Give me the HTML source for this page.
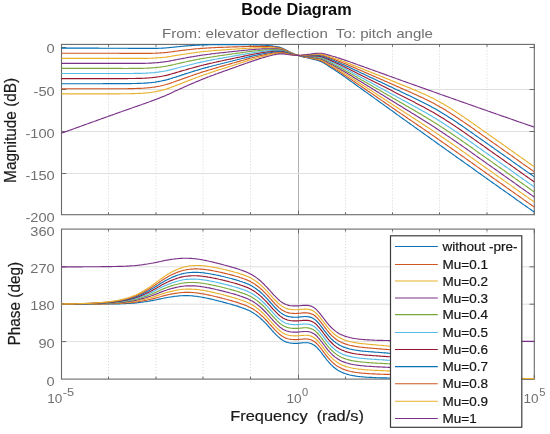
<!DOCTYPE html><html><head><meta charset="utf-8"><title>Bode Diagram</title>
<style>html,body{margin:0;padding:0;background:#fff}svg{display:block}text{font-family:"Liberation Sans",Arial,sans-serif}</style></head><body>
<svg width="550" height="434" viewBox="0 0 550 434">
<rect width="550" height="434" fill="#fff"/>
<defs><clipPath id="c1"><rect x="61.0" y="43.9" width="473.8" height="171.3"/></clipPath><clipPath id="c2"><rect x="61.0" y="228.6" width="473.8" height="151.2"/></clipPath><filter id="bl" filterUnits="userSpaceOnUse" x="0" y="0" width="550" height="434"><feGaussianBlur stdDeviation="0.4"/></filter></defs>
<line x1="108.5" y1="44.4" x2="108.5" y2="214.7" stroke="#d6d6d6" stroke-width="1" stroke-dasharray="1 2"/>
<line x1="156.0" y1="44.4" x2="156.0" y2="214.7" stroke="#d6d6d6" stroke-width="1" stroke-dasharray="1 2"/>
<line x1="203.0" y1="44.4" x2="203.0" y2="214.7" stroke="#d6d6d6" stroke-width="1" stroke-dasharray="1 2"/>
<line x1="250.5" y1="44.4" x2="250.5" y2="214.7" stroke="#d6d6d6" stroke-width="1" stroke-dasharray="1 2"/>
<line x1="298.5" y1="44.4" x2="298.5" y2="214.7" stroke="#b0b0b0" stroke-width="1"/>
<line x1="345.5" y1="44.4" x2="345.5" y2="214.7" stroke="#d6d6d6" stroke-width="1" stroke-dasharray="1 2"/>
<line x1="392.5" y1="44.4" x2="392.5" y2="214.7" stroke="#d6d6d6" stroke-width="1" stroke-dasharray="1 2"/>
<line x1="439.5" y1="44.4" x2="439.5" y2="214.7" stroke="#d6d6d6" stroke-width="1" stroke-dasharray="1 2"/>
<line x1="487.0" y1="44.4" x2="487.0" y2="214.7" stroke="#d6d6d6" stroke-width="1" stroke-dasharray="1 2"/>
<line x1="61.5" y1="89.5" x2="534.3" y2="89.5" stroke="#dfdfdf" stroke-width="1"/>
<line x1="61.5" y1="131.5" x2="534.3" y2="131.5" stroke="#dfdfdf" stroke-width="1"/>
<line x1="61.5" y1="173.5" x2="534.3" y2="173.5" stroke="#dfdfdf" stroke-width="1"/>
<rect x="61.5" y="44.4" width="472.8" height="170.3" fill="none" stroke="#6a6a6a" stroke-width="1.1"/>
<path d="M61.5 214.7v-4.2M61.5 44.4v4.2" stroke="#6a6a6a" stroke-width="1"/>
<path d="M108.5 214.7v-2.4M108.5 44.4v2.4" stroke="#6a6a6a" stroke-width="1"/>
<path d="M156.0 214.7v-2.4M156.0 44.4v2.4" stroke="#6a6a6a" stroke-width="1"/>
<path d="M203.0 214.7v-2.4M203.0 44.4v2.4" stroke="#6a6a6a" stroke-width="1"/>
<path d="M250.5 214.7v-2.4M250.5 44.4v2.4" stroke="#6a6a6a" stroke-width="1"/>
<path d="M298.5 214.7v-4.2M298.5 44.4v4.2" stroke="#6a6a6a" stroke-width="1"/>
<path d="M345.5 214.7v-2.4M345.5 44.4v2.4" stroke="#6a6a6a" stroke-width="1"/>
<path d="M392.5 214.7v-2.4M392.5 44.4v2.4" stroke="#6a6a6a" stroke-width="1"/>
<path d="M439.5 214.7v-2.4M439.5 44.4v2.4" stroke="#6a6a6a" stroke-width="1"/>
<path d="M487.0 214.7v-2.4M487.0 44.4v2.4" stroke="#6a6a6a" stroke-width="1"/>
<path d="M534.3 214.7v-4.2M534.3 44.4v4.2" stroke="#6a6a6a" stroke-width="1"/>
<path d="M61.5 47.5h4.8M534.3 47.5h-4.8" stroke="#6a6a6a" stroke-width="1"/>
<path d="M61.5 89.5h4.8M534.3 89.5h-4.8" stroke="#6a6a6a" stroke-width="1"/>
<path d="M61.5 131.5h4.8M534.3 131.5h-4.8" stroke="#6a6a6a" stroke-width="1"/>
<path d="M61.5 173.5h4.8M534.3 173.5h-4.8" stroke="#6a6a6a" stroke-width="1"/>
<g clip-path="url(#c1)"><g filter="url(#bl)" fill="none" stroke-width="1.15" stroke-linejoin="round">
<path d="M61.5 48.1 L62.5 48.1 L63.5 48.1 L64.5 48.1 L65.5 48.1 L66.5 48.1 L67.5 48.1 L68.5 48.1 L69.5 48.1 L70.5 48.1 L71.5 48.1 L72.5 48.1 L73.5 48.1 L74.5 48.1 L75.5 48.1 L76.5 48.1 L77.5 48.1 L78.5 48.1 L79.5 48.1 L80.5 48.1 L81.4 48.1 L82.4 48.1 L83.4 48.1 L84.4 48.1 L85.4 48.1 L86.4 48.1 L87.4 48.1 L88.4 48.1 L89.4 48.1 L90.4 48.1 L91.4 48.1 L92.4 48.1 L93.4 48.1 L94.4 48.1 L95.4 48.1 L96.4 48.1 L97.4 48.1 L98.4 48.1 L99.4 48.2 L100.4 48.2 L101.4 48.2 L102.4 48.2 L103.4 48.2 L104.4 48.2 L105.4 48.2 L106.4 48.2 L107.4 48.2 L108.4 48.2 L109.4 48.2 L110.4 48.2 L111.4 48.2 L112.4 48.2 L113.4 48.2 L114.4 48.2 L115.4 48.2 L116.4 48.2 L117.4 48.2 L118.4 48.2 L119.4 48.2 L120.4 48.2 L121.3 48.2 L122.3 48.2 L123.3 48.2 L124.3 48.2 L125.3 48.2 L126.3 48.2 L127.3 48.2 L128.3 48.3 L129.3 48.3 L130.3 48.3 L131.3 48.3 L132.3 48.3 L133.3 48.3 L134.3 48.3 L135.3 48.3 L136.3 48.3 L137.3 48.3 L138.3 48.3 L139.3 48.3 L140.3 48.3 L141.3 48.4 L142.3 48.4 L143.3 48.4 L144.3 48.4 L145.3 48.4 L146.3 48.4 L147.3 48.4 L148.3 48.4 L149.3 48.4 L150.3 48.4 L151.3 48.4 L152.3 48.4 L153.3 48.4 L154.3 48.4 L155.3 48.3 L156.3 48.3 L157.3 48.3 L158.3 48.3 L159.3 48.2 L160.2 48.2 L161.2 48.2 L162.2 48.1 L163.2 48.1 L164.2 48.0 L165.2 48.0 L166.2 47.9 L167.2 47.8 L168.2 47.7 L169.2 47.6 L170.2 47.5 L171.2 47.4 L172.2 47.3 L173.2 47.2 L174.2 47.1 L175.2 47.0 L176.2 46.9 L177.2 46.8 L178.2 46.7 L179.2 46.6 L180.2 46.5 L181.2 46.4 L182.2 46.3 L183.2 46.2 L184.2 46.1 L185.2 46.0 L186.2 45.9 L187.2 45.9 L188.2 45.8 L189.2 45.7 L190.2 45.6 L191.2 45.6 L192.2 45.5 L193.2 45.4 L194.2 45.4 L195.2 45.3 L196.2 45.2 L197.2 45.2 L198.2 45.1 L199.2 45.1 L200.1 45.0 L201.1 45.0 L202.1 44.9 L203.1 44.9 L204.1 44.9 L205.1 44.8 L206.1 44.8 L207.1 44.8 L208.1 44.8 L209.1 44.7 L210.1 44.7 L211.1 44.7 L212.1 44.7 L213.1 44.7 L214.1 44.7 L215.1 44.6 L216.1 44.6 L217.1 44.6 L218.1 44.6 L219.1 44.6 L220.1 44.6 L221.1 44.6 L222.1 44.6 L223.1 44.6 L224.1 44.6 L225.1 44.6 L226.1 44.6 L227.1 44.6 L228.1 44.6 L229.1 44.6 L230.1 44.6 L231.1 44.6 L232.1 44.6 L233.1 44.6 L234.1 44.6 L235.1 44.6 L236.1 44.6 L237.1 44.6 L238.1 44.6 L239.0 44.6 L240.0 44.6 L241.0 44.6 L242.0 44.7 L243.0 44.7 L244.0 44.7 L245.0 44.7 L246.0 44.7 L247.0 44.7 L248.0 44.7 L249.0 44.7 L250.0 44.7 L251.0 44.7 L252.0 44.7 L253.0 44.8 L254.0 44.8 L255.0 44.8 L256.0 44.8 L257.0 44.9 L258.0 44.9 L259.0 45.0 L260.0 45.0 L261.0 45.1 L262.0 45.1 L263.0 45.2 L264.0 45.2 L265.0 45.3 L266.0 45.4 L267.0 45.4 L268.0 45.5 L269.0 45.6 L270.0 45.7 L271.0 45.8 L272.0 45.9 L273.0 46.1 L274.0 46.2 L275.0 46.3 L276.0 46.5 L277.0 46.7 L278.0 46.9 L278.9 47.1 L279.9 47.4 L280.9 47.7 L281.9 48.0 L282.9 48.5 L283.9 48.9 L284.9 49.4 L285.9 49.9 L286.9 50.4 L287.9 50.9 L288.9 51.4 L289.9 51.9 L290.9 52.4 L291.9 52.9 L292.9 53.4 L293.9 53.8 L294.9 54.2 L295.9 54.7 L296.9 55.0 L297.9 55.4 L298.9 55.7 L299.9 56.0 L300.9 56.3 L301.9 56.6 L302.9 56.8 L303.9 57.1 L304.9 57.3 L305.9 57.5 L306.9 57.8 L307.9 58.0 L308.9 58.2 L309.9 58.5 L310.9 58.7 L311.9 58.9 L312.9 59.2 L313.9 59.4 L314.9 59.6 L315.9 59.8 L316.9 60.1 L317.8 60.4 L318.8 60.7 L319.8 61.1 L320.8 61.5 L321.8 61.9 L322.8 62.4 L323.8 63.0 L324.8 63.6 L325.8 64.2 L326.8 64.9 L327.8 65.6 L328.8 66.2 L329.8 66.9 L330.8 67.5 L331.8 68.2 L332.8 68.8 L333.8 69.5 L334.8 70.1 L335.8 70.8 L336.8 71.4 L337.8 72.1 L338.8 72.8 L339.8 73.5 L340.8 74.1 L341.8 74.8 L342.8 75.5 L343.8 76.2 L344.8 76.9 L345.8 77.6 L346.8 78.3 L347.8 79.0 L348.8 79.7 L349.8 80.5 L350.8 81.2 L351.8 81.9 L352.8 82.6 L353.8 83.3 L354.8 84.0 L355.8 84.8 L356.8 85.5 L357.7 86.2 L358.7 86.9 L359.7 87.6 L360.7 88.3 L361.7 89.0 L362.7 89.8 L363.7 90.5 L364.7 91.2 L365.7 91.9 L366.7 92.6 L367.7 93.3 L368.7 94.1 L369.7 94.8 L370.7 95.5 L371.7 96.2 L372.7 96.9 L373.7 97.6 L374.7 98.4 L375.7 99.1 L376.7 99.8 L377.7 100.5 L378.7 101.2 L379.7 102.0 L380.7 102.7 L381.7 103.4 L382.7 104.1 L383.7 104.8 L384.7 105.6 L385.7 106.3 L386.7 107.0 L387.7 107.7 L388.7 108.4 L389.7 109.2 L390.7 109.9 L391.7 110.6 L392.7 111.3 L393.7 112.0 L394.7 112.8 L395.7 113.5 L396.6 114.2 L397.6 114.9 L398.6 115.6 L399.6 116.3 L400.6 117.1 L401.6 117.8 L402.6 118.5 L403.6 119.2 L404.6 119.9 L405.6 120.6 L406.6 121.3 L407.6 122.1 L408.6 122.8 L409.6 123.5 L410.6 124.2 L411.6 124.9 L412.6 125.6 L413.6 126.3 L414.6 127.1 L415.6 127.8 L416.6 128.5 L417.6 129.2 L418.6 129.9 L419.6 130.6 L420.6 131.3 L421.6 132.1 L422.6 132.8 L423.6 133.5 L424.6 134.2 L425.6 134.9 L426.6 135.6 L427.6 136.3 L428.6 137.0 L429.6 137.8 L430.6 138.5 L431.6 139.2 L432.6 139.9 L433.6 140.6 L434.6 141.3 L435.6 142.0 L436.5 142.7 L437.5 143.5 L438.5 144.2 L439.5 144.9 L440.5 145.6 L441.5 146.3 L442.5 147.0 L443.5 147.7 L444.5 148.4 L445.5 149.2 L446.5 149.9 L447.5 150.6 L448.5 151.3 L449.5 152.0 L450.5 152.7 L451.5 153.4 L452.5 154.1 L453.5 154.8 L454.5 155.6 L455.5 156.3 L456.5 157.0 L457.5 157.7 L458.5 158.4 L459.5 159.1 L460.5 159.8 L461.5 160.5 L462.5 161.2 L463.5 161.9 L464.5 162.7 L465.5 163.4 L466.5 164.1 L467.5 164.8 L468.5 165.5 L469.5 166.2 L470.5 166.9 L471.5 167.6 L472.5 168.3 L473.5 169.0 L474.5 169.8 L475.4 170.5 L476.4 171.2 L477.4 171.9 L478.4 172.6 L479.4 173.3 L480.4 174.0 L481.4 174.7 L482.4 175.4 L483.4 176.1 L484.4 176.8 L485.4 177.6 L486.4 178.3 L487.4 179.0 L488.4 179.7 L489.4 180.4 L490.4 181.1 L491.4 181.8 L492.4 182.5 L493.4 183.2 L494.4 183.9 L495.4 184.6 L496.4 185.3 L497.4 186.0 L498.4 186.8 L499.4 187.5 L500.4 188.2 L501.4 188.9 L502.4 189.6 L503.4 190.3 L504.4 191.0 L505.4 191.7 L506.4 192.4 L507.4 193.1 L508.4 193.8 L509.4 194.5 L510.4 195.2 L511.4 195.9 L512.4 196.6 L513.4 197.3 L514.4 198.0 L515.3 198.8 L516.3 199.5 L517.3 200.2 L518.3 200.9 L519.3 201.6 L520.3 202.3 L521.3 203.0 L522.3 203.7 L523.3 204.4 L524.3 205.1 L525.3 205.8 L526.3 206.5 L527.3 207.2 L528.3 207.9 L529.3 208.6 L530.3 209.3 L531.3 210.0 L532.3 210.7 L533.3 211.4 L534.3 212.1" stroke="#096fb3"/>
<path d="M61.5 53.2 L62.5 53.2 L63.5 53.2 L64.5 53.2 L65.5 53.2 L66.5 53.2 L67.5 53.2 L68.5 53.2 L69.5 53.2 L70.5 53.2 L71.5 53.2 L72.5 53.2 L73.5 53.2 L74.5 53.2 L75.5 53.2 L76.5 53.2 L77.5 53.2 L78.5 53.2 L79.5 53.2 L80.5 53.2 L81.4 53.2 L82.4 53.2 L83.4 53.2 L84.4 53.2 L85.4 53.2 L86.4 53.2 L87.4 53.2 L88.4 53.2 L89.4 53.2 L90.4 53.2 L91.4 53.2 L92.4 53.2 L93.4 53.2 L94.4 53.2 L95.4 53.2 L96.4 53.2 L97.4 53.2 L98.4 53.2 L99.4 53.2 L100.4 53.2 L101.4 53.2 L102.4 53.2 L103.4 53.2 L104.4 53.2 L105.4 53.2 L106.4 53.2 L107.4 53.2 L108.4 53.2 L109.4 53.2 L110.4 53.2 L111.4 53.2 L112.4 53.2 L113.4 53.2 L114.4 53.2 L115.4 53.2 L116.4 53.2 L117.4 53.2 L118.4 53.2 L119.4 53.3 L120.4 53.3 L121.3 53.3 L122.3 53.3 L123.3 53.3 L124.3 53.3 L125.3 53.3 L126.3 53.3 L127.3 53.3 L128.3 53.3 L129.3 53.3 L130.3 53.3 L131.3 53.3 L132.3 53.3 L133.3 53.3 L134.3 53.3 L135.3 53.3 L136.3 53.3 L137.3 53.3 L138.3 53.3 L139.3 53.3 L140.3 53.3 L141.3 53.3 L142.3 53.3 L143.3 53.3 L144.3 53.3 L145.3 53.3 L146.3 53.3 L147.3 53.3 L148.3 53.3 L149.3 53.3 L150.3 53.3 L151.3 53.3 L152.3 53.3 L153.3 53.2 L154.3 53.2 L155.3 53.2 L156.3 53.1 L157.3 53.1 L158.3 53.0 L159.3 53.0 L160.2 52.9 L161.2 52.9 L162.2 52.8 L163.2 52.7 L164.2 52.6 L165.2 52.6 L166.2 52.5 L167.2 52.4 L168.2 52.3 L169.2 52.1 L170.2 52.0 L171.2 51.9 L172.2 51.7 L173.2 51.6 L174.2 51.4 L175.2 51.3 L176.2 51.2 L177.2 51.0 L178.2 50.9 L179.2 50.8 L180.2 50.6 L181.2 50.5 L182.2 50.4 L183.2 50.3 L184.2 50.1 L185.2 50.0 L186.2 49.9 L187.2 49.8 L188.2 49.7 L189.2 49.6 L190.2 49.5 L191.2 49.4 L192.2 49.2 L193.2 49.1 L194.2 49.0 L195.2 48.9 L196.2 48.8 L197.2 48.7 L198.2 48.7 L199.2 48.6 L200.1 48.5 L201.1 48.4 L202.1 48.3 L203.1 48.3 L204.1 48.2 L205.1 48.1 L206.1 48.1 L207.1 48.0 L208.1 48.0 L209.1 47.9 L210.1 47.8 L211.1 47.8 L212.1 47.7 L213.1 47.7 L214.1 47.6 L215.1 47.6 L216.1 47.5 L217.1 47.5 L218.1 47.4 L219.1 47.4 L220.1 47.4 L221.1 47.3 L222.1 47.3 L223.1 47.3 L224.1 47.2 L225.1 47.2 L226.1 47.2 L227.1 47.1 L228.1 47.1 L229.1 47.1 L230.1 47.0 L231.1 47.0 L232.1 47.0 L233.1 46.9 L234.1 46.9 L235.1 46.9 L236.1 46.8 L237.1 46.8 L238.1 46.8 L239.0 46.7 L240.0 46.7 L241.0 46.7 L242.0 46.6 L243.0 46.6 L244.0 46.6 L245.0 46.5 L246.0 46.5 L247.0 46.5 L248.0 46.5 L249.0 46.4 L250.0 46.4 L251.0 46.4 L252.0 46.4 L253.0 46.4 L254.0 46.3 L255.0 46.3 L256.0 46.3 L257.0 46.3 L258.0 46.3 L259.0 46.3 L260.0 46.4 L261.0 46.4 L262.0 46.4 L263.0 46.4 L264.0 46.4 L265.0 46.5 L266.0 46.5 L267.0 46.5 L268.0 46.6 L269.0 46.6 L270.0 46.7 L271.0 46.8 L272.0 46.9 L273.0 46.9 L274.0 47.0 L275.0 47.2 L276.0 47.3 L277.0 47.4 L278.0 47.6 L278.9 47.8 L279.9 48.0 L280.9 48.3 L281.9 48.6 L282.9 49.0 L283.9 49.4 L284.9 49.9 L285.9 50.3 L286.9 50.8 L287.9 51.3 L288.9 51.8 L289.9 52.2 L290.9 52.7 L291.9 53.1 L292.9 53.5 L293.9 53.9 L294.9 54.3 L295.9 54.7 L296.9 55.1 L297.9 55.4 L298.9 55.7 L299.9 56.0 L300.9 56.2 L301.9 56.4 L302.9 56.7 L303.9 56.9 L304.9 57.1 L305.9 57.3 L306.9 57.4 L307.9 57.6 L308.9 57.8 L309.9 58.0 L310.9 58.2 L311.9 58.4 L312.9 58.6 L313.9 58.8 L314.9 59.0 L315.9 59.2 L316.9 59.4 L317.8 59.7 L318.8 60.0 L319.8 60.3 L320.8 60.6 L321.8 61.1 L322.8 61.5 L323.8 62.1 L324.8 62.6 L325.8 63.2 L326.8 63.9 L327.8 64.5 L328.8 65.1 L329.8 65.7 L330.8 66.3 L331.8 67.0 L332.8 67.6 L333.8 68.2 L334.8 68.8 L335.8 69.4 L336.8 70.1 L337.8 70.7 L338.8 71.3 L339.8 72.0 L340.8 72.6 L341.8 73.3 L342.8 73.9 L343.8 74.6 L344.8 75.3 L345.8 75.9 L346.8 76.6 L347.8 77.3 L348.8 77.9 L349.8 78.6 L350.8 79.3 L351.8 80.0 L352.8 80.7 L353.8 81.3 L354.8 82.0 L355.8 82.7 L356.8 83.4 L357.7 84.1 L358.7 84.7 L359.7 85.4 L360.7 86.1 L361.7 86.8 L362.7 87.5 L363.7 88.1 L364.7 88.8 L365.7 89.5 L366.7 90.2 L367.7 90.9 L368.7 91.5 L369.7 92.2 L370.7 92.9 L371.7 93.6 L372.7 94.3 L373.7 95.0 L374.7 95.6 L375.7 96.3 L376.7 97.0 L377.7 97.7 L378.7 98.4 L379.7 99.1 L380.7 99.7 L381.7 100.4 L382.7 101.1 L383.7 101.8 L384.7 102.5 L385.7 103.2 L386.7 103.9 L387.7 104.5 L388.7 105.2 L389.7 105.9 L390.7 106.6 L391.7 107.3 L392.7 108.0 L393.7 108.6 L394.7 109.3 L395.7 110.0 L396.6 110.7 L397.6 111.4 L398.6 112.1 L399.6 112.7 L400.6 113.4 L401.6 114.1 L402.6 114.8 L403.6 115.5 L404.6 116.1 L405.6 116.8 L406.6 117.5 L407.6 118.2 L408.6 118.9 L409.6 119.5 L410.6 120.2 L411.6 120.9 L412.6 121.6 L413.6 122.3 L414.6 122.9 L415.6 123.6 L416.6 124.3 L417.6 125.0 L418.6 125.7 L419.6 126.3 L420.6 127.0 L421.6 127.7 L422.6 128.4 L423.6 129.1 L424.6 129.8 L425.6 130.4 L426.6 131.1 L427.6 131.8 L428.6 132.5 L429.6 133.2 L430.6 133.9 L431.6 134.6 L432.6 135.3 L433.6 135.9 L434.6 136.6 L435.6 137.3 L436.5 138.0 L437.5 138.7 L438.5 139.4 L439.5 140.1 L440.5 140.8 L441.5 141.5 L442.5 142.2 L443.5 142.9 L444.5 143.6 L445.5 144.3 L446.5 145.0 L447.5 145.7 L448.5 146.4 L449.5 147.1 L450.5 147.8 L451.5 148.5 L452.5 149.2 L453.5 149.9 L454.5 150.6 L455.5 151.3 L456.5 152.0 L457.5 152.7 L458.5 153.4 L459.5 154.1 L460.5 154.8 L461.5 155.5 L462.5 156.2 L463.5 156.9 L464.5 157.6 L465.5 158.4 L466.5 159.1 L467.5 159.8 L468.5 160.5 L469.5 161.2 L470.5 161.9 L471.5 162.6 L472.5 163.3 L473.5 164.0 L474.5 164.7 L475.4 165.4 L476.4 166.1 L477.4 166.9 L478.4 167.6 L479.4 168.3 L480.4 169.0 L481.4 169.7 L482.4 170.4 L483.4 171.1 L484.4 171.8 L485.4 172.5 L486.4 173.2 L487.4 173.9 L488.4 174.6 L489.4 175.3 L490.4 176.1 L491.4 176.8 L492.4 177.5 L493.4 178.2 L494.4 178.9 L495.4 179.6 L496.4 180.3 L497.4 181.0 L498.4 181.7 L499.4 182.4 L500.4 183.1 L501.4 183.8 L502.4 184.5 L503.4 185.2 L504.4 186.0 L505.4 186.7 L506.4 187.4 L507.4 188.1 L508.4 188.8 L509.4 189.5 L510.4 190.2 L511.4 190.9 L512.4 191.6 L513.4 192.3 L514.4 193.0 L515.3 193.7 L516.3 194.4 L517.3 195.1 L518.3 195.8 L519.3 196.5 L520.3 197.2 L521.3 197.9 L522.3 198.6 L523.3 199.4 L524.3 200.1 L525.3 200.8 L526.3 201.5 L527.3 202.2 L528.3 202.9 L529.3 203.6 L530.3 204.3 L531.3 205.0 L532.3 205.7 L533.3 206.4 L534.3 207.1" stroke="#cf5622"/>
<path d="M61.5 58.3 L62.5 58.3 L63.5 58.3 L64.5 58.3 L65.5 58.3 L66.5 58.3 L67.5 58.3 L68.5 58.3 L69.5 58.3 L70.5 58.3 L71.5 58.3 L72.5 58.3 L73.5 58.3 L74.5 58.3 L75.5 58.3 L76.5 58.3 L77.5 58.3 L78.5 58.3 L79.5 58.3 L80.5 58.3 L81.4 58.3 L82.4 58.3 L83.4 58.3 L84.4 58.3 L85.4 58.3 L86.4 58.3 L87.4 58.3 L88.4 58.3 L89.4 58.3 L90.4 58.3 L91.4 58.3 L92.4 58.3 L93.4 58.3 L94.4 58.3 L95.4 58.3 L96.4 58.3 L97.4 58.3 L98.4 58.3 L99.4 58.3 L100.4 58.3 L101.4 58.3 L102.4 58.3 L103.4 58.3 L104.4 58.3 L105.4 58.3 L106.4 58.3 L107.4 58.3 L108.4 58.3 L109.4 58.3 L110.4 58.3 L111.4 58.3 L112.4 58.3 L113.4 58.3 L114.4 58.3 L115.4 58.3 L116.4 58.3 L117.4 58.3 L118.4 58.3 L119.4 58.3 L120.4 58.3 L121.3 58.3 L122.3 58.3 L123.3 58.3 L124.3 58.3 L125.3 58.3 L126.3 58.3 L127.3 58.3 L128.3 58.4 L129.3 58.4 L130.3 58.4 L131.3 58.4 L132.3 58.4 L133.3 58.4 L134.3 58.4 L135.3 58.4 L136.3 58.4 L137.3 58.4 L138.3 58.3 L139.3 58.3 L140.3 58.3 L141.3 58.3 L142.3 58.3 L143.3 58.3 L144.3 58.3 L145.3 58.3 L146.3 58.3 L147.3 58.3 L148.3 58.3 L149.3 58.2 L150.3 58.2 L151.3 58.2 L152.3 58.1 L153.3 58.1 L154.3 58.0 L155.3 58.0 L156.3 57.9 L157.3 57.9 L158.3 57.8 L159.3 57.7 L160.2 57.6 L161.2 57.6 L162.2 57.5 L163.2 57.4 L164.2 57.3 L165.2 57.2 L166.2 57.1 L167.2 56.9 L168.2 56.8 L169.2 56.6 L170.2 56.5 L171.2 56.3 L172.2 56.1 L173.2 55.9 L174.2 55.8 L175.2 55.6 L176.2 55.4 L177.2 55.3 L178.2 55.1 L179.2 55.0 L180.2 54.8 L181.2 54.6 L182.2 54.5 L183.2 54.3 L184.2 54.2 L185.2 54.0 L186.2 53.9 L187.2 53.7 L188.2 53.6 L189.2 53.4 L190.2 53.3 L191.2 53.1 L192.2 53.0 L193.2 52.9 L194.2 52.7 L195.2 52.6 L196.2 52.4 L197.2 52.3 L198.2 52.2 L199.2 52.1 L200.1 52.0 L201.1 51.8 L202.1 51.7 L203.1 51.6 L204.1 51.5 L205.1 51.4 L206.1 51.3 L207.1 51.2 L208.1 51.1 L209.1 51.0 L210.1 51.0 L211.1 50.9 L212.1 50.8 L213.1 50.7 L214.1 50.6 L215.1 50.5 L216.1 50.4 L217.1 50.4 L218.1 50.3 L219.1 50.2 L220.1 50.1 L221.1 50.1 L222.1 50.0 L223.1 49.9 L224.1 49.8 L225.1 49.8 L226.1 49.7 L227.1 49.6 L228.1 49.6 L229.1 49.5 L230.1 49.4 L231.1 49.4 L232.1 49.3 L233.1 49.2 L234.1 49.2 L235.1 49.1 L236.1 49.0 L237.1 49.0 L238.1 48.9 L239.0 48.8 L240.0 48.8 L241.0 48.7 L242.0 48.6 L243.0 48.6 L244.0 48.5 L245.0 48.4 L246.0 48.4 L247.0 48.3 L248.0 48.2 L249.0 48.2 L250.0 48.1 L251.0 48.1 L252.0 48.0 L253.0 47.9 L254.0 47.9 L255.0 47.9 L256.0 47.8 L257.0 47.8 L258.0 47.8 L259.0 47.7 L260.0 47.7 L261.0 47.7 L262.0 47.7 L263.0 47.6 L264.0 47.6 L265.0 47.6 L266.0 47.6 L267.0 47.6 L268.0 47.7 L269.0 47.7 L270.0 47.7 L271.0 47.7 L272.0 47.8 L273.0 47.8 L274.0 47.9 L275.0 48.0 L276.0 48.1 L277.0 48.2 L278.0 48.3 L278.9 48.5 L279.9 48.7 L280.9 48.9 L281.9 49.2 L282.9 49.5 L283.9 49.9 L284.9 50.3 L285.9 50.8 L286.9 51.2 L287.9 51.6 L288.9 52.1 L289.9 52.5 L290.9 52.9 L291.9 53.3 L292.9 53.7 L293.9 54.1 L294.9 54.5 L295.9 54.8 L296.9 55.1 L297.9 55.4 L298.9 55.7 L299.9 55.9 L300.9 56.1 L301.9 56.3 L302.9 56.5 L303.9 56.6 L304.9 56.8 L305.9 57.0 L306.9 57.1 L307.9 57.3 L308.9 57.5 L309.9 57.6 L310.9 57.8 L311.9 57.9 L312.9 58.1 L313.9 58.2 L314.9 58.4 L315.9 58.6 L316.9 58.8 L317.8 59.0 L318.8 59.2 L319.8 59.5 L320.8 59.8 L321.8 60.2 L322.8 60.7 L323.8 61.2 L324.8 61.7 L325.8 62.3 L326.8 62.8 L327.8 63.4 L328.8 64.0 L329.8 64.6 L330.8 65.2 L331.8 65.8 L332.8 66.3 L333.8 66.9 L334.8 67.5 L335.8 68.1 L336.8 68.7 L337.8 69.3 L338.8 69.9 L339.8 70.5 L340.8 71.1 L341.8 71.7 L342.8 72.3 L343.8 73.0 L344.8 73.6 L345.8 74.2 L346.8 74.9 L347.8 75.5 L348.8 76.1 L349.8 76.8 L350.8 77.4 L351.8 78.1 L352.8 78.7 L353.8 79.3 L354.8 80.0 L355.8 80.6 L356.8 81.3 L357.7 81.9 L358.7 82.6 L359.7 83.2 L360.7 83.9 L361.7 84.5 L362.7 85.2 L363.7 85.8 L364.7 86.4 L365.7 87.1 L366.7 87.7 L367.7 88.4 L368.7 89.0 L369.7 89.7 L370.7 90.3 L371.7 91.0 L372.7 91.6 L373.7 92.3 L374.7 92.9 L375.7 93.6 L376.7 94.2 L377.7 94.9 L378.7 95.5 L379.7 96.2 L380.7 96.8 L381.7 97.5 L382.7 98.1 L383.7 98.8 L384.7 99.4 L385.7 100.1 L386.7 100.7 L387.7 101.4 L388.7 102.0 L389.7 102.7 L390.7 103.3 L391.7 103.9 L392.7 104.6 L393.7 105.2 L394.7 105.9 L395.7 106.5 L396.6 107.2 L397.6 107.8 L398.6 108.5 L399.6 109.1 L400.6 109.8 L401.6 110.4 L402.6 111.1 L403.6 111.7 L404.6 112.4 L405.6 113.0 L406.6 113.6 L407.6 114.3 L408.6 114.9 L409.6 115.6 L410.6 116.2 L411.6 116.9 L412.6 117.5 L413.6 118.2 L414.6 118.8 L415.6 119.5 L416.6 120.1 L417.6 120.8 L418.6 121.4 L419.6 122.1 L420.6 122.7 L421.6 123.4 L422.6 124.0 L423.6 124.7 L424.6 125.3 L425.6 126.0 L426.6 126.6 L427.6 127.3 L428.6 128.0 L429.6 128.6 L430.6 129.3 L431.6 129.9 L432.6 130.6 L433.6 131.3 L434.6 131.9 L435.6 132.6 L436.5 133.3 L437.5 134.0 L438.5 134.6 L439.5 135.3 L440.5 136.0 L441.5 136.7 L442.5 137.3 L443.5 138.0 L444.5 138.7 L445.5 139.4 L446.5 140.1 L447.5 140.8 L448.5 141.5 L449.5 142.1 L450.5 142.8 L451.5 143.5 L452.5 144.2 L453.5 144.9 L454.5 145.6 L455.5 146.3 L456.5 147.0 L457.5 147.7 L458.5 148.4 L459.5 149.1 L460.5 149.8 L461.5 150.5 L462.5 151.2 L463.5 151.9 L464.5 152.6 L465.5 153.3 L466.5 154.0 L467.5 154.8 L468.5 155.5 L469.5 156.2 L470.5 156.9 L471.5 157.6 L472.5 158.3 L473.5 159.0 L474.5 159.7 L475.4 160.4 L476.4 161.1 L477.4 161.8 L478.4 162.5 L479.4 163.2 L480.4 163.9 L481.4 164.7 L482.4 165.4 L483.4 166.1 L484.4 166.8 L485.4 167.5 L486.4 168.2 L487.4 168.9 L488.4 169.6 L489.4 170.3 L490.4 171.0 L491.4 171.7 L492.4 172.4 L493.4 173.1 L494.4 173.8 L495.4 174.6 L496.4 175.3 L497.4 176.0 L498.4 176.7 L499.4 177.4 L500.4 178.1 L501.4 178.8 L502.4 179.5 L503.4 180.2 L504.4 180.9 L505.4 181.6 L506.4 182.3 L507.4 183.0 L508.4 183.7 L509.4 184.4 L510.4 185.1 L511.4 185.9 L512.4 186.6 L513.4 187.3 L514.4 188.0 L515.3 188.7 L516.3 189.4 L517.3 190.1 L518.3 190.8 L519.3 191.5 L520.3 192.2 L521.3 192.9 L522.3 193.6 L523.3 194.3 L524.3 195.0 L525.3 195.7 L526.3 196.4 L527.3 197.1 L528.3 197.8 L529.3 198.5 L530.3 199.2 L531.3 199.9 L532.3 200.6 L533.3 201.3 L534.3 202.0" stroke="#e7b12f"/>
<path d="M61.5 63.4 L62.5 63.4 L63.5 63.4 L64.5 63.4 L65.5 63.4 L66.5 63.4 L67.5 63.4 L68.5 63.4 L69.5 63.4 L70.5 63.4 L71.5 63.4 L72.5 63.4 L73.5 63.4 L74.5 63.4 L75.5 63.4 L76.5 63.4 L77.5 63.4 L78.5 63.4 L79.5 63.4 L80.5 63.4 L81.4 63.4 L82.4 63.4 L83.4 63.4 L84.4 63.4 L85.4 63.4 L86.4 63.4 L87.4 63.4 L88.4 63.4 L89.4 63.4 L90.4 63.4 L91.4 63.4 L92.4 63.4 L93.4 63.4 L94.4 63.4 L95.4 63.4 L96.4 63.4 L97.4 63.4 L98.4 63.4 L99.4 63.4 L100.4 63.4 L101.4 63.4 L102.4 63.4 L103.4 63.4 L104.4 63.4 L105.4 63.4 L106.4 63.4 L107.4 63.4 L108.4 63.4 L109.4 63.4 L110.4 63.4 L111.4 63.4 L112.4 63.4 L113.4 63.4 L114.4 63.4 L115.4 63.4 L116.4 63.4 L117.4 63.4 L118.4 63.4 L119.4 63.4 L120.4 63.4 L121.3 63.4 L122.3 63.4 L123.3 63.4 L124.3 63.4 L125.3 63.4 L126.3 63.4 L127.3 63.4 L128.3 63.4 L129.3 63.4 L130.3 63.4 L131.3 63.4 L132.3 63.4 L133.3 63.4 L134.3 63.4 L135.3 63.4 L136.3 63.4 L137.3 63.4 L138.3 63.4 L139.3 63.4 L140.3 63.3 L141.3 63.3 L142.3 63.3 L143.3 63.3 L144.3 63.3 L145.3 63.3 L146.3 63.2 L147.3 63.2 L148.3 63.2 L149.3 63.1 L150.3 63.1 L151.3 63.1 L152.3 63.0 L153.3 62.9 L154.3 62.9 L155.3 62.8 L156.3 62.7 L157.3 62.6 L158.3 62.6 L159.3 62.5 L160.2 62.4 L161.2 62.3 L162.2 62.1 L163.2 62.0 L164.2 61.9 L165.2 61.8 L166.2 61.6 L167.2 61.5 L168.2 61.3 L169.2 61.1 L170.2 60.9 L171.2 60.7 L172.2 60.5 L173.2 60.3 L174.2 60.1 L175.2 59.9 L176.2 59.7 L177.2 59.5 L178.2 59.3 L179.2 59.1 L180.2 59.0 L181.2 58.8 L182.2 58.6 L183.2 58.4 L184.2 58.2 L185.2 58.0 L186.2 57.8 L187.2 57.6 L188.2 57.4 L189.2 57.3 L190.2 57.1 L191.2 56.9 L192.2 56.7 L193.2 56.6 L194.2 56.4 L195.2 56.2 L196.2 56.1 L197.2 55.9 L198.2 55.7 L199.2 55.6 L200.1 55.4 L201.1 55.3 L202.1 55.1 L203.1 55.0 L204.1 54.9 L205.1 54.7 L206.1 54.6 L207.1 54.5 L208.1 54.3 L209.1 54.2 L210.1 54.1 L211.1 53.9 L212.1 53.8 L213.1 53.7 L214.1 53.6 L215.1 53.5 L216.1 53.3 L217.1 53.2 L218.1 53.1 L219.1 53.0 L220.1 52.9 L221.1 52.8 L222.1 52.7 L223.1 52.6 L224.1 52.5 L225.1 52.4 L226.1 52.3 L227.1 52.2 L228.1 52.0 L229.1 51.9 L230.1 51.8 L231.1 51.7 L232.1 51.6 L233.1 51.5 L234.1 51.4 L235.1 51.3 L236.1 51.2 L237.1 51.1 L238.1 51.0 L239.0 50.9 L240.0 50.8 L241.0 50.7 L242.0 50.6 L243.0 50.5 L244.0 50.4 L245.0 50.3 L246.0 50.2 L247.0 50.1 L248.0 50.0 L249.0 49.9 L250.0 49.8 L251.0 49.7 L252.0 49.6 L253.0 49.5 L254.0 49.5 L255.0 49.4 L256.0 49.3 L257.0 49.2 L258.0 49.2 L259.0 49.1 L260.0 49.0 L261.0 49.0 L262.0 48.9 L263.0 48.9 L264.0 48.8 L265.0 48.8 L266.0 48.8 L267.0 48.7 L268.0 48.7 L269.0 48.7 L270.0 48.7 L271.0 48.7 L272.0 48.7 L273.0 48.7 L274.0 48.7 L275.0 48.8 L276.0 48.8 L277.0 48.9 L278.0 49.0 L278.9 49.1 L279.9 49.3 L280.9 49.5 L281.9 49.7 L282.9 50.0 L283.9 50.4 L284.9 50.8 L285.9 51.2 L286.9 51.6 L287.9 52.0 L288.9 52.4 L289.9 52.8 L290.9 53.2 L291.9 53.5 L292.9 53.9 L293.9 54.2 L294.9 54.6 L295.9 54.9 L296.9 55.1 L297.9 55.4 L298.9 55.6 L299.9 55.8 L300.9 56.0 L301.9 56.2 L302.9 56.3 L303.9 56.4 L304.9 56.6 L305.9 56.7 L306.9 56.8 L307.9 56.9 L308.9 57.1 L309.9 57.2 L310.9 57.3 L311.9 57.4 L312.9 57.6 L313.9 57.7 L314.9 57.8 L315.9 57.9 L316.9 58.1 L317.8 58.3 L318.8 58.5 L319.8 58.7 L320.8 59.0 L321.8 59.4 L322.8 59.8 L323.8 60.2 L324.8 60.7 L325.8 61.3 L326.8 61.8 L327.8 62.4 L328.8 62.9 L329.8 63.5 L330.8 64.0 L331.8 64.5 L332.8 65.1 L333.8 65.6 L334.8 66.2 L335.8 66.7 L336.8 67.3 L337.8 67.9 L338.8 68.4 L339.8 69.0 L340.8 69.6 L341.8 70.2 L342.8 70.7 L343.8 71.3 L344.8 71.9 L345.8 72.5 L346.8 73.1 L347.8 73.7 L348.8 74.3 L349.8 74.9 L350.8 75.5 L351.8 76.1 L352.8 76.8 L353.8 77.4 L354.8 78.0 L355.8 78.6 L356.8 79.2 L357.7 79.8 L358.7 80.4 L359.7 81.0 L360.7 81.6 L361.7 82.2 L362.7 82.8 L363.7 83.5 L364.7 84.1 L365.7 84.7 L366.7 85.3 L367.7 85.9 L368.7 86.5 L369.7 87.1 L370.7 87.7 L371.7 88.3 L372.7 89.0 L373.7 89.6 L374.7 90.2 L375.7 90.8 L376.7 91.4 L377.7 92.0 L378.7 92.6 L379.7 93.3 L380.7 93.9 L381.7 94.5 L382.7 95.1 L383.7 95.7 L384.7 96.3 L385.7 96.9 L386.7 97.6 L387.7 98.2 L388.7 98.8 L389.7 99.4 L390.7 100.0 L391.7 100.6 L392.7 101.2 L393.7 101.8 L394.7 102.5 L395.7 103.1 L396.6 103.7 L397.6 104.3 L398.6 104.9 L399.6 105.5 L400.6 106.1 L401.6 106.7 L402.6 107.3 L403.6 108.0 L404.6 108.6 L405.6 109.2 L406.6 109.8 L407.6 110.4 L408.6 111.0 L409.6 111.6 L410.6 112.2 L411.6 112.9 L412.6 113.5 L413.6 114.1 L414.6 114.7 L415.6 115.3 L416.6 115.9 L417.6 116.6 L418.6 117.2 L419.6 117.8 L420.6 118.4 L421.6 119.0 L422.6 119.7 L423.6 120.3 L424.6 120.9 L425.6 121.5 L426.6 122.2 L427.6 122.8 L428.6 123.4 L429.6 124.1 L430.6 124.7 L431.6 125.3 L432.6 126.0 L433.6 126.6 L434.6 127.3 L435.6 127.9 L436.5 128.5 L437.5 129.2 L438.5 129.9 L439.5 130.5 L440.5 131.2 L441.5 131.8 L442.5 132.5 L443.5 133.2 L444.5 133.8 L445.5 134.5 L446.5 135.2 L447.5 135.9 L448.5 136.5 L449.5 137.2 L450.5 137.9 L451.5 138.6 L452.5 139.3 L453.5 140.0 L454.5 140.7 L455.5 141.3 L456.5 142.0 L457.5 142.7 L458.5 143.4 L459.5 144.1 L460.5 144.8 L461.5 145.5 L462.5 146.2 L463.5 146.9 L464.5 147.6 L465.5 148.3 L466.5 149.0 L467.5 149.7 L468.5 150.4 L469.5 151.1 L470.5 151.8 L471.5 152.6 L472.5 153.3 L473.5 154.0 L474.5 154.7 L475.4 155.4 L476.4 156.1 L477.4 156.8 L478.4 157.5 L479.4 158.2 L480.4 158.9 L481.4 159.6 L482.4 160.3 L483.4 161.0 L484.4 161.7 L485.4 162.4 L486.4 163.2 L487.4 163.9 L488.4 164.6 L489.4 165.3 L490.4 166.0 L491.4 166.7 L492.4 167.4 L493.4 168.1 L494.4 168.8 L495.4 169.5 L496.4 170.2 L497.4 170.9 L498.4 171.6 L499.4 172.3 L500.4 173.0 L501.4 173.8 L502.4 174.5 L503.4 175.2 L504.4 175.9 L505.4 176.6 L506.4 177.3 L507.4 178.0 L508.4 178.7 L509.4 179.4 L510.4 180.1 L511.4 180.8 L512.4 181.5 L513.4 182.2 L514.4 182.9 L515.3 183.6 L516.3 184.3 L517.3 185.0 L518.3 185.7 L519.3 186.5 L520.3 187.2 L521.3 187.9 L522.3 188.6 L523.3 189.3 L524.3 190.0 L525.3 190.7 L526.3 191.4 L527.3 192.1 L528.3 192.8 L529.3 193.5 L530.3 194.2 L531.3 194.9 L532.3 195.6 L533.3 196.3 L534.3 197.0" stroke="#7a3288"/>
<path d="M61.5 68.4 L62.5 68.4 L63.5 68.4 L64.5 68.4 L65.5 68.4 L66.5 68.4 L67.5 68.4 L68.5 68.4 L69.5 68.4 L70.5 68.4 L71.5 68.4 L72.5 68.4 L73.5 68.4 L74.5 68.4 L75.5 68.4 L76.5 68.4 L77.5 68.4 L78.5 68.4 L79.5 68.4 L80.5 68.4 L81.4 68.4 L82.4 68.4 L83.4 68.4 L84.4 68.4 L85.4 68.4 L86.4 68.4 L87.4 68.4 L88.4 68.4 L89.4 68.4 L90.4 68.4 L91.4 68.4 L92.4 68.4 L93.4 68.4 L94.4 68.4 L95.4 68.4 L96.4 68.4 L97.4 68.4 L98.4 68.4 L99.4 68.4 L100.4 68.4 L101.4 68.4 L102.4 68.4 L103.4 68.4 L104.4 68.4 L105.4 68.4 L106.4 68.4 L107.4 68.4 L108.4 68.4 L109.4 68.4 L110.4 68.4 L111.4 68.4 L112.4 68.4 L113.4 68.4 L114.4 68.4 L115.4 68.4 L116.4 68.4 L117.4 68.4 L118.4 68.4 L119.4 68.4 L120.4 68.4 L121.3 68.4 L122.3 68.4 L123.3 68.5 L124.3 68.5 L125.3 68.5 L126.3 68.5 L127.3 68.5 L128.3 68.5 L129.3 68.4 L130.3 68.4 L131.3 68.4 L132.3 68.4 L133.3 68.4 L134.3 68.4 L135.3 68.4 L136.3 68.4 L137.3 68.4 L138.3 68.4 L139.3 68.4 L140.3 68.3 L141.3 68.3 L142.3 68.3 L143.3 68.3 L144.3 68.2 L145.3 68.2 L146.3 68.2 L147.3 68.1 L148.3 68.1 L149.3 68.1 L150.3 68.0 L151.3 67.9 L152.3 67.9 L153.3 67.8 L154.3 67.7 L155.3 67.6 L156.3 67.5 L157.3 67.4 L158.3 67.3 L159.3 67.2 L160.2 67.1 L161.2 67.0 L162.2 66.8 L163.2 66.7 L164.2 66.5 L165.2 66.4 L166.2 66.2 L167.2 66.0 L168.2 65.8 L169.2 65.6 L170.2 65.4 L171.2 65.2 L172.2 64.9 L173.2 64.7 L174.2 64.5 L175.2 64.2 L176.2 64.0 L177.2 63.8 L178.2 63.6 L179.2 63.3 L180.2 63.1 L181.2 62.9 L182.2 62.7 L183.2 62.4 L184.2 62.2 L185.2 62.0 L186.2 61.8 L187.2 61.5 L188.2 61.3 L189.2 61.1 L190.2 60.9 L191.2 60.7 L192.2 60.5 L193.2 60.3 L194.2 60.1 L195.2 59.9 L196.2 59.7 L197.2 59.5 L198.2 59.3 L199.2 59.1 L200.1 58.9 L201.1 58.7 L202.1 58.5 L203.1 58.4 L204.1 58.2 L205.1 58.0 L206.1 57.9 L207.1 57.7 L208.1 57.5 L209.1 57.4 L210.1 57.2 L211.1 57.0 L212.1 56.9 L213.1 56.7 L214.1 56.6 L215.1 56.4 L216.1 56.2 L217.1 56.1 L218.1 55.9 L219.1 55.8 L220.1 55.7 L221.1 55.5 L222.1 55.4 L223.1 55.2 L224.1 55.1 L225.1 55.0 L226.1 54.8 L227.1 54.7 L228.1 54.5 L229.1 54.4 L230.1 54.3 L231.1 54.1 L232.1 54.0 L233.1 53.8 L234.1 53.7 L235.1 53.6 L236.1 53.4 L237.1 53.3 L238.1 53.1 L239.0 53.0 L240.0 52.9 L241.0 52.7 L242.0 52.6 L243.0 52.5 L244.0 52.3 L245.0 52.2 L246.0 52.0 L247.0 51.9 L248.0 51.8 L249.0 51.6 L250.0 51.5 L251.0 51.4 L252.0 51.3 L253.0 51.1 L254.0 51.0 L255.0 50.9 L256.0 50.8 L257.0 50.7 L258.0 50.6 L259.0 50.5 L260.0 50.4 L261.0 50.3 L262.0 50.2 L263.0 50.1 L264.0 50.0 L265.0 50.0 L266.0 49.9 L267.0 49.8 L268.0 49.8 L269.0 49.7 L270.0 49.7 L271.0 49.6 L272.0 49.6 L273.0 49.6 L274.0 49.6 L275.0 49.6 L276.0 49.6 L277.0 49.7 L278.0 49.7 L278.9 49.8 L279.9 49.9 L280.9 50.1 L281.9 50.3 L282.9 50.6 L283.9 50.9 L284.9 51.2 L285.9 51.6 L286.9 52.0 L287.9 52.4 L288.9 52.7 L289.9 53.1 L290.9 53.4 L291.9 53.7 L292.9 54.1 L293.9 54.4 L294.9 54.7 L295.9 54.9 L296.9 55.2 L297.9 55.4 L298.9 55.6 L299.9 55.7 L300.9 55.9 L301.9 56.0 L302.9 56.1 L303.9 56.2 L304.9 56.3 L305.9 56.4 L306.9 56.5 L307.9 56.6 L308.9 56.7 L309.9 56.8 L310.9 56.9 L311.9 56.9 L312.9 57.0 L313.9 57.1 L314.9 57.2 L315.9 57.3 L316.9 57.4 L317.8 57.6 L318.8 57.7 L319.8 57.9 L320.8 58.2 L321.8 58.5 L322.8 58.9 L323.8 59.3 L324.8 59.8 L325.8 60.3 L326.8 60.8 L327.8 61.3 L328.8 61.8 L329.8 62.3 L330.8 62.8 L331.8 63.3 L332.8 63.8 L333.8 64.4 L334.8 64.9 L335.8 65.4 L336.8 65.9 L337.8 66.4 L338.8 67.0 L339.8 67.5 L340.8 68.1 L341.8 68.6 L342.8 69.1 L343.8 69.7 L344.8 70.3 L345.8 70.8 L346.8 71.4 L347.8 71.9 L348.8 72.5 L349.8 73.1 L350.8 73.7 L351.8 74.2 L352.8 74.8 L353.8 75.4 L354.8 76.0 L355.8 76.5 L356.8 77.1 L357.7 77.7 L358.7 78.3 L359.7 78.8 L360.7 79.4 L361.7 80.0 L362.7 80.5 L363.7 81.1 L364.7 81.7 L365.7 82.3 L366.7 82.8 L367.7 83.4 L368.7 84.0 L369.7 84.6 L370.7 85.1 L371.7 85.7 L372.7 86.3 L373.7 86.9 L374.7 87.5 L375.7 88.0 L376.7 88.6 L377.7 89.2 L378.7 89.8 L379.7 90.3 L380.7 90.9 L381.7 91.5 L382.7 92.1 L383.7 92.7 L384.7 93.2 L385.7 93.8 L386.7 94.4 L387.7 95.0 L388.7 95.6 L389.7 96.1 L390.7 96.7 L391.7 97.3 L392.7 97.9 L393.7 98.4 L394.7 99.0 L395.7 99.6 L396.6 100.2 L397.6 100.8 L398.6 101.3 L399.6 101.9 L400.6 102.5 L401.6 103.1 L402.6 103.6 L403.6 104.2 L404.6 104.8 L405.6 105.4 L406.6 105.9 L407.6 106.5 L408.6 107.1 L409.6 107.7 L410.6 108.3 L411.6 108.8 L412.6 109.4 L413.6 110.0 L414.6 110.6 L415.6 111.2 L416.6 111.8 L417.6 112.3 L418.6 112.9 L419.6 113.5 L420.6 114.1 L421.6 114.7 L422.6 115.3 L423.6 115.9 L424.6 116.5 L425.6 117.1 L426.6 117.7 L427.6 118.3 L428.6 118.9 L429.6 119.5 L430.6 120.1 L431.6 120.7 L432.6 121.3 L433.6 121.9 L434.6 122.6 L435.6 123.2 L436.5 123.8 L437.5 124.4 L438.5 125.1 L439.5 125.7 L440.5 126.4 L441.5 127.0 L442.5 127.7 L443.5 128.3 L444.5 129.0 L445.5 129.6 L446.5 130.3 L447.5 131.0 L448.5 131.6 L449.5 132.3 L450.5 133.0 L451.5 133.6 L452.5 134.3 L453.5 135.0 L454.5 135.7 L455.5 136.4 L456.5 137.1 L457.5 137.8 L458.5 138.4 L459.5 139.1 L460.5 139.8 L461.5 140.5 L462.5 141.2 L463.5 141.9 L464.5 142.6 L465.5 143.3 L466.5 144.0 L467.5 144.7 L468.5 145.4 L469.5 146.1 L470.5 146.8 L471.5 147.5 L472.5 148.2 L473.5 148.9 L474.5 149.6 L475.4 150.3 L476.4 151.1 L477.4 151.8 L478.4 152.5 L479.4 153.2 L480.4 153.9 L481.4 154.6 L482.4 155.3 L483.4 156.0 L484.4 156.7 L485.4 157.4 L486.4 158.1 L487.4 158.8 L488.4 159.5 L489.4 160.2 L490.4 160.9 L491.4 161.6 L492.4 162.4 L493.4 163.1 L494.4 163.8 L495.4 164.5 L496.4 165.2 L497.4 165.9 L498.4 166.6 L499.4 167.3 L500.4 168.0 L501.4 168.7 L502.4 169.4 L503.4 170.1 L504.4 170.8 L505.4 171.5 L506.4 172.2 L507.4 173.0 L508.4 173.7 L509.4 174.4 L510.4 175.1 L511.4 175.8 L512.4 176.5 L513.4 177.2 L514.4 177.9 L515.3 178.6 L516.3 179.3 L517.3 180.0 L518.3 180.7 L519.3 181.4 L520.3 182.1 L521.3 182.8 L522.3 183.5 L523.3 184.2 L524.3 184.9 L525.3 185.6 L526.3 186.3 L527.3 187.0 L528.3 187.8 L529.3 188.5 L530.3 189.2 L531.3 189.9 L532.3 190.6 L533.3 191.3 L534.3 192.0" stroke="#79a939"/>
<path d="M61.5 73.5 L62.5 73.5 L63.5 73.5 L64.5 73.5 L65.5 73.5 L66.5 73.5 L67.5 73.5 L68.5 73.5 L69.5 73.5 L70.5 73.5 L71.5 73.5 L72.5 73.5 L73.5 73.5 L74.5 73.5 L75.5 73.5 L76.5 73.5 L77.5 73.5 L78.5 73.5 L79.5 73.5 L80.5 73.5 L81.4 73.5 L82.4 73.5 L83.4 73.5 L84.4 73.5 L85.4 73.5 L86.4 73.5 L87.4 73.5 L88.4 73.5 L89.4 73.5 L90.4 73.5 L91.4 73.5 L92.4 73.5 L93.4 73.5 L94.4 73.5 L95.4 73.5 L96.4 73.5 L97.4 73.5 L98.4 73.5 L99.4 73.5 L100.4 73.5 L101.4 73.5 L102.4 73.5 L103.4 73.5 L104.4 73.5 L105.4 73.5 L106.4 73.5 L107.4 73.5 L108.4 73.5 L109.4 73.5 L110.4 73.5 L111.4 73.5 L112.4 73.5 L113.4 73.5 L114.4 73.5 L115.4 73.5 L116.4 73.5 L117.4 73.5 L118.4 73.5 L119.4 73.5 L120.4 73.5 L121.3 73.5 L122.3 73.5 L123.3 73.5 L124.3 73.5 L125.3 73.5 L126.3 73.5 L127.3 73.5 L128.3 73.5 L129.3 73.5 L130.3 73.5 L131.3 73.5 L132.3 73.5 L133.3 73.5 L134.3 73.4 L135.3 73.4 L136.3 73.4 L137.3 73.4 L138.3 73.4 L139.3 73.4 L140.3 73.3 L141.3 73.3 L142.3 73.3 L143.3 73.3 L144.3 73.2 L145.3 73.2 L146.3 73.1 L147.3 73.1 L148.3 73.0 L149.3 73.0 L150.3 72.9 L151.3 72.8 L152.3 72.7 L153.3 72.7 L154.3 72.6 L155.3 72.4 L156.3 72.3 L157.3 72.2 L158.3 72.1 L159.3 71.9 L160.2 71.8 L161.2 71.7 L162.2 71.5 L163.2 71.3 L164.2 71.2 L165.2 71.0 L166.2 70.8 L167.2 70.6 L168.2 70.3 L169.2 70.1 L170.2 69.9 L171.2 69.6 L172.2 69.3 L173.2 69.1 L174.2 68.8 L175.2 68.6 L176.2 68.3 L177.2 68.0 L178.2 67.8 L179.2 67.5 L180.2 67.3 L181.2 67.0 L182.2 66.7 L183.2 66.5 L184.2 66.2 L185.2 66.0 L186.2 65.7 L187.2 65.5 L188.2 65.2 L189.2 65.0 L190.2 64.7 L191.2 64.5 L192.2 64.2 L193.2 64.0 L194.2 63.8 L195.2 63.5 L196.2 63.3 L197.2 63.0 L198.2 62.8 L199.2 62.6 L200.1 62.4 L201.1 62.1 L202.1 61.9 L203.1 61.7 L204.1 61.5 L205.1 61.3 L206.1 61.1 L207.1 60.9 L208.1 60.7 L209.1 60.5 L210.1 60.3 L211.1 60.1 L212.1 59.9 L213.1 59.7 L214.1 59.5 L215.1 59.3 L216.1 59.2 L217.1 59.0 L218.1 58.8 L219.1 58.6 L220.1 58.4 L221.1 58.2 L222.1 58.1 L223.1 57.9 L224.1 57.7 L225.1 57.5 L226.1 57.4 L227.1 57.2 L228.1 57.0 L229.1 56.8 L230.1 56.7 L231.1 56.5 L232.1 56.3 L233.1 56.1 L234.1 56.0 L235.1 55.8 L236.1 55.6 L237.1 55.4 L238.1 55.3 L239.0 55.1 L240.0 54.9 L241.0 54.7 L242.0 54.6 L243.0 54.4 L244.0 54.2 L245.0 54.1 L246.0 53.9 L247.0 53.7 L248.0 53.5 L249.0 53.4 L250.0 53.2 L251.0 53.0 L252.0 52.9 L253.0 52.7 L254.0 52.6 L255.0 52.4 L256.0 52.3 L257.0 52.1 L258.0 52.0 L259.0 51.9 L260.0 51.7 L261.0 51.6 L262.0 51.5 L263.0 51.4 L264.0 51.2 L265.0 51.1 L266.0 51.0 L267.0 50.9 L268.0 50.8 L269.0 50.8 L270.0 50.7 L271.0 50.6 L272.0 50.5 L273.0 50.5 L274.0 50.4 L275.0 50.4 L276.0 50.4 L277.0 50.4 L278.0 50.4 L278.9 50.5 L279.9 50.6 L280.9 50.7 L281.9 50.9 L282.9 51.1 L283.9 51.4 L284.9 51.7 L285.9 52.0 L286.9 52.4 L287.9 52.7 L288.9 53.0 L289.9 53.4 L290.9 53.7 L291.9 54.0 L292.9 54.2 L293.9 54.5 L294.9 54.8 L295.9 55.0 L296.9 55.2 L297.9 55.4 L298.9 55.6 L299.9 55.7 L300.9 55.8 L301.9 55.9 L302.9 55.9 L303.9 56.0 L304.9 56.1 L305.9 56.1 L306.9 56.2 L307.9 56.2 L308.9 56.3 L309.9 56.3 L310.9 56.4 L311.9 56.4 L312.9 56.5 L313.9 56.5 L314.9 56.6 L315.9 56.7 L316.9 56.7 L317.8 56.8 L318.8 57.0 L319.8 57.2 L320.8 57.4 L321.8 57.7 L322.8 58.0 L323.8 58.4 L324.8 58.8 L325.8 59.3 L326.8 59.8 L327.8 60.2 L328.8 60.7 L329.8 61.2 L330.8 61.7 L331.8 62.1 L332.8 62.6 L333.8 63.1 L334.8 63.6 L335.8 64.0 L336.8 64.5 L337.8 65.0 L338.8 65.5 L339.8 66.0 L340.8 66.5 L341.8 67.0 L342.8 67.6 L343.8 68.1 L344.8 68.6 L345.8 69.1 L346.8 69.6 L347.8 70.2 L348.8 70.7 L349.8 71.2 L350.8 71.8 L351.8 72.3 L352.8 72.9 L353.8 73.4 L354.8 73.9 L355.8 74.5 L356.8 75.0 L357.7 75.6 L358.7 76.1 L359.7 76.6 L360.7 77.2 L361.7 77.7 L362.7 78.2 L363.7 78.8 L364.7 79.3 L365.7 79.9 L366.7 80.4 L367.7 80.9 L368.7 81.5 L369.7 82.0 L370.7 82.6 L371.7 83.1 L372.7 83.6 L373.7 84.2 L374.7 84.7 L375.7 85.3 L376.7 85.8 L377.7 86.4 L378.7 86.9 L379.7 87.4 L380.7 88.0 L381.7 88.5 L382.7 89.1 L383.7 89.6 L384.7 90.2 L385.7 90.7 L386.7 91.2 L387.7 91.8 L388.7 92.3 L389.7 92.9 L390.7 93.4 L391.7 94.0 L392.7 94.5 L393.7 95.1 L394.7 95.6 L395.7 96.1 L396.6 96.7 L397.6 97.2 L398.6 97.8 L399.6 98.3 L400.6 98.8 L401.6 99.4 L402.6 99.9 L403.6 100.5 L404.6 101.0 L405.6 101.6 L406.6 102.1 L407.6 102.6 L408.6 103.2 L409.6 103.7 L410.6 104.3 L411.6 104.8 L412.6 105.4 L413.6 105.9 L414.6 106.5 L415.6 107.0 L416.6 107.6 L417.6 108.1 L418.6 108.7 L419.6 109.2 L420.6 109.8 L421.6 110.4 L422.6 110.9 L423.6 111.5 L424.6 112.0 L425.6 112.6 L426.6 113.2 L427.6 113.8 L428.6 114.3 L429.6 114.9 L430.6 115.5 L431.6 116.1 L432.6 116.7 L433.6 117.3 L434.6 117.9 L435.6 118.5 L436.5 119.1 L437.5 119.7 L438.5 120.3 L439.5 120.9 L440.5 121.6 L441.5 122.2 L442.5 122.8 L443.5 123.5 L444.5 124.1 L445.5 124.8 L446.5 125.4 L447.5 126.1 L448.5 126.7 L449.5 127.4 L450.5 128.0 L451.5 128.7 L452.5 129.4 L453.5 130.1 L454.5 130.7 L455.5 131.4 L456.5 132.1 L457.5 132.8 L458.5 133.5 L459.5 134.1 L460.5 134.8 L461.5 135.5 L462.5 136.2 L463.5 136.9 L464.5 137.6 L465.5 138.3 L466.5 139.0 L467.5 139.7 L468.5 140.4 L469.5 141.1 L470.5 141.8 L471.5 142.5 L472.5 143.2 L473.5 143.9 L474.5 144.6 L475.4 145.3 L476.4 146.0 L477.4 146.7 L478.4 147.4 L479.4 148.1 L480.4 148.8 L481.4 149.5 L482.4 150.3 L483.4 151.0 L484.4 151.7 L485.4 152.4 L486.4 153.1 L487.4 153.8 L488.4 154.5 L489.4 155.2 L490.4 155.9 L491.4 156.6 L492.4 157.3 L493.4 158.0 L494.4 158.7 L495.4 159.4 L496.4 160.1 L497.4 160.9 L498.4 161.6 L499.4 162.3 L500.4 163.0 L501.4 163.7 L502.4 164.4 L503.4 165.1 L504.4 165.8 L505.4 166.5 L506.4 167.2 L507.4 167.9 L508.4 168.6 L509.4 169.3 L510.4 170.0 L511.4 170.7 L512.4 171.4 L513.4 172.1 L514.4 172.8 L515.3 173.6 L516.3 174.3 L517.3 175.0 L518.3 175.7 L519.3 176.4 L520.3 177.1 L521.3 177.8 L522.3 178.5 L523.3 179.2 L524.3 179.9 L525.3 180.6 L526.3 181.3 L527.3 182.0 L528.3 182.7 L529.3 183.4 L530.3 184.1 L531.3 184.8 L532.3 185.5 L533.3 186.2 L534.3 186.9" stroke="#55bbe6"/>
<path d="M61.5 78.6 L62.5 78.6 L63.5 78.6 L64.5 78.6 L65.5 78.6 L66.5 78.6 L67.5 78.6 L68.5 78.6 L69.5 78.6 L70.5 78.6 L71.5 78.6 L72.5 78.6 L73.5 78.6 L74.5 78.6 L75.5 78.6 L76.5 78.6 L77.5 78.6 L78.5 78.6 L79.5 78.6 L80.5 78.6 L81.4 78.6 L82.4 78.6 L83.4 78.6 L84.4 78.6 L85.4 78.6 L86.4 78.6 L87.4 78.6 L88.4 78.6 L89.4 78.6 L90.4 78.6 L91.4 78.6 L92.4 78.6 L93.4 78.6 L94.4 78.6 L95.4 78.6 L96.4 78.6 L97.4 78.6 L98.4 78.6 L99.4 78.6 L100.4 78.6 L101.4 78.6 L102.4 78.6 L103.4 78.6 L104.4 78.6 L105.4 78.6 L106.4 78.6 L107.4 78.6 L108.4 78.6 L109.4 78.6 L110.4 78.6 L111.4 78.6 L112.4 78.6 L113.4 78.6 L114.4 78.6 L115.4 78.6 L116.4 78.6 L117.4 78.6 L118.4 78.6 L119.4 78.6 L120.4 78.6 L121.3 78.6 L122.3 78.6 L123.3 78.6 L124.3 78.6 L125.3 78.6 L126.3 78.6 L127.3 78.6 L128.3 78.5 L129.3 78.5 L130.3 78.5 L131.3 78.5 L132.3 78.5 L133.3 78.5 L134.3 78.5 L135.3 78.5 L136.3 78.4 L137.3 78.4 L138.3 78.4 L139.3 78.4 L140.3 78.3 L141.3 78.3 L142.3 78.3 L143.3 78.2 L144.3 78.2 L145.3 78.1 L146.3 78.1 L147.3 78.0 L148.3 78.0 L149.3 77.9 L150.3 77.8 L151.3 77.7 L152.3 77.6 L153.3 77.5 L154.3 77.4 L155.3 77.3 L156.3 77.1 L157.3 77.0 L158.3 76.8 L159.3 76.7 L160.2 76.5 L161.2 76.3 L162.2 76.2 L163.2 76.0 L164.2 75.8 L165.2 75.6 L166.2 75.4 L167.2 75.1 L168.2 74.9 L169.2 74.6 L170.2 74.3 L171.2 74.0 L172.2 73.7 L173.2 73.4 L174.2 73.2 L175.2 72.9 L176.2 72.6 L177.2 72.3 L178.2 72.0 L179.2 71.7 L180.2 71.4 L181.2 71.1 L182.2 70.8 L183.2 70.5 L184.2 70.2 L185.2 70.0 L186.2 69.7 L187.2 69.4 L188.2 69.1 L189.2 68.8 L190.2 68.5 L191.2 68.3 L192.2 68.0 L193.2 67.7 L194.2 67.4 L195.2 67.2 L196.2 66.9 L197.2 66.6 L198.2 66.3 L199.2 66.1 L200.1 65.8 L201.1 65.6 L202.1 65.3 L203.1 65.1 L204.1 64.8 L205.1 64.6 L206.1 64.4 L207.1 64.1 L208.1 63.9 L209.1 63.7 L210.1 63.4 L211.1 63.2 L212.1 63.0 L213.1 62.7 L214.1 62.5 L215.1 62.3 L216.1 62.1 L217.1 61.8 L218.1 61.6 L219.1 61.4 L220.1 61.2 L221.1 61.0 L222.1 60.8 L223.1 60.5 L224.1 60.3 L225.1 60.1 L226.1 59.9 L227.1 59.7 L228.1 59.5 L229.1 59.3 L230.1 59.1 L231.1 58.9 L232.1 58.7 L233.1 58.4 L234.1 58.2 L235.1 58.0 L236.1 57.8 L237.1 57.6 L238.1 57.4 L239.0 57.2 L240.0 57.0 L241.0 56.8 L242.0 56.6 L243.0 56.4 L244.0 56.1 L245.0 55.9 L246.0 55.7 L247.0 55.5 L248.0 55.3 L249.0 55.1 L250.0 54.9 L251.0 54.7 L252.0 54.5 L253.0 54.3 L254.0 54.1 L255.0 54.0 L256.0 53.8 L257.0 53.6 L258.0 53.4 L259.0 53.3 L260.0 53.1 L261.0 52.9 L262.0 52.8 L263.0 52.6 L264.0 52.5 L265.0 52.3 L266.0 52.2 L267.0 52.0 L268.0 51.9 L269.0 51.8 L270.0 51.7 L271.0 51.6 L272.0 51.5 L273.0 51.4 L274.0 51.3 L275.0 51.2 L276.0 51.2 L277.0 51.2 L278.0 51.1 L278.9 51.2 L279.9 51.2 L280.9 51.3 L281.9 51.4 L282.9 51.6 L283.9 51.9 L284.9 52.2 L285.9 52.5 L286.9 52.8 L287.9 53.1 L288.9 53.4 L289.9 53.6 L290.9 53.9 L291.9 54.2 L292.9 54.4 L293.9 54.7 L294.9 54.9 L295.9 55.1 L296.9 55.3 L297.9 55.4 L298.9 55.5 L299.9 55.6 L300.9 55.7 L301.9 55.7 L302.9 55.8 L303.9 55.8 L304.9 55.8 L305.9 55.8 L306.9 55.9 L307.9 55.9 L308.9 55.9 L309.9 55.9 L310.9 55.9 L311.9 55.9 L312.9 56.0 L313.9 56.0 L314.9 56.0 L315.9 56.0 L316.9 56.1 L317.8 56.1 L318.8 56.2 L319.8 56.4 L320.8 56.6 L321.8 56.8 L322.8 57.1 L323.8 57.5 L324.8 57.9 L325.8 58.3 L326.8 58.7 L327.8 59.2 L328.8 59.6 L329.8 60.1 L330.8 60.5 L331.8 60.9 L332.8 61.4 L333.8 61.8 L334.8 62.2 L335.8 62.7 L336.8 63.2 L337.8 63.6 L338.8 64.1 L339.8 64.5 L340.8 65.0 L341.8 65.5 L342.8 66.0 L343.8 66.4 L344.8 66.9 L345.8 67.4 L346.8 67.9 L347.8 68.4 L348.8 68.9 L349.8 69.4 L350.8 69.9 L351.8 70.4 L352.8 70.9 L353.8 71.4 L354.8 71.9 L355.8 72.4 L356.8 72.9 L357.7 73.4 L358.7 73.9 L359.7 74.4 L360.7 74.9 L361.7 75.4 L362.7 75.9 L363.7 76.4 L364.7 76.9 L365.7 77.4 L366.7 77.9 L367.7 78.5 L368.7 79.0 L369.7 79.5 L370.7 80.0 L371.7 80.5 L372.7 81.0 L373.7 81.5 L374.7 82.0 L375.7 82.5 L376.7 83.0 L377.7 83.5 L378.7 84.0 L379.7 84.5 L380.7 85.0 L381.7 85.6 L382.7 86.1 L383.7 86.6 L384.7 87.1 L385.7 87.6 L386.7 88.1 L387.7 88.6 L388.7 89.1 L389.7 89.6 L390.7 90.1 L391.7 90.6 L392.7 91.1 L393.7 91.7 L394.7 92.2 L395.7 92.7 L396.6 93.2 L397.6 93.7 L398.6 94.2 L399.6 94.7 L400.6 95.2 L401.6 95.7 L402.6 96.2 L403.6 96.7 L404.6 97.2 L405.6 97.7 L406.6 98.2 L407.6 98.8 L408.6 99.3 L409.6 99.8 L410.6 100.3 L411.6 100.8 L412.6 101.3 L413.6 101.8 L414.6 102.3 L415.6 102.9 L416.6 103.4 L417.6 103.9 L418.6 104.4 L419.6 105.0 L420.6 105.5 L421.6 106.0 L422.6 106.5 L423.6 107.1 L424.6 107.6 L425.6 108.2 L426.6 108.7 L427.6 109.3 L428.6 109.8 L429.6 110.4 L430.6 110.9 L431.6 111.5 L432.6 112.0 L433.6 112.6 L434.6 113.2 L435.6 113.8 L436.5 114.4 L437.5 115.0 L438.5 115.6 L439.5 116.2 L440.5 116.8 L441.5 117.4 L442.5 118.0 L443.5 118.6 L444.5 119.2 L445.5 119.9 L446.5 120.5 L447.5 121.2 L448.5 121.8 L449.5 122.5 L450.5 123.1 L451.5 123.8 L452.5 124.4 L453.5 125.1 L454.5 125.8 L455.5 126.4 L456.5 127.1 L457.5 127.8 L458.5 128.5 L459.5 129.2 L460.5 129.8 L461.5 130.5 L462.5 131.2 L463.5 131.9 L464.5 132.6 L465.5 133.3 L466.5 134.0 L467.5 134.7 L468.5 135.4 L469.5 136.1 L470.5 136.8 L471.5 137.5 L472.5 138.2 L473.5 138.9 L474.5 139.6 L475.4 140.3 L476.4 141.0 L477.4 141.7 L478.4 142.4 L479.4 143.1 L480.4 143.8 L481.4 144.5 L482.4 145.2 L483.4 145.9 L484.4 146.6 L485.4 147.3 L486.4 148.0 L487.4 148.7 L488.4 149.5 L489.4 150.2 L490.4 150.9 L491.4 151.6 L492.4 152.3 L493.4 153.0 L494.4 153.7 L495.4 154.4 L496.4 155.1 L497.4 155.8 L498.4 156.5 L499.4 157.2 L500.4 157.9 L501.4 158.6 L502.4 159.3 L503.4 160.0 L504.4 160.8 L505.4 161.5 L506.4 162.2 L507.4 162.9 L508.4 163.6 L509.4 164.3 L510.4 165.0 L511.4 165.7 L512.4 166.4 L513.4 167.1 L514.4 167.8 L515.3 168.5 L516.3 169.2 L517.3 169.9 L518.3 170.6 L519.3 171.3 L520.3 172.0 L521.3 172.7 L522.3 173.4 L523.3 174.2 L524.3 174.9 L525.3 175.6 L526.3 176.3 L527.3 177.0 L528.3 177.7 L529.3 178.4 L530.3 179.1 L531.3 179.8 L532.3 180.5 L533.3 181.2 L534.3 181.9" stroke="#981931"/>
<path d="M61.5 83.7 L62.5 83.7 L63.5 83.7 L64.5 83.7 L65.5 83.7 L66.5 83.7 L67.5 83.7 L68.5 83.7 L69.5 83.7 L70.5 83.7 L71.5 83.7 L72.5 83.7 L73.5 83.7 L74.5 83.7 L75.5 83.7 L76.5 83.7 L77.5 83.7 L78.5 83.7 L79.5 83.7 L80.5 83.7 L81.4 83.7 L82.4 83.7 L83.4 83.7 L84.4 83.7 L85.4 83.7 L86.4 83.7 L87.4 83.7 L88.4 83.7 L89.4 83.7 L90.4 83.7 L91.4 83.7 L92.4 83.7 L93.4 83.7 L94.4 83.7 L95.4 83.7 L96.4 83.7 L97.4 83.7 L98.4 83.7 L99.4 83.7 L100.4 83.7 L101.4 83.7 L102.4 83.7 L103.4 83.6 L104.4 83.6 L105.4 83.6 L106.4 83.6 L107.4 83.6 L108.4 83.6 L109.4 83.6 L110.4 83.6 L111.4 83.6 L112.4 83.6 L113.4 83.6 L114.4 83.6 L115.4 83.6 L116.4 83.6 L117.4 83.6 L118.4 83.6 L119.4 83.6 L120.4 83.6 L121.3 83.6 L122.3 83.6 L123.3 83.6 L124.3 83.6 L125.3 83.6 L126.3 83.6 L127.3 83.6 L128.3 83.6 L129.3 83.6 L130.3 83.6 L131.3 83.6 L132.3 83.5 L133.3 83.5 L134.3 83.5 L135.3 83.5 L136.3 83.5 L137.3 83.4 L138.3 83.4 L139.3 83.4 L140.3 83.3 L141.3 83.3 L142.3 83.2 L143.3 83.2 L144.3 83.1 L145.3 83.1 L146.3 83.0 L147.3 82.9 L148.3 82.9 L149.3 82.8 L150.3 82.7 L151.3 82.6 L152.3 82.5 L153.3 82.4 L154.3 82.2 L155.3 82.1 L156.3 81.9 L157.3 81.8 L158.3 81.6 L159.3 81.4 L160.2 81.2 L161.2 81.0 L162.2 80.8 L163.2 80.6 L164.2 80.4 L165.2 80.2 L166.2 79.9 L167.2 79.7 L168.2 79.4 L169.2 79.1 L170.2 78.8 L171.2 78.5 L172.2 78.1 L173.2 77.8 L174.2 77.5 L175.2 77.2 L176.2 76.9 L177.2 76.5 L178.2 76.2 L179.2 75.9 L180.2 75.6 L181.2 75.2 L182.2 74.9 L183.2 74.6 L184.2 74.3 L185.2 73.9 L186.2 73.6 L187.2 73.3 L188.2 73.0 L189.2 72.7 L190.2 72.4 L191.2 72.0 L192.2 71.7 L193.2 71.4 L194.2 71.1 L195.2 70.8 L196.2 70.5 L197.2 70.2 L198.2 69.9 L199.2 69.6 L200.1 69.3 L201.1 69.0 L202.1 68.7 L203.1 68.4 L204.1 68.2 L205.1 67.9 L206.1 67.6 L207.1 67.4 L208.1 67.1 L209.1 66.8 L210.1 66.5 L211.1 66.3 L212.1 66.0 L213.1 65.7 L214.1 65.5 L215.1 65.2 L216.1 65.0 L217.1 64.7 L218.1 64.5 L219.1 64.2 L220.1 64.0 L221.1 63.7 L222.1 63.5 L223.1 63.2 L224.1 63.0 L225.1 62.7 L226.1 62.5 L227.1 62.2 L228.1 62.0 L229.1 61.7 L230.1 61.5 L231.1 61.2 L232.1 61.0 L233.1 60.7 L234.1 60.5 L235.1 60.3 L236.1 60.0 L237.1 59.8 L238.1 59.5 L239.0 59.3 L240.0 59.0 L241.0 58.8 L242.0 58.5 L243.0 58.3 L244.0 58.1 L245.0 57.8 L246.0 57.6 L247.0 57.3 L248.0 57.1 L249.0 56.9 L250.0 56.6 L251.0 56.4 L252.0 56.1 L253.0 55.9 L254.0 55.7 L255.0 55.5 L256.0 55.3 L257.0 55.1 L258.0 54.8 L259.0 54.6 L260.0 54.4 L261.0 54.2 L262.0 54.0 L263.0 53.8 L264.0 53.7 L265.0 53.5 L266.0 53.3 L267.0 53.1 L268.0 53.0 L269.0 52.8 L270.0 52.7 L271.0 52.5 L272.0 52.4 L273.0 52.3 L274.0 52.1 L275.0 52.1 L276.0 52.0 L277.0 51.9 L278.0 51.9 L278.9 51.8 L279.9 51.9 L280.9 51.9 L281.9 52.0 L282.9 52.2 L283.9 52.4 L284.9 52.6 L285.9 52.9 L286.9 53.1 L287.9 53.4 L288.9 53.7 L289.9 53.9 L290.9 54.2 L291.9 54.4 L292.9 54.6 L293.9 54.8 L294.9 55.0 L295.9 55.2 L296.9 55.3 L297.9 55.4 L298.9 55.5 L299.9 55.5 L300.9 55.6 L301.9 55.6 L302.9 55.6 L303.9 55.6 L304.9 55.6 L305.9 55.6 L306.9 55.5 L307.9 55.5 L308.9 55.5 L309.9 55.5 L310.9 55.5 L311.9 55.5 L312.9 55.4 L313.9 55.4 L314.9 55.4 L315.9 55.4 L316.9 55.4 L317.8 55.4 L318.8 55.5 L319.8 55.6 L320.8 55.8 L321.8 56.0 L322.8 56.2 L323.8 56.5 L324.8 56.9 L325.8 57.3 L326.8 57.7 L327.8 58.1 L328.8 58.5 L329.8 58.9 L330.8 59.3 L331.8 59.7 L332.8 60.1 L333.8 60.5 L334.8 60.9 L335.8 61.4 L336.8 61.8 L337.8 62.2 L338.8 62.6 L339.8 63.0 L340.8 63.5 L341.8 63.9 L342.8 64.4 L343.8 64.8 L344.8 65.3 L345.8 65.7 L346.8 66.2 L347.8 66.6 L348.8 67.1 L349.8 67.6 L350.8 68.0 L351.8 68.5 L352.8 69.0 L353.8 69.4 L354.8 69.9 L355.8 70.4 L356.8 70.8 L357.7 71.3 L358.7 71.8 L359.7 72.2 L360.7 72.7 L361.7 73.2 L362.7 73.6 L363.7 74.1 L364.7 74.6 L365.7 75.0 L366.7 75.5 L367.7 76.0 L368.7 76.4 L369.7 76.9 L370.7 77.4 L371.7 77.9 L372.7 78.3 L373.7 78.8 L374.7 79.3 L375.7 79.7 L376.7 80.2 L377.7 80.7 L378.7 81.2 L379.7 81.6 L380.7 82.1 L381.7 82.6 L382.7 83.1 L383.7 83.5 L384.7 84.0 L385.7 84.5 L386.7 84.9 L387.7 85.4 L388.7 85.9 L389.7 86.4 L390.7 86.8 L391.7 87.3 L392.7 87.8 L393.7 88.3 L394.7 88.7 L395.7 89.2 L396.6 89.7 L397.6 90.1 L398.6 90.6 L399.6 91.1 L400.6 91.6 L401.6 92.0 L402.6 92.5 L403.6 93.0 L404.6 93.4 L405.6 93.9 L406.6 94.4 L407.6 94.9 L408.6 95.3 L409.6 95.8 L410.6 96.3 L411.6 96.8 L412.6 97.3 L413.6 97.7 L414.6 98.2 L415.6 98.7 L416.6 99.2 L417.6 99.7 L418.6 100.2 L419.6 100.7 L420.6 101.2 L421.6 101.7 L422.6 102.2 L423.6 102.7 L424.6 103.2 L425.6 103.7 L426.6 104.2 L427.6 104.7 L428.6 105.3 L429.6 105.8 L430.6 106.3 L431.6 106.9 L432.6 107.4 L433.6 108.0 L434.6 108.5 L435.6 109.1 L436.5 109.6 L437.5 110.2 L438.5 110.8 L439.5 111.4 L440.5 112.0 L441.5 112.6 L442.5 113.2 L443.5 113.8 L444.5 114.4 L445.5 115.0 L446.5 115.6 L447.5 116.3 L448.5 116.9 L449.5 117.5 L450.5 118.2 L451.5 118.8 L452.5 119.5 L453.5 120.1 L454.5 120.8 L455.5 121.5 L456.5 122.1 L457.5 122.8 L458.5 123.5 L459.5 124.2 L460.5 124.8 L461.5 125.5 L462.5 126.2 L463.5 126.9 L464.5 127.6 L465.5 128.3 L466.5 129.0 L467.5 129.7 L468.5 130.4 L469.5 131.1 L470.5 131.8 L471.5 132.5 L472.5 133.2 L473.5 133.9 L474.5 134.6 L475.4 135.3 L476.4 136.0 L477.4 136.7 L478.4 137.4 L479.4 138.1 L480.4 138.8 L481.4 139.5 L482.4 140.2 L483.4 140.9 L484.4 141.6 L485.4 142.3 L486.4 143.0 L487.4 143.7 L488.4 144.4 L489.4 145.1 L490.4 145.8 L491.4 146.5 L492.4 147.2 L493.4 147.9 L494.4 148.7 L495.4 149.4 L496.4 150.1 L497.4 150.8 L498.4 151.5 L499.4 152.2 L500.4 152.9 L501.4 153.6 L502.4 154.3 L503.4 155.0 L504.4 155.7 L505.4 156.4 L506.4 157.1 L507.4 157.8 L508.4 158.5 L509.4 159.2 L510.4 159.9 L511.4 160.7 L512.4 161.4 L513.4 162.1 L514.4 162.8 L515.3 163.5 L516.3 164.2 L517.3 164.9 L518.3 165.6 L519.3 166.3 L520.3 167.0 L521.3 167.7 L522.3 168.4 L523.3 169.1 L524.3 169.8 L525.3 170.5 L526.3 171.2 L527.3 171.9 L528.3 172.6 L529.3 173.3 L530.3 174.0 L531.3 174.7 L532.3 175.4 L533.3 176.1 L534.3 176.8" stroke="#096fb3"/>
<path d="M61.5 88.7 L62.5 88.7 L63.5 88.7 L64.5 88.7 L65.5 88.7 L66.5 88.7 L67.5 88.7 L68.5 88.7 L69.5 88.7 L70.5 88.7 L71.5 88.7 L72.5 88.7 L73.5 88.7 L74.5 88.7 L75.5 88.7 L76.5 88.7 L77.5 88.7 L78.5 88.7 L79.5 88.7 L80.5 88.7 L81.4 88.7 L82.4 88.7 L83.4 88.7 L84.4 88.7 L85.4 88.7 L86.4 88.7 L87.4 88.7 L88.4 88.7 L89.4 88.7 L90.4 88.7 L91.4 88.7 L92.4 88.7 L93.4 88.7 L94.4 88.7 L95.4 88.7 L96.4 88.7 L97.4 88.7 L98.4 88.7 L99.4 88.7 L100.4 88.7 L101.4 88.7 L102.4 88.7 L103.4 88.7 L104.4 88.7 L105.4 88.7 L106.4 88.7 L107.4 88.7 L108.4 88.7 L109.4 88.7 L110.4 88.7 L111.4 88.7 L112.4 88.7 L113.4 88.7 L114.4 88.7 L115.4 88.7 L116.4 88.7 L117.4 88.7 L118.4 88.7 L119.4 88.7 L120.4 88.7 L121.3 88.7 L122.3 88.7 L123.3 88.7 L124.3 88.7 L125.3 88.7 L126.3 88.7 L127.3 88.7 L128.3 88.6 L129.3 88.6 L130.3 88.6 L131.3 88.6 L132.3 88.6 L133.3 88.6 L134.3 88.5 L135.3 88.5 L136.3 88.5 L137.3 88.4 L138.3 88.4 L139.3 88.4 L140.3 88.3 L141.3 88.3 L142.3 88.2 L143.3 88.2 L144.3 88.1 L145.3 88.0 L146.3 88.0 L147.3 87.9 L148.3 87.8 L149.3 87.7 L150.3 87.6 L151.3 87.5 L152.3 87.3 L153.3 87.2 L154.3 87.1 L155.3 86.9 L156.3 86.7 L157.3 86.5 L158.3 86.4 L159.3 86.2 L160.2 86.0 L161.2 85.7 L162.2 85.5 L163.2 85.3 L164.2 85.0 L165.2 84.8 L166.2 84.5 L167.2 84.2 L168.2 83.9 L169.2 83.6 L170.2 83.2 L171.2 82.9 L172.2 82.5 L173.2 82.2 L174.2 81.8 L175.2 81.5 L176.2 81.1 L177.2 80.8 L178.2 80.4 L179.2 80.1 L180.2 79.7 L181.2 79.4 L182.2 79.0 L183.2 78.6 L184.2 78.3 L185.2 77.9 L186.2 77.6 L187.2 77.2 L188.2 76.9 L189.2 76.5 L190.2 76.2 L191.2 75.8 L192.2 75.5 L193.2 75.1 L194.2 74.8 L195.2 74.4 L196.2 74.1 L197.2 73.8 L198.2 73.4 L199.2 73.1 L200.1 72.8 L201.1 72.4 L202.1 72.1 L203.1 71.8 L204.1 71.5 L205.1 71.2 L206.1 70.9 L207.1 70.6 L208.1 70.3 L209.1 70.0 L210.1 69.7 L211.1 69.4 L212.1 69.1 L213.1 68.8 L214.1 68.5 L215.1 68.2 L216.1 67.9 L217.1 67.6 L218.1 67.3 L219.1 67.0 L220.1 66.7 L221.1 66.4 L222.1 66.1 L223.1 65.9 L224.1 65.6 L225.1 65.3 L226.1 65.0 L227.1 64.7 L228.1 64.5 L229.1 64.2 L230.1 63.9 L231.1 63.6 L232.1 63.3 L233.1 63.0 L234.1 62.8 L235.1 62.5 L236.1 62.2 L237.1 61.9 L238.1 61.6 L239.0 61.4 L240.0 61.1 L241.0 60.8 L242.0 60.5 L243.0 60.3 L244.0 60.0 L245.0 59.7 L246.0 59.4 L247.0 59.1 L248.0 58.9 L249.0 58.6 L250.0 58.3 L251.0 58.0 L252.0 57.8 L253.0 57.5 L254.0 57.3 L255.0 57.0 L256.0 56.8 L257.0 56.5 L258.0 56.3 L259.0 56.0 L260.0 55.8 L261.0 55.5 L262.0 55.3 L263.0 55.1 L264.0 54.9 L265.0 54.6 L266.0 54.4 L267.0 54.2 L268.0 54.0 L269.0 53.8 L270.0 53.7 L271.0 53.5 L272.0 53.3 L273.0 53.1 L274.0 53.0 L275.0 52.9 L276.0 52.7 L277.0 52.6 L278.0 52.6 L278.9 52.5 L279.9 52.5 L280.9 52.5 L281.9 52.6 L282.9 52.7 L283.9 52.9 L284.9 53.1 L285.9 53.3 L286.9 53.5 L287.9 53.8 L288.9 54.0 L289.9 54.2 L290.9 54.4 L291.9 54.6 L292.9 54.8 L293.9 54.9 L294.9 55.1 L295.9 55.2 L296.9 55.3 L297.9 55.4 L298.9 55.4 L299.9 55.5 L300.9 55.5 L301.9 55.4 L302.9 55.4 L303.9 55.4 L304.9 55.3 L305.9 55.3 L306.9 55.2 L307.9 55.2 L308.9 55.1 L309.9 55.1 L310.9 55.0 L311.9 55.0 L312.9 54.9 L313.9 54.8 L314.9 54.8 L315.9 54.7 L316.9 54.7 L317.8 54.7 L318.8 54.7 L319.8 54.8 L320.8 54.9 L321.8 55.1 L322.8 55.3 L323.8 55.6 L324.8 56.0 L325.8 56.3 L326.8 56.7 L327.8 57.0 L328.8 57.4 L329.8 57.8 L330.8 58.2 L331.8 58.5 L332.8 58.9 L333.8 59.3 L334.8 59.6 L335.8 60.0 L336.8 60.4 L337.8 60.8 L338.8 61.2 L339.8 61.6 L340.8 62.0 L341.8 62.4 L342.8 62.8 L343.8 63.2 L344.8 63.6 L345.8 64.0 L346.8 64.4 L347.8 64.9 L348.8 65.3 L349.8 65.7 L350.8 66.1 L351.8 66.6 L352.8 67.0 L353.8 67.4 L354.8 67.9 L355.8 68.3 L356.8 68.7 L357.7 69.2 L358.7 69.6 L359.7 70.0 L360.7 70.5 L361.7 70.9 L362.7 71.3 L363.7 71.8 L364.7 72.2 L365.7 72.6 L366.7 73.1 L367.7 73.5 L368.7 73.9 L369.7 74.4 L370.7 74.8 L371.7 75.2 L372.7 75.7 L373.7 76.1 L374.7 76.5 L375.7 77.0 L376.7 77.4 L377.7 77.9 L378.7 78.3 L379.7 78.7 L380.7 79.2 L381.7 79.6 L382.7 80.0 L383.7 80.5 L384.7 80.9 L385.7 81.4 L386.7 81.8 L387.7 82.2 L388.7 82.7 L389.7 83.1 L390.7 83.5 L391.7 84.0 L392.7 84.4 L393.7 84.9 L394.7 85.3 L395.7 85.7 L396.6 86.2 L397.6 86.6 L398.6 87.0 L399.6 87.5 L400.6 87.9 L401.6 88.4 L402.6 88.8 L403.6 89.2 L404.6 89.7 L405.6 90.1 L406.6 90.5 L407.6 91.0 L408.6 91.4 L409.6 91.9 L410.6 92.3 L411.6 92.8 L412.6 93.2 L413.6 93.7 L414.6 94.1 L415.6 94.6 L416.6 95.0 L417.6 95.5 L418.6 95.9 L419.6 96.4 L420.6 96.9 L421.6 97.3 L422.6 97.8 L423.6 98.3 L424.6 98.8 L425.6 99.3 L426.6 99.7 L427.6 100.2 L428.6 100.7 L429.6 101.2 L430.6 101.7 L431.6 102.3 L432.6 102.8 L433.6 103.3 L434.6 103.8 L435.6 104.4 L436.5 104.9 L437.5 105.5 L438.5 106.0 L439.5 106.6 L440.5 107.2 L441.5 107.7 L442.5 108.3 L443.5 108.9 L444.5 109.5 L445.5 110.1 L446.5 110.7 L447.5 111.4 L448.5 112.0 L449.5 112.6 L450.5 113.3 L451.5 113.9 L452.5 114.5 L453.5 115.2 L454.5 115.8 L455.5 116.5 L456.5 117.2 L457.5 117.8 L458.5 118.5 L459.5 119.2 L460.5 119.9 L461.5 120.5 L462.5 121.2 L463.5 121.9 L464.5 122.6 L465.5 123.3 L466.5 124.0 L467.5 124.7 L468.5 125.3 L469.5 126.0 L470.5 126.7 L471.5 127.4 L472.5 128.1 L473.5 128.8 L474.5 129.5 L475.4 130.2 L476.4 130.9 L477.4 131.6 L478.4 132.3 L479.4 133.0 L480.4 133.7 L481.4 134.4 L482.4 135.2 L483.4 135.9 L484.4 136.6 L485.4 137.3 L486.4 138.0 L487.4 138.7 L488.4 139.4 L489.4 140.1 L490.4 140.8 L491.4 141.5 L492.4 142.2 L493.4 142.9 L494.4 143.6 L495.4 144.3 L496.4 145.0 L497.4 145.7 L498.4 146.4 L499.4 147.1 L500.4 147.9 L501.4 148.6 L502.4 149.3 L503.4 150.0 L504.4 150.7 L505.4 151.4 L506.4 152.1 L507.4 152.8 L508.4 153.5 L509.4 154.2 L510.4 154.9 L511.4 155.6 L512.4 156.3 L513.4 157.0 L514.4 157.7 L515.3 158.4 L516.3 159.1 L517.3 159.8 L518.3 160.5 L519.3 161.3 L520.3 162.0 L521.3 162.7 L522.3 163.4 L523.3 164.1 L524.3 164.8 L525.3 165.5 L526.3 166.2 L527.3 166.9 L528.3 167.6 L529.3 168.3 L530.3 169.0 L531.3 169.7 L532.3 170.4 L533.3 171.1 L534.3 171.8" stroke="#cf5622"/>
<path d="M61.5 93.8 L62.5 93.8 L63.5 93.8 L64.5 93.8 L65.5 93.8 L66.5 93.8 L67.5 93.8 L68.5 93.8 L69.5 93.8 L70.5 93.8 L71.5 93.8 L72.5 93.8 L73.5 93.8 L74.5 93.8 L75.5 93.8 L76.5 93.8 L77.5 93.8 L78.5 93.8 L79.5 93.8 L80.5 93.8 L81.4 93.8 L82.4 93.8 L83.4 93.8 L84.4 93.8 L85.4 93.8 L86.4 93.8 L87.4 93.8 L88.4 93.8 L89.4 93.8 L90.4 93.8 L91.4 93.8 L92.4 93.8 L93.4 93.8 L94.4 93.8 L95.4 93.8 L96.4 93.8 L97.4 93.8 L98.4 93.8 L99.4 93.8 L100.4 93.8 L101.4 93.8 L102.4 93.8 L103.4 93.8 L104.4 93.8 L105.4 93.8 L106.4 93.8 L107.4 93.8 L108.4 93.8 L109.4 93.8 L110.4 93.8 L111.4 93.8 L112.4 93.8 L113.4 93.8 L114.4 93.8 L115.4 93.8 L116.4 93.8 L117.4 93.8 L118.4 93.8 L119.4 93.8 L120.4 93.8 L121.3 93.7 L122.3 93.7 L123.3 93.7 L124.3 93.7 L125.3 93.7 L126.3 93.7 L127.3 93.7 L128.3 93.7 L129.3 93.7 L130.3 93.7 L131.3 93.6 L132.3 93.6 L133.3 93.6 L134.3 93.6 L135.3 93.5 L136.3 93.5 L137.3 93.5 L138.3 93.4 L139.3 93.4 L140.3 93.3 L141.3 93.3 L142.3 93.2 L143.3 93.1 L144.3 93.1 L145.3 93.0 L146.3 92.9 L147.3 92.8 L148.3 92.7 L149.3 92.6 L150.3 92.5 L151.3 92.3 L152.3 92.2 L153.3 92.0 L154.3 91.9 L155.3 91.7 L156.3 91.5 L157.3 91.3 L158.3 91.1 L159.3 90.9 L160.2 90.7 L161.2 90.4 L162.2 90.2 L163.2 89.9 L164.2 89.6 L165.2 89.4 L166.2 89.1 L167.2 88.7 L168.2 88.4 L169.2 88.1 L170.2 87.7 L171.2 87.3 L172.2 86.9 L173.2 86.6 L174.2 86.2 L175.2 85.8 L176.2 85.4 L177.2 85.0 L178.2 84.6 L179.2 84.3 L180.2 83.9 L181.2 83.5 L182.2 83.1 L183.2 82.7 L184.2 82.3 L185.2 81.9 L186.2 81.5 L187.2 81.1 L188.2 80.8 L189.2 80.4 L190.2 80.0 L191.2 79.6 L192.2 79.2 L193.2 78.8 L194.2 78.5 L195.2 78.1 L196.2 77.7 L197.2 77.3 L198.2 77.0 L199.2 76.6 L200.1 76.2 L201.1 75.9 L202.1 75.5 L203.1 75.2 L204.1 74.8 L205.1 74.5 L206.1 74.1 L207.1 73.8 L208.1 73.5 L209.1 73.1 L210.1 72.8 L211.1 72.4 L212.1 72.1 L213.1 71.8 L214.1 71.4 L215.1 71.1 L216.1 70.8 L217.1 70.4 L218.1 70.1 L219.1 69.8 L220.1 69.5 L221.1 69.2 L222.1 68.8 L223.1 68.5 L224.1 68.2 L225.1 67.9 L226.1 67.6 L227.1 67.3 L228.1 66.9 L229.1 66.6 L230.1 66.3 L231.1 66.0 L232.1 65.7 L233.1 65.4 L234.1 65.0 L235.1 64.7 L236.1 64.4 L237.1 64.1 L238.1 63.8 L239.0 63.5 L240.0 63.1 L241.0 62.8 L242.0 62.5 L243.0 62.2 L244.0 61.9 L245.0 61.6 L246.0 61.3 L247.0 60.9 L248.0 60.6 L249.0 60.3 L250.0 60.0 L251.0 59.7 L252.0 59.4 L253.0 59.1 L254.0 58.8 L255.0 58.5 L256.0 58.2 L257.0 58.0 L258.0 57.7 L259.0 57.4 L260.0 57.1 L261.0 56.9 L262.0 56.6 L263.0 56.3 L264.0 56.1 L265.0 55.8 L266.0 55.6 L267.0 55.3 L268.0 55.1 L269.0 54.9 L270.0 54.6 L271.0 54.4 L272.0 54.2 L273.0 54.0 L274.0 53.9 L275.0 53.7 L276.0 53.5 L277.0 53.4 L278.0 53.3 L278.9 53.2 L279.9 53.1 L280.9 53.1 L281.9 53.2 L282.9 53.2 L283.9 53.4 L284.9 53.5 L285.9 53.7 L286.9 53.9 L287.9 54.1 L288.9 54.3 L289.9 54.5 L290.9 54.6 L291.9 54.8 L292.9 54.9 L293.9 55.1 L294.9 55.2 L295.9 55.3 L296.9 55.4 L297.9 55.4 L298.9 55.4 L299.9 55.4 L300.9 55.4 L301.9 55.3 L302.9 55.2 L303.9 55.2 L304.9 55.1 L305.9 55.0 L306.9 54.9 L307.9 54.8 L308.9 54.7 L309.9 54.6 L310.9 54.5 L311.9 54.5 L312.9 54.4 L313.9 54.3 L314.9 54.2 L315.9 54.1 L316.9 54.0 L317.8 54.0 L318.8 54.0 L319.8 54.0 L320.8 54.1 L321.8 54.3 L322.8 54.5 L323.8 54.7 L324.8 55.0 L325.8 55.3 L326.8 55.6 L327.8 56.0 L328.8 56.3 L329.8 56.7 L330.8 57.0 L331.8 57.3 L332.8 57.6 L333.8 58.0 L334.8 58.3 L335.8 58.7 L336.8 59.0 L337.8 59.4 L338.8 59.7 L339.8 60.1 L340.8 60.4 L341.8 60.8 L342.8 61.2 L343.8 61.5 L344.8 61.9 L345.8 62.3 L346.8 62.7 L347.8 63.1 L348.8 63.5 L349.8 63.9 L350.8 64.3 L351.8 64.7 L352.8 65.1 L353.8 65.5 L354.8 65.9 L355.8 66.3 L356.8 66.6 L357.7 67.0 L358.7 67.4 L359.7 67.8 L360.7 68.2 L361.7 68.6 L362.7 69.0 L363.7 69.4 L364.7 69.8 L365.7 70.2 L366.7 70.6 L367.7 71.0 L368.7 71.4 L369.7 71.8 L370.7 72.2 L371.7 72.6 L372.7 73.0 L373.7 73.4 L374.7 73.8 L375.7 74.2 L376.7 74.6 L377.7 75.0 L378.7 75.4 L379.7 75.8 L380.7 76.2 L381.7 76.6 L382.7 77.0 L383.7 77.4 L384.7 77.8 L385.7 78.2 L386.7 78.6 L387.7 79.0 L388.7 79.4 L389.7 79.8 L390.7 80.2 L391.7 80.7 L392.7 81.1 L393.7 81.5 L394.7 81.9 L395.7 82.3 L396.6 82.7 L397.6 83.1 L398.6 83.5 L399.6 83.9 L400.6 84.3 L401.6 84.7 L402.6 85.1 L403.6 85.5 L404.6 85.9 L405.6 86.3 L406.6 86.7 L407.6 87.1 L408.6 87.5 L409.6 87.9 L410.6 88.3 L411.6 88.8 L412.6 89.2 L413.6 89.6 L414.6 90.0 L415.6 90.4 L416.6 90.8 L417.6 91.3 L418.6 91.7 L419.6 92.1 L420.6 92.6 L421.6 93.0 L422.6 93.5 L423.6 93.9 L424.6 94.3 L425.6 94.8 L426.6 95.3 L427.6 95.7 L428.6 96.2 L429.6 96.7 L430.6 97.2 L431.6 97.6 L432.6 98.1 L433.6 98.6 L434.6 99.2 L435.6 99.7 L436.5 100.2 L437.5 100.7 L438.5 101.3 L439.5 101.8 L440.5 102.4 L441.5 102.9 L442.5 103.5 L443.5 104.1 L444.5 104.7 L445.5 105.3 L446.5 105.9 L447.5 106.5 L448.5 107.1 L449.5 107.7 L450.5 108.3 L451.5 109.0 L452.5 109.6 L453.5 110.2 L454.5 110.9 L455.5 111.5 L456.5 112.2 L457.5 112.9 L458.5 113.5 L459.5 114.2 L460.5 114.9 L461.5 115.5 L462.5 116.2 L463.5 116.9 L464.5 117.6 L465.5 118.3 L466.5 119.0 L467.5 119.6 L468.5 120.3 L469.5 121.0 L470.5 121.7 L471.5 122.4 L472.5 123.1 L473.5 123.8 L474.5 124.5 L475.4 125.2 L476.4 125.9 L477.4 126.6 L478.4 127.3 L479.4 128.0 L480.4 128.7 L481.4 129.4 L482.4 130.1 L483.4 130.8 L484.4 131.5 L485.4 132.2 L486.4 132.9 L487.4 133.6 L488.4 134.3 L489.4 135.1 L490.4 135.8 L491.4 136.5 L492.4 137.2 L493.4 137.9 L494.4 138.6 L495.4 139.3 L496.4 140.0 L497.4 140.7 L498.4 141.4 L499.4 142.1 L500.4 142.8 L501.4 143.5 L502.4 144.2 L503.4 144.9 L504.4 145.6 L505.4 146.3 L506.4 147.0 L507.4 147.8 L508.4 148.5 L509.4 149.2 L510.4 149.9 L511.4 150.6 L512.4 151.3 L513.4 152.0 L514.4 152.7 L515.3 153.4 L516.3 154.1 L517.3 154.8 L518.3 155.5 L519.3 156.2 L520.3 156.9 L521.3 157.6 L522.3 158.3 L523.3 159.0 L524.3 159.7 L525.3 160.4 L526.3 161.1 L527.3 161.8 L528.3 162.6 L529.3 163.3 L530.3 164.0 L531.3 164.7 L532.3 165.4 L533.3 166.1 L534.3 166.8" stroke="#e7b12f"/>
<path d="M61.5 133.1 L62.5 132.8 L63.5 132.4 L64.5 132.1 L65.5 131.7 L66.5 131.4 L67.5 131.0 L68.5 130.6 L69.5 130.3 L70.5 129.9 L71.5 129.6 L72.5 129.2 L73.5 128.8 L74.5 128.5 L75.5 128.1 L76.5 127.8 L77.5 127.4 L78.5 127.1 L79.5 126.7 L80.5 126.3 L81.4 126.0 L82.4 125.6 L83.4 125.3 L84.4 124.9 L85.4 124.5 L86.4 124.2 L87.4 123.8 L88.4 123.5 L89.4 123.1 L90.4 122.7 L91.4 122.4 L92.4 122.0 L93.4 121.7 L94.4 121.3 L95.4 121.0 L96.4 120.6 L97.4 120.2 L98.4 119.9 L99.4 119.5 L100.4 119.2 L101.4 118.8 L102.4 118.4 L103.4 118.1 L104.4 117.7 L105.4 117.4 L106.4 117.0 L107.4 116.7 L108.4 116.3 L109.4 115.9 L110.4 115.6 L111.4 115.2 L112.4 114.9 L113.4 114.5 L114.4 114.2 L115.4 113.8 L116.4 113.4 L117.4 113.1 L118.4 112.7 L119.4 112.4 L120.4 112.0 L121.3 111.7 L122.3 111.3 L123.3 111.0 L124.3 110.6 L125.3 110.3 L126.3 109.9 L127.3 109.6 L128.3 109.2 L129.3 108.9 L130.3 108.5 L131.3 108.2 L132.3 107.8 L133.3 107.5 L134.3 107.1 L135.3 106.8 L136.3 106.4 L137.3 106.1 L138.3 105.7 L139.3 105.4 L140.3 105.0 L141.3 104.7 L142.3 104.3 L143.3 104.0 L144.3 103.6 L145.3 103.3 L146.3 102.9 L147.3 102.5 L148.3 102.2 L149.3 101.8 L150.3 101.5 L151.3 101.1 L152.3 100.7 L153.3 100.4 L154.3 100.0 L155.3 99.6 L156.3 99.2 L157.3 98.9 L158.3 98.5 L159.3 98.1 L160.2 97.7 L161.2 97.3 L162.2 96.9 L163.2 96.5 L164.2 96.1 L165.2 95.7 L166.2 95.2 L167.2 94.8 L168.2 94.4 L169.2 93.9 L170.2 93.4 L171.2 93.0 L172.2 92.5 L173.2 92.0 L174.2 91.6 L175.2 91.1 L176.2 90.6 L177.2 90.2 L178.2 89.7 L179.2 89.3 L180.2 88.8 L181.2 88.4 L182.2 87.9 L183.2 87.5 L184.2 87.0 L185.2 86.6 L186.2 86.1 L187.2 85.7 L188.2 85.2 L189.2 84.8 L190.2 84.4 L191.2 83.9 L192.2 83.5 L193.2 83.1 L194.2 82.7 L195.2 82.2 L196.2 81.8 L197.2 81.4 L198.2 81.0 L199.2 80.6 L200.1 80.2 L201.1 79.8 L202.1 79.4 L203.1 79.0 L204.1 78.6 L205.1 78.2 L206.1 77.8 L207.1 77.4 L208.1 77.0 L209.1 76.7 L210.1 76.3 L211.1 75.9 L212.1 75.5 L213.1 75.2 L214.1 74.8 L215.1 74.4 L216.1 74.0 L217.1 73.7 L218.1 73.3 L219.1 72.9 L220.1 72.6 L221.1 72.2 L222.1 71.9 L223.1 71.5 L224.1 71.1 L225.1 70.8 L226.1 70.4 L227.1 70.1 L228.1 69.7 L229.1 69.4 L230.1 69.0 L231.1 68.6 L232.1 68.3 L233.1 67.9 L234.1 67.6 L235.1 67.2 L236.1 66.9 L237.1 66.5 L238.1 66.2 L239.0 65.8 L240.0 65.4 L241.0 65.1 L242.0 64.7 L243.0 64.4 L244.0 64.0 L245.0 63.7 L246.0 63.3 L247.0 63.0 L248.0 62.6 L249.0 62.3 L250.0 61.9 L251.0 61.6 L252.0 61.2 L253.0 60.9 L254.0 60.6 L255.0 60.2 L256.0 59.9 L257.0 59.6 L258.0 59.3 L259.0 58.9 L260.0 58.6 L261.0 58.3 L262.0 58.0 L263.0 57.7 L264.0 57.4 L265.0 57.1 L266.0 56.8 L267.0 56.6 L268.0 56.3 L269.0 56.0 L270.0 55.8 L271.0 55.5 L272.0 55.3 L273.0 55.0 L274.0 54.8 L275.0 54.6 L276.0 54.4 L277.0 54.2 L278.0 54.1 L278.9 53.9 L279.9 53.8 L280.9 53.8 L281.9 53.8 L282.9 53.8 L283.9 53.9 L284.9 54.1 L285.9 54.2 L286.9 54.4 L287.9 54.5 L288.9 54.7 L289.9 54.8 L290.9 54.9 L291.9 55.0 L292.9 55.1 L293.9 55.2 L294.9 55.3 L295.9 55.4 L296.9 55.4 L297.9 55.4 L298.9 55.4 L299.9 55.3 L300.9 55.2 L301.9 55.1 L302.9 55.0 L303.9 54.9 L304.9 54.8 L305.9 54.7 L306.9 54.5 L307.9 54.4 L308.9 54.3 L309.9 54.2 L310.9 54.0 L311.9 53.9 L312.9 53.8 L313.9 53.6 L314.9 53.5 L315.9 53.4 L316.9 53.3 L317.8 53.2 L318.8 53.2 L319.8 53.2 L320.8 53.2 L321.8 53.3 L322.8 53.5 L323.8 53.7 L324.8 53.9 L325.8 54.2 L326.8 54.5 L327.8 54.8 L328.8 55.1 L329.8 55.4 L330.8 55.7 L331.8 56.0 L332.8 56.3 L333.8 56.5 L334.8 56.8 L335.8 57.1 L336.8 57.5 L337.8 57.8 L338.8 58.1 L339.8 58.4 L340.8 58.7 L341.8 59.1 L342.8 59.4 L343.8 59.7 L344.8 60.1 L345.8 60.4 L346.8 60.8 L347.8 61.1 L348.8 61.5 L349.8 61.8 L350.8 62.2 L351.8 62.5 L352.8 62.9 L353.8 63.2 L354.8 63.6 L355.8 64.0 L356.8 64.3 L357.7 64.7 L358.7 65.0 L359.7 65.4 L360.7 65.7 L361.7 66.1 L362.7 66.4 L363.7 66.8 L364.7 67.2 L365.7 67.5 L366.7 67.9 L367.7 68.2 L368.7 68.6 L369.7 69.0 L370.7 69.3 L371.7 69.7 L372.7 70.0 L373.7 70.4 L374.7 70.8 L375.7 71.1 L376.7 71.5 L377.7 71.8 L378.7 72.2 L379.7 72.6 L380.7 72.9 L381.7 73.3 L382.7 73.6 L383.7 74.0 L384.7 74.4 L385.7 74.7 L386.7 75.1 L387.7 75.5 L388.7 75.8 L389.7 76.2 L390.7 76.5 L391.7 76.9 L392.7 77.3 L393.7 77.6 L394.7 78.0 L395.7 78.3 L396.6 78.7 L397.6 79.0 L398.6 79.4 L399.6 79.8 L400.6 80.1 L401.6 80.5 L402.6 80.8 L403.6 81.2 L404.6 81.5 L405.6 81.9 L406.6 82.3 L407.6 82.6 L408.6 83.0 L409.6 83.3 L410.6 83.7 L411.6 84.0 L412.6 84.4 L413.6 84.7 L414.6 85.1 L415.6 85.4 L416.6 85.8 L417.6 86.2 L418.6 86.5 L419.6 86.9 L420.6 87.2 L421.6 87.6 L422.6 87.9 L423.6 88.3 L424.6 88.6 L425.6 89.0 L426.6 89.4 L427.6 89.7 L428.6 90.1 L429.6 90.4 L430.6 90.8 L431.6 91.1 L432.6 91.5 L433.6 91.8 L434.6 92.2 L435.6 92.5 L436.5 92.9 L437.5 93.2 L438.5 93.6 L439.5 94.0 L440.5 94.3 L441.5 94.7 L442.5 95.0 L443.5 95.4 L444.5 95.7 L445.5 96.1 L446.5 96.4 L447.5 96.8 L448.5 97.1 L449.5 97.5 L450.5 97.8 L451.5 98.2 L452.5 98.5 L453.5 98.9 L454.5 99.2 L455.5 99.6 L456.5 100.0 L457.5 100.3 L458.5 100.7 L459.5 101.0 L460.5 101.4 L461.5 101.7 L462.5 102.1 L463.5 102.4 L464.5 102.8 L465.5 103.1 L466.5 103.5 L467.5 103.8 L468.5 104.2 L469.5 104.5 L470.5 104.9 L471.5 105.2 L472.5 105.6 L473.5 105.9 L474.5 106.3 L475.4 106.6 L476.4 107.0 L477.4 107.3 L478.4 107.7 L479.4 108.0 L480.4 108.4 L481.4 108.7 L482.4 109.1 L483.4 109.4 L484.4 109.8 L485.4 110.1 L486.4 110.5 L487.4 110.8 L488.4 111.2 L489.4 111.5 L490.4 111.9 L491.4 112.2 L492.4 112.6 L493.4 112.9 L494.4 113.3 L495.4 113.6 L496.4 114.0 L497.4 114.3 L498.4 114.7 L499.4 115.0 L500.4 115.4 L501.4 115.7 L502.4 116.1 L503.4 116.4 L504.4 116.8 L505.4 117.1 L506.4 117.4 L507.4 117.8 L508.4 118.1 L509.4 118.5 L510.4 118.8 L511.4 119.2 L512.4 119.5 L513.4 119.9 L514.4 120.2 L515.3 120.6 L516.3 120.9 L517.3 121.3 L518.3 121.6 L519.3 122.0 L520.3 122.3 L521.3 122.6 L522.3 123.0 L523.3 123.3 L524.3 123.7 L525.3 124.0 L526.3 124.4 L527.3 124.7 L528.3 125.1 L529.3 125.4 L530.3 125.8 L531.3 126.1 L532.3 126.4 L533.3 126.8 L534.3 127.1" stroke="#7a3288"/>
</g></g>
<line x1="108.5" y1="229.1" x2="108.5" y2="379.1" stroke="#d6d6d6" stroke-width="1" stroke-dasharray="1 2"/>
<line x1="156.0" y1="229.1" x2="156.0" y2="379.1" stroke="#d6d6d6" stroke-width="1" stroke-dasharray="1 2"/>
<line x1="203.0" y1="229.1" x2="203.0" y2="379.1" stroke="#d6d6d6" stroke-width="1" stroke-dasharray="1 2"/>
<line x1="250.5" y1="229.1" x2="250.5" y2="379.1" stroke="#d6d6d6" stroke-width="1" stroke-dasharray="1 2"/>
<line x1="298.5" y1="229.1" x2="298.5" y2="379.1" stroke="#b0b0b0" stroke-width="1"/>
<line x1="345.5" y1="229.1" x2="345.5" y2="379.1" stroke="#d6d6d6" stroke-width="1" stroke-dasharray="1 2"/>
<line x1="392.5" y1="229.1" x2="392.5" y2="379.1" stroke="#d6d6d6" stroke-width="1" stroke-dasharray="1 2"/>
<line x1="439.5" y1="229.1" x2="439.5" y2="379.1" stroke="#d6d6d6" stroke-width="1" stroke-dasharray="1 2"/>
<line x1="487.0" y1="229.1" x2="487.0" y2="379.1" stroke="#d6d6d6" stroke-width="1" stroke-dasharray="1 2"/>
<line x1="61.5" y1="341.6" x2="534.3" y2="341.6" stroke="#dfdfdf" stroke-width="1"/>
<line x1="61.5" y1="304.2" x2="534.3" y2="304.2" stroke="#dfdfdf" stroke-width="1"/>
<line x1="61.5" y1="266.8" x2="534.3" y2="266.8" stroke="#dfdfdf" stroke-width="1"/>
<rect x="61.5" y="229.1" width="472.8" height="150.0" fill="none" stroke="#6a6a6a" stroke-width="1.1"/>
<path d="M61.5 379.1v-4.2M61.5 229.1v4.2" stroke="#6a6a6a" stroke-width="1"/>
<path d="M108.5 379.1v-2.4M108.5 229.1v2.4" stroke="#6a6a6a" stroke-width="1"/>
<path d="M156.0 379.1v-2.4M156.0 229.1v2.4" stroke="#6a6a6a" stroke-width="1"/>
<path d="M203.0 379.1v-2.4M203.0 229.1v2.4" stroke="#6a6a6a" stroke-width="1"/>
<path d="M250.5 379.1v-2.4M250.5 229.1v2.4" stroke="#6a6a6a" stroke-width="1"/>
<path d="M298.5 379.1v-4.2M298.5 229.1v4.2" stroke="#6a6a6a" stroke-width="1"/>
<path d="M345.5 379.1v-2.4M345.5 229.1v2.4" stroke="#6a6a6a" stroke-width="1"/>
<path d="M392.5 379.1v-2.4M392.5 229.1v2.4" stroke="#6a6a6a" stroke-width="1"/>
<path d="M439.5 379.1v-2.4M439.5 229.1v2.4" stroke="#6a6a6a" stroke-width="1"/>
<path d="M487.0 379.1v-2.4M487.0 229.1v2.4" stroke="#6a6a6a" stroke-width="1"/>
<path d="M534.3 379.1v-4.2M534.3 229.1v4.2" stroke="#6a6a6a" stroke-width="1"/>
<path d="M61.5 341.6h4.8M534.3 341.6h-4.8" stroke="#6a6a6a" stroke-width="1"/>
<path d="M61.5 304.2h4.8M534.3 304.2h-4.8" stroke="#6a6a6a" stroke-width="1"/>
<path d="M61.5 266.8h4.8M534.3 266.8h-4.8" stroke="#6a6a6a" stroke-width="1"/>
<g clip-path="url(#c2)"><g filter="url(#bl)" fill="none" stroke-width="1.15" stroke-linejoin="round">
<path d="M61.5 304.2 L62.5 304.2 L63.5 304.2 L64.5 304.2 L65.5 304.2 L66.5 304.2 L67.5 304.2 L68.5 304.2 L69.5 304.2 L70.5 304.2 L71.5 304.2 L72.5 304.2 L73.5 304.2 L74.5 304.2 L75.5 304.2 L76.5 304.2 L77.5 304.2 L78.5 304.2 L79.5 304.2 L80.5 304.2 L81.4 304.2 L82.4 304.2 L83.4 304.2 L84.4 304.1 L85.4 304.1 L86.4 304.1 L87.4 304.1 L88.4 304.1 L89.4 304.1 L90.4 304.1 L91.4 304.1 L92.4 304.1 L93.4 304.1 L94.4 304.1 L95.4 304.1 L96.4 304.1 L97.4 304.1 L98.4 304.1 L99.4 304.1 L100.4 304.1 L101.4 304.0 L102.4 304.0 L103.4 304.0 L104.4 304.0 L105.4 304.0 L106.4 304.0 L107.4 304.0 L108.4 304.0 L109.4 304.0 L110.4 304.0 L111.4 304.0 L112.4 303.9 L113.4 303.9 L114.4 303.9 L115.4 303.9 L116.4 303.9 L117.4 303.8 L118.4 303.8 L119.4 303.8 L120.4 303.8 L121.3 303.7 L122.3 303.7 L123.3 303.7 L124.3 303.6 L125.3 303.6 L126.3 303.5 L127.3 303.5 L128.3 303.5 L129.3 303.4 L130.3 303.4 L131.3 303.3 L132.3 303.2 L133.3 303.1 L134.3 303.1 L135.3 303.0 L136.3 302.9 L137.3 302.8 L138.3 302.6 L139.3 302.5 L140.3 302.4 L141.3 302.3 L142.3 302.1 L143.3 302.0 L144.3 301.8 L145.3 301.7 L146.3 301.6 L147.3 301.4 L148.3 301.2 L149.3 301.1 L150.3 300.9 L151.3 300.8 L152.3 300.6 L153.3 300.4 L154.3 300.2 L155.3 300.0 L156.3 299.8 L157.3 299.6 L158.3 299.3 L159.3 299.1 L160.2 298.9 L161.2 298.7 L162.2 298.5 L163.2 298.3 L164.2 298.0 L165.2 297.9 L166.2 297.7 L167.2 297.5 L168.2 297.3 L169.2 297.2 L170.2 297.0 L171.2 296.9 L172.2 296.7 L173.2 296.6 L174.2 296.4 L175.2 296.3 L176.2 296.2 L177.2 296.1 L178.2 296.0 L179.2 295.9 L180.2 295.8 L181.2 295.7 L182.2 295.7 L183.2 295.6 L184.2 295.6 L185.2 295.6 L186.2 295.6 L187.2 295.6 L188.2 295.6 L189.2 295.7 L190.2 295.7 L191.2 295.8 L192.2 295.9 L193.2 296.0 L194.2 296.1 L195.2 296.2 L196.2 296.3 L197.2 296.4 L198.2 296.6 L199.2 296.7 L200.1 296.9 L201.1 297.0 L202.1 297.2 L203.1 297.4 L204.1 297.6 L205.1 297.8 L206.1 298.0 L207.1 298.2 L208.1 298.4 L209.1 298.7 L210.1 298.9 L211.1 299.1 L212.1 299.3 L213.1 299.6 L214.1 299.8 L215.1 300.1 L216.1 300.3 L217.1 300.6 L218.1 300.8 L219.1 301.1 L220.1 301.3 L221.1 301.6 L222.1 301.8 L223.1 302.1 L224.1 302.4 L225.1 302.6 L226.1 302.9 L227.1 303.2 L228.1 303.5 L229.1 303.7 L230.1 304.0 L231.1 304.3 L232.1 304.6 L233.1 304.9 L234.1 305.2 L235.1 305.5 L236.1 305.8 L237.1 306.1 L238.1 306.4 L239.0 306.7 L240.0 307.1 L241.0 307.4 L242.0 307.8 L243.0 308.1 L244.0 308.5 L245.0 308.9 L246.0 309.3 L247.0 309.7 L248.0 310.1 L249.0 310.6 L250.0 311.1 L251.0 311.6 L252.0 312.2 L253.0 312.8 L254.0 313.4 L255.0 314.1 L256.0 314.8 L257.0 315.5 L258.0 316.3 L259.0 317.1 L260.0 317.9 L261.0 318.8 L262.0 319.7 L263.0 320.7 L264.0 321.6 L265.0 322.7 L266.0 323.7 L267.0 324.8 L268.0 325.9 L269.0 327.0 L270.0 328.1 L271.0 329.2 L272.0 330.4 L273.0 331.5 L274.0 332.6 L275.0 333.6 L276.0 334.6 L277.0 335.6 L278.0 336.6 L278.9 337.4 L279.9 338.3 L280.9 339.0 L281.9 339.7 L282.9 340.4 L283.9 340.9 L284.9 341.4 L285.9 341.9 L286.9 342.2 L287.9 342.5 L288.9 342.8 L289.9 343.0 L290.9 343.1 L291.9 343.2 L292.9 343.3 L293.9 343.3 L294.9 343.3 L295.9 343.3 L296.9 343.3 L297.9 343.3 L298.9 343.2 L299.9 343.1 L300.9 343.0 L301.9 342.9 L302.9 342.8 L303.9 342.7 L304.9 342.7 L305.9 342.7 L306.9 342.7 L307.9 342.8 L308.9 343.0 L309.9 343.2 L310.9 343.5 L311.9 343.9 L312.9 344.4 L313.9 345.0 L314.9 345.7 L315.9 346.5 L316.9 347.4 L317.8 348.5 L318.8 349.6 L319.8 350.7 L320.8 352.0 L321.8 353.2 L322.8 354.6 L323.8 355.9 L324.8 357.2 L325.8 358.5 L326.8 359.8 L327.8 361.0 L328.8 362.2 L329.8 363.3 L330.8 364.4 L331.8 365.4 L332.8 366.3 L333.8 367.2 L334.8 368.0 L335.8 368.8 L336.8 369.5 L337.8 370.2 L338.8 370.8 L339.8 371.3 L340.8 371.8 L341.8 372.3 L342.8 372.7 L343.8 373.1 L344.8 373.5 L345.8 373.8 L346.8 374.2 L347.8 374.4 L348.8 374.7 L349.8 375.0 L350.8 375.2 L351.8 375.4 L352.8 375.6 L353.8 375.8 L354.8 375.9 L355.8 376.1 L356.8 376.2 L357.7 376.4 L358.7 376.5 L359.7 376.6 L360.7 376.7 L361.7 376.8 L362.7 376.9 L363.7 377.0 L364.7 377.0 L365.7 377.1 L366.7 377.2 L367.7 377.2 L368.7 377.3 L369.7 377.3 L370.7 377.4 L371.7 377.4 L372.7 377.5 L373.7 377.5 L374.7 377.6 L375.7 377.6 L376.7 377.7 L377.7 377.7 L378.7 377.7 L379.7 377.8 L380.7 377.8 L381.7 377.8 L382.7 377.8 L383.7 377.9 L384.7 377.9 L385.7 377.9 L386.7 377.9 L387.7 378.0 L388.7 378.0 L389.7 378.0 L390.7 378.0 L391.7 378.0 L392.7 378.1 L393.7 378.1 L394.7 378.1 L395.7 378.1 L396.6 378.1 L397.6 378.1 L398.6 378.2 L399.6 378.2 L400.6 378.2 L401.6 378.2 L402.6 378.2 L403.6 378.2 L404.6 378.3 L405.6 378.3 L406.6 378.3 L407.6 378.3 L408.6 378.3 L409.6 378.3 L410.6 378.3 L411.6 378.4 L412.6 378.4 L413.6 378.4 L414.6 378.4 L415.6 378.4 L416.6 378.4 L417.6 378.4 L418.6 378.4 L419.6 378.4 L420.6 378.5 L421.6 378.5 L422.6 378.5 L423.6 378.5 L424.6 378.5 L425.6 378.5 L426.6 378.5 L427.6 378.5 L428.6 378.5 L429.6 378.5 L430.6 378.5 L431.6 378.6 L432.6 378.6 L433.6 378.6 L434.6 378.6 L435.6 378.6 L436.5 378.6 L437.5 378.6 L438.5 378.6 L439.5 378.6 L440.5 378.6 L441.5 378.6 L442.5 378.6 L443.5 378.6 L444.5 378.6 L445.5 378.6 L446.5 378.6 L447.5 378.6 L448.5 378.6 L449.5 378.6 L450.5 378.6 L451.5 378.6 L452.5 378.6 L453.5 378.6 L454.5 378.7 L455.5 378.7 L456.5 378.7 L457.5 378.7 L458.5 378.7 L459.5 378.7 L460.5 378.7 L461.5 378.7 L462.5 378.7 L463.5 378.7 L464.5 378.7 L465.5 378.7 L466.5 378.7 L467.5 378.7 L468.5 378.7 L469.5 378.7 L470.5 378.7 L471.5 378.7 L472.5 378.7 L473.5 378.7 L474.5 378.7 L475.4 378.7 L476.4 378.7 L477.4 378.7 L478.4 378.7 L479.4 378.7 L480.4 378.7 L481.4 378.7 L482.4 378.7 L483.4 378.7 L484.4 378.7 L485.4 378.7 L486.4 378.7 L487.4 378.7 L488.4 378.7 L489.4 378.8 L490.4 378.8 L491.4 378.8 L492.4 378.8 L493.4 378.8 L494.4 378.8 L495.4 378.8 L496.4 378.8 L497.4 378.8 L498.4 378.8 L499.4 378.8 L500.4 378.8 L501.4 378.8 L502.4 378.8 L503.4 378.8 L504.4 378.8 L505.4 378.8 L506.4 378.8 L507.4 378.8 L508.4 378.8 L509.4 378.8 L510.4 378.8 L511.4 378.8 L512.4 378.8 L513.4 378.8 L514.4 378.8 L515.3 378.8 L516.3 378.8 L517.3 378.8 L518.3 378.8 L519.3 378.8 L520.3 378.8 L521.3 378.8 L522.3 378.8 L523.3 378.8 L524.3 378.8 L525.3 378.8 L526.3 378.8 L527.3 378.8 L528.3 378.8 L529.3 378.8 L530.3 378.8 L531.3 378.8 L532.3 378.8 L533.3 378.8 L534.3 378.8" stroke="#096fb3"/>
<path d="M61.5 304.2 L62.5 304.2 L63.5 304.2 L64.5 304.2 L65.5 304.2 L66.5 304.2 L67.5 304.2 L68.5 304.2 L69.5 304.2 L70.5 304.2 L71.5 304.1 L72.5 304.1 L73.5 304.1 L74.5 304.1 L75.5 304.1 L76.5 304.1 L77.5 304.1 L78.5 304.1 L79.5 304.1 L80.5 304.1 L81.4 304.1 L82.4 304.1 L83.4 304.1 L84.4 304.1 L85.4 304.1 L86.4 304.1 L87.4 304.0 L88.4 304.0 L89.4 304.0 L90.4 304.0 L91.4 304.0 L92.4 304.0 L93.4 304.0 L94.4 304.0 L95.4 304.0 L96.4 303.9 L97.4 303.9 L98.4 303.9 L99.4 303.9 L100.4 303.9 L101.4 303.9 L102.4 303.9 L103.4 303.8 L104.4 303.8 L105.4 303.8 L106.4 303.8 L107.4 303.8 L108.4 303.8 L109.4 303.7 L110.4 303.7 L111.4 303.7 L112.4 303.6 L113.4 303.6 L114.4 303.6 L115.4 303.5 L116.4 303.5 L117.4 303.5 L118.4 303.4 L119.4 303.4 L120.4 303.3 L121.3 303.3 L122.3 303.2 L123.3 303.2 L124.3 303.1 L125.3 303.0 L126.3 303.0 L127.3 302.9 L128.3 302.8 L129.3 302.8 L130.3 302.7 L131.3 302.6 L132.3 302.5 L133.3 302.4 L134.3 302.2 L135.3 302.1 L136.3 302.0 L137.3 301.8 L138.3 301.7 L139.3 301.5 L140.3 301.3 L141.3 301.2 L142.3 301.0 L143.3 300.8 L144.3 300.6 L145.3 300.4 L146.3 300.2 L147.3 300.0 L148.3 299.8 L149.3 299.6 L150.3 299.3 L151.3 299.1 L152.3 298.9 L153.3 298.6 L154.3 298.4 L155.3 298.1 L156.3 297.8 L157.3 297.6 L158.3 297.3 L159.3 297.0 L160.2 296.7 L161.2 296.5 L162.2 296.2 L163.2 295.9 L164.2 295.7 L165.2 295.4 L166.2 295.2 L167.2 294.9 L168.2 294.7 L169.2 294.5 L170.2 294.3 L171.2 294.1 L172.2 293.9 L173.2 293.8 L174.2 293.6 L175.2 293.4 L176.2 293.3 L177.2 293.1 L178.2 293.0 L179.2 292.8 L180.2 292.7 L181.2 292.6 L182.2 292.5 L183.2 292.5 L184.2 292.4 L185.2 292.4 L186.2 292.4 L187.2 292.3 L188.2 292.4 L189.2 292.4 L190.2 292.4 L191.2 292.5 L192.2 292.5 L193.2 292.6 L194.2 292.7 L195.2 292.8 L196.2 292.9 L197.2 293.0 L198.2 293.1 L199.2 293.2 L200.1 293.4 L201.1 293.6 L202.1 293.7 L203.1 293.9 L204.1 294.1 L205.1 294.3 L206.1 294.5 L207.1 294.7 L208.1 294.9 L209.1 295.1 L210.1 295.3 L211.1 295.5 L212.1 295.8 L213.1 296.0 L214.1 296.2 L215.1 296.5 L216.1 296.7 L217.1 296.9 L218.1 297.2 L219.1 297.4 L220.1 297.7 L221.1 297.9 L222.1 298.2 L223.1 298.5 L224.1 298.7 L225.1 299.0 L226.1 299.3 L227.1 299.5 L228.1 299.8 L229.1 300.1 L230.1 300.3 L231.1 300.6 L232.1 300.9 L233.1 301.2 L234.1 301.5 L235.1 301.8 L236.1 302.1 L237.1 302.4 L238.1 302.7 L239.0 303.0 L240.0 303.4 L241.0 303.7 L242.0 304.1 L243.0 304.4 L244.0 304.8 L245.0 305.1 L246.0 305.5 L247.0 306.0 L248.0 306.4 L249.0 306.9 L250.0 307.4 L251.0 307.9 L252.0 308.5 L253.0 309.1 L254.0 309.7 L255.0 310.4 L256.0 311.1 L257.0 311.8 L258.0 312.6 L259.0 313.4 L260.0 314.2 L261.0 315.1 L262.0 316.0 L263.0 316.9 L264.0 317.9 L265.0 318.9 L266.0 320.0 L267.0 321.0 L268.0 322.1 L269.0 323.3 L270.0 324.4 L271.0 325.5 L272.0 326.6 L273.0 327.7 L274.0 328.8 L275.0 329.9 L276.0 330.9 L277.0 331.9 L278.0 332.8 L278.9 333.7 L279.9 334.5 L280.9 335.3 L281.9 336.0 L282.9 336.6 L283.9 337.2 L284.9 337.7 L285.9 338.1 L286.9 338.5 L287.9 338.8 L288.9 339.0 L289.9 339.2 L290.9 339.4 L291.9 339.5 L292.9 339.5 L293.9 339.6 L294.9 339.6 L295.9 339.6 L296.9 339.6 L297.9 339.5 L298.9 339.5 L299.9 339.4 L300.9 339.3 L301.9 339.2 L302.9 339.1 L303.9 339.0 L304.9 338.9 L305.9 339.0 L306.9 339.0 L307.9 339.1 L308.9 339.3 L309.9 339.5 L310.9 339.8 L311.9 340.2 L312.9 340.7 L313.9 341.3 L314.9 342.0 L315.9 342.8 L316.9 343.7 L317.8 344.7 L318.8 345.8 L319.8 347.0 L320.8 348.2 L321.8 349.5 L322.8 350.8 L323.8 352.2 L324.8 353.5 L325.8 354.8 L326.8 356.1 L327.8 357.3 L328.8 358.5 L329.8 359.6 L330.8 360.7 L331.8 361.7 L332.8 362.6 L333.8 363.5 L334.8 364.3 L335.8 365.1 L336.8 365.8 L337.8 366.4 L338.8 367.1 L339.8 367.6 L340.8 368.1 L341.8 368.6 L342.8 369.0 L343.8 369.4 L344.8 369.8 L345.8 370.1 L346.8 370.4 L347.8 370.7 L348.8 371.0 L349.8 371.2 L350.8 371.5 L351.8 371.7 L352.8 371.9 L353.8 372.1 L354.8 372.2 L355.8 372.4 L356.8 372.5 L357.7 372.7 L358.7 372.8 L359.7 372.9 L360.7 373.0 L361.7 373.1 L362.7 373.2 L363.7 373.3 L364.7 373.4 L365.7 373.4 L366.7 373.5 L367.7 373.6 L368.7 373.6 L369.7 373.7 L370.7 373.7 L371.7 373.8 L372.7 373.8 L373.7 373.9 L374.7 373.9 L375.7 374.0 L376.7 374.0 L377.7 374.1 L378.7 374.1 L379.7 374.1 L380.7 374.2 L381.7 374.2 L382.7 374.2 L383.7 374.3 L384.7 374.3 L385.7 374.3 L386.7 374.4 L387.7 374.4 L388.7 374.4 L389.7 374.5 L390.7 374.5 L391.7 374.5 L392.7 374.5 L393.7 374.6 L394.7 374.6 L395.7 374.6 L396.6 374.7 L397.6 374.7 L398.6 374.7 L399.6 374.8 L400.6 374.8 L401.6 374.8 L402.6 374.9 L403.6 374.9 L404.6 374.9 L405.6 375.0 L406.6 375.0 L407.6 375.0 L408.6 375.1 L409.6 375.1 L410.6 375.2 L411.6 375.2 L412.6 375.2 L413.6 375.3 L414.6 375.3 L415.6 375.4 L416.6 375.4 L417.6 375.5 L418.6 375.5 L419.6 375.6 L420.6 375.6 L421.6 375.7 L422.6 375.7 L423.6 375.8 L424.6 375.8 L425.6 375.9 L426.6 375.9 L427.6 376.0 L428.6 376.0 L429.6 376.1 L430.6 376.2 L431.6 376.2 L432.6 376.3 L433.6 376.3 L434.6 376.4 L435.6 376.5 L436.5 376.5 L437.5 376.6 L438.5 376.7 L439.5 376.7 L440.5 376.8 L441.5 376.8 L442.5 376.9 L443.5 377.0 L444.5 377.0 L445.5 377.1 L446.5 377.1 L447.5 377.2 L448.5 377.3 L449.5 377.3 L450.5 377.4 L451.5 377.4 L452.5 377.5 L453.5 377.5 L454.5 377.6 L455.5 377.6 L456.5 377.7 L457.5 377.7 L458.5 377.8 L459.5 377.8 L460.5 377.9 L461.5 377.9 L462.5 377.9 L463.5 378.0 L464.5 378.0 L465.5 378.0 L466.5 378.1 L467.5 378.1 L468.5 378.1 L469.5 378.2 L470.5 378.2 L471.5 378.2 L472.5 378.2 L473.5 378.3 L474.5 378.3 L475.4 378.3 L476.4 378.3 L477.4 378.4 L478.4 378.4 L479.4 378.4 L480.4 378.4 L481.4 378.4 L482.4 378.4 L483.4 378.5 L484.4 378.5 L485.4 378.5 L486.4 378.5 L487.4 378.5 L488.4 378.5 L489.4 378.5 L490.4 378.6 L491.4 378.6 L492.4 378.6 L493.4 378.6 L494.4 378.6 L495.4 378.6 L496.4 378.6 L497.4 378.6 L498.4 378.6 L499.4 378.6 L500.4 378.6 L501.4 378.7 L502.4 378.7 L503.4 378.7 L504.4 378.7 L505.4 378.7 L506.4 378.7 L507.4 378.7 L508.4 378.7 L509.4 378.7 L510.4 378.7 L511.4 378.7 L512.4 378.7 L513.4 378.7 L514.4 378.7 L515.3 378.7 L516.3 378.7 L517.3 378.7 L518.3 378.7 L519.3 378.7 L520.3 378.7 L521.3 378.8 L522.3 378.8 L523.3 378.8 L524.3 378.8 L525.3 378.8 L526.3 378.8 L527.3 378.8 L528.3 378.8 L529.3 378.8 L530.3 378.8 L531.3 378.8 L532.3 378.8 L533.3 378.8 L534.3 378.8" stroke="#cf5622"/>
<path d="M61.5 304.2 L62.5 304.1 L63.5 304.1 L64.5 304.1 L65.5 304.1 L66.5 304.1 L67.5 304.1 L68.5 304.1 L69.5 304.1 L70.5 304.1 L71.5 304.1 L72.5 304.1 L73.5 304.1 L74.5 304.1 L75.5 304.1 L76.5 304.1 L77.5 304.1 L78.5 304.1 L79.5 304.0 L80.5 304.0 L81.4 304.0 L82.4 304.0 L83.4 304.0 L84.4 304.0 L85.4 304.0 L86.4 304.0 L87.4 304.0 L88.4 303.9 L89.4 303.9 L90.4 303.9 L91.4 303.9 L92.4 303.9 L93.4 303.9 L94.4 303.9 L95.4 303.8 L96.4 303.8 L97.4 303.8 L98.4 303.8 L99.4 303.8 L100.4 303.7 L101.4 303.7 L102.4 303.7 L103.4 303.7 L104.4 303.6 L105.4 303.6 L106.4 303.6 L107.4 303.5 L108.4 303.5 L109.4 303.5 L110.4 303.4 L111.4 303.4 L112.4 303.4 L113.4 303.3 L114.4 303.3 L115.4 303.2 L116.4 303.2 L117.4 303.1 L118.4 303.0 L119.4 303.0 L120.4 302.9 L121.3 302.8 L122.3 302.8 L123.3 302.7 L124.3 302.6 L125.3 302.5 L126.3 302.4 L127.3 302.3 L128.3 302.2 L129.3 302.1 L130.3 302.0 L131.3 301.9 L132.3 301.7 L133.3 301.6 L134.3 301.4 L135.3 301.3 L136.3 301.1 L137.3 300.9 L138.3 300.7 L139.3 300.5 L140.3 300.3 L141.3 300.0 L142.3 299.8 L143.3 299.6 L144.3 299.3 L145.3 299.1 L146.3 298.8 L147.3 298.6 L148.3 298.3 L149.3 298.0 L150.3 297.7 L151.3 297.5 L152.3 297.2 L153.3 296.9 L154.3 296.6 L155.3 296.2 L156.3 295.9 L157.3 295.6 L158.3 295.2 L159.3 294.9 L160.2 294.6 L161.2 294.2 L162.2 293.9 L163.2 293.6 L164.2 293.3 L165.2 293.0 L166.2 292.7 L167.2 292.4 L168.2 292.1 L169.2 291.9 L170.2 291.6 L171.2 291.4 L172.2 291.2 L173.2 290.9 L174.2 290.7 L175.2 290.5 L176.2 290.3 L177.2 290.1 L178.2 290.0 L179.2 289.8 L180.2 289.7 L181.2 289.5 L182.2 289.4 L183.2 289.3 L184.2 289.2 L185.2 289.2 L186.2 289.1 L187.2 289.1 L188.2 289.1 L189.2 289.1 L190.2 289.1 L191.2 289.1 L192.2 289.2 L193.2 289.2 L194.2 289.3 L195.2 289.4 L196.2 289.4 L197.2 289.5 L198.2 289.7 L199.2 289.8 L200.1 289.9 L201.1 290.1 L202.1 290.2 L203.1 290.4 L204.1 290.5 L205.1 290.7 L206.1 290.9 L207.1 291.1 L208.1 291.3 L209.1 291.5 L210.1 291.7 L211.1 291.9 L212.1 292.2 L213.1 292.4 L214.1 292.6 L215.1 292.8 L216.1 293.1 L217.1 293.3 L218.1 293.6 L219.1 293.8 L220.1 294.0 L221.1 294.3 L222.1 294.5 L223.1 294.8 L224.1 295.1 L225.1 295.3 L226.1 295.6 L227.1 295.9 L228.1 296.1 L229.1 296.4 L230.1 296.7 L231.1 296.9 L232.1 297.2 L233.1 297.5 L234.1 297.8 L235.1 298.1 L236.1 298.4 L237.1 298.7 L238.1 299.0 L239.0 299.3 L240.0 299.7 L241.0 300.0 L242.0 300.3 L243.0 300.7 L244.0 301.1 L245.0 301.4 L246.0 301.8 L247.0 302.2 L248.0 302.7 L249.0 303.1 L250.0 303.6 L251.0 304.2 L252.0 304.7 L253.0 305.3 L254.0 306.0 L255.0 306.6 L256.0 307.3 L257.0 308.1 L258.0 308.8 L259.0 309.6 L260.0 310.5 L261.0 311.3 L262.0 312.3 L263.0 313.2 L264.0 314.2 L265.0 315.2 L266.0 316.2 L267.0 317.3 L268.0 318.4 L269.0 319.5 L270.0 320.7 L271.0 321.8 L272.0 322.9 L273.0 324.0 L274.0 325.1 L275.0 326.1 L276.0 327.2 L277.0 328.2 L278.0 329.1 L278.9 330.0 L279.9 330.8 L280.9 331.6 L281.9 332.3 L282.9 332.9 L283.9 333.5 L284.9 334.0 L285.9 334.4 L286.9 334.7 L287.9 335.0 L288.9 335.3 L289.9 335.5 L290.9 335.6 L291.9 335.7 L292.9 335.8 L293.9 335.9 L294.9 335.9 L295.9 335.9 L296.9 335.9 L297.9 335.8 L298.9 335.7 L299.9 335.6 L300.9 335.5 L301.9 335.4 L302.9 335.3 L303.9 335.3 L304.9 335.2 L305.9 335.2 L306.9 335.3 L307.9 335.4 L308.9 335.5 L309.9 335.8 L310.9 336.1 L311.9 336.5 L312.9 337.0 L313.9 337.5 L314.9 338.2 L315.9 339.1 L316.9 340.0 L317.8 341.0 L318.8 342.1 L319.8 343.3 L320.8 344.5 L321.8 345.8 L322.8 347.1 L323.8 348.4 L324.8 349.8 L325.8 351.1 L326.8 352.3 L327.8 353.6 L328.8 354.8 L329.8 355.9 L330.8 356.9 L331.8 357.9 L332.8 358.9 L333.8 359.8 L334.8 360.6 L335.8 361.3 L336.8 362.1 L337.8 362.7 L338.8 363.3 L339.8 363.9 L340.8 364.4 L341.8 364.9 L342.8 365.3 L343.8 365.7 L344.8 366.1 L345.8 366.4 L346.8 366.7 L347.8 367.0 L348.8 367.3 L349.8 367.5 L350.8 367.8 L351.8 368.0 L352.8 368.2 L353.8 368.4 L354.8 368.5 L355.8 368.7 L356.8 368.8 L357.7 369.0 L358.7 369.1 L359.7 369.2 L360.7 369.3 L361.7 369.4 L362.7 369.5 L363.7 369.6 L364.7 369.7 L365.7 369.8 L366.7 369.8 L367.7 369.9 L368.7 370.0 L369.7 370.0 L370.7 370.1 L371.7 370.1 L372.7 370.2 L373.7 370.2 L374.7 370.3 L375.7 370.3 L376.7 370.4 L377.7 370.4 L378.7 370.5 L379.7 370.5 L380.7 370.6 L381.7 370.6 L382.7 370.6 L383.7 370.7 L384.7 370.7 L385.7 370.8 L386.7 370.8 L387.7 370.8 L388.7 370.9 L389.7 370.9 L390.7 371.0 L391.7 371.0 L392.7 371.0 L393.7 371.1 L394.7 371.1 L395.7 371.2 L396.6 371.2 L397.6 371.3 L398.6 371.3 L399.6 371.4 L400.6 371.4 L401.6 371.5 L402.6 371.5 L403.6 371.6 L404.6 371.6 L405.6 371.7 L406.6 371.7 L407.6 371.8 L408.6 371.8 L409.6 371.9 L410.6 372.0 L411.6 372.0 L412.6 372.1 L413.6 372.2 L414.6 372.3 L415.6 372.3 L416.6 372.4 L417.6 372.5 L418.6 372.6 L419.6 372.7 L420.6 372.7 L421.6 372.8 L422.6 372.9 L423.6 373.0 L424.6 373.1 L425.6 373.2 L426.6 373.3 L427.6 373.4 L428.6 373.5 L429.6 373.6 L430.6 373.8 L431.6 373.9 L432.6 374.0 L433.6 374.1 L434.6 374.2 L435.6 374.3 L436.5 374.5 L437.5 374.6 L438.5 374.7 L439.5 374.8 L440.5 375.0 L441.5 375.1 L442.5 375.2 L443.5 375.3 L444.5 375.4 L445.5 375.6 L446.5 375.7 L447.5 375.8 L448.5 375.9 L449.5 376.0 L450.5 376.1 L451.5 376.2 L452.5 376.3 L453.5 376.4 L454.5 376.5 L455.5 376.6 L456.5 376.7 L457.5 376.8 L458.5 376.9 L459.5 377.0 L460.5 377.0 L461.5 377.1 L462.5 377.2 L463.5 377.2 L464.5 377.3 L465.5 377.4 L466.5 377.4 L467.5 377.5 L468.5 377.6 L469.5 377.6 L470.5 377.7 L471.5 377.7 L472.5 377.8 L473.5 377.8 L474.5 377.9 L475.4 377.9 L476.4 377.9 L477.4 378.0 L478.4 378.0 L479.4 378.1 L480.4 378.1 L481.4 378.1 L482.4 378.2 L483.4 378.2 L484.4 378.2 L485.4 378.2 L486.4 378.3 L487.4 378.3 L488.4 378.3 L489.4 378.3 L490.4 378.4 L491.4 378.4 L492.4 378.4 L493.4 378.4 L494.4 378.4 L495.4 378.5 L496.4 378.5 L497.4 378.5 L498.4 378.5 L499.4 378.5 L500.4 378.5 L501.4 378.5 L502.4 378.6 L503.4 378.6 L504.4 378.6 L505.4 378.6 L506.4 378.6 L507.4 378.6 L508.4 378.6 L509.4 378.6 L510.4 378.6 L511.4 378.6 L512.4 378.7 L513.4 378.7 L514.4 378.7 L515.3 378.7 L516.3 378.7 L517.3 378.7 L518.3 378.7 L519.3 378.7 L520.3 378.7 L521.3 378.7 L522.3 378.7 L523.3 378.7 L524.3 378.7 L525.3 378.7 L526.3 378.7 L527.3 378.7 L528.3 378.7 L529.3 378.7 L530.3 378.7 L531.3 378.7 L532.3 378.7 L533.3 378.8 L534.3 378.8" stroke="#e7b12f"/>
<path d="M61.5 304.1 L62.5 304.1 L63.5 304.1 L64.5 304.1 L65.5 304.1 L66.5 304.1 L67.5 304.1 L68.5 304.1 L69.5 304.1 L70.5 304.1 L71.5 304.1 L72.5 304.1 L73.5 304.1 L74.5 304.0 L75.5 304.0 L76.5 304.0 L77.5 304.0 L78.5 304.0 L79.5 304.0 L80.5 304.0 L81.4 304.0 L82.4 304.0 L83.4 303.9 L84.4 303.9 L85.4 303.9 L86.4 303.9 L87.4 303.9 L88.4 303.9 L89.4 303.8 L90.4 303.8 L91.4 303.8 L92.4 303.8 L93.4 303.8 L94.4 303.7 L95.4 303.7 L96.4 303.7 L97.4 303.7 L98.4 303.6 L99.4 303.6 L100.4 303.6 L101.4 303.5 L102.4 303.5 L103.4 303.5 L104.4 303.4 L105.4 303.4 L106.4 303.4 L107.4 303.3 L108.4 303.3 L109.4 303.2 L110.4 303.2 L111.4 303.1 L112.4 303.1 L113.4 303.0 L114.4 302.9 L115.4 302.9 L116.4 302.8 L117.4 302.7 L118.4 302.6 L119.4 302.6 L120.4 302.5 L121.3 302.4 L122.3 302.3 L123.3 302.2 L124.3 302.1 L125.3 302.0 L126.3 301.8 L127.3 301.7 L128.3 301.6 L129.3 301.5 L130.3 301.3 L131.3 301.1 L132.3 301.0 L133.3 300.8 L134.3 300.6 L135.3 300.4 L136.3 300.2 L137.3 300.0 L138.3 299.7 L139.3 299.5 L140.3 299.2 L141.3 298.9 L142.3 298.6 L143.3 298.4 L144.3 298.1 L145.3 297.8 L146.3 297.5 L147.3 297.1 L148.3 296.8 L149.3 296.5 L150.3 296.2 L151.3 295.8 L152.3 295.5 L153.3 295.1 L154.3 294.7 L155.3 294.4 L156.3 294.0 L157.3 293.6 L158.3 293.2 L159.3 292.8 L160.2 292.4 L161.2 292.0 L162.2 291.6 L163.2 291.2 L164.2 290.9 L165.2 290.5 L166.2 290.2 L167.2 289.8 L168.2 289.5 L169.2 289.2 L170.2 288.9 L171.2 288.7 L172.2 288.4 L173.2 288.1 L174.2 287.9 L175.2 287.6 L176.2 287.4 L177.2 287.2 L178.2 287.0 L179.2 286.8 L180.2 286.6 L181.2 286.4 L182.2 286.3 L183.2 286.2 L184.2 286.0 L185.2 286.0 L186.2 285.9 L187.2 285.8 L188.2 285.8 L189.2 285.8 L190.2 285.8 L191.2 285.8 L192.2 285.8 L193.2 285.8 L194.2 285.9 L195.2 285.9 L196.2 286.0 L197.2 286.1 L198.2 286.2 L199.2 286.3 L200.1 286.4 L201.1 286.6 L202.1 286.7 L203.1 286.9 L204.1 287.0 L205.1 287.2 L206.1 287.4 L207.1 287.6 L208.1 287.7 L209.1 287.9 L210.1 288.1 L211.1 288.4 L212.1 288.6 L213.1 288.8 L214.1 289.0 L215.1 289.2 L216.1 289.5 L217.1 289.7 L218.1 289.9 L219.1 290.2 L220.1 290.4 L221.1 290.6 L222.1 290.9 L223.1 291.1 L224.1 291.4 L225.1 291.7 L226.1 291.9 L227.1 292.2 L228.1 292.4 L229.1 292.7 L230.1 293.0 L231.1 293.3 L232.1 293.5 L233.1 293.8 L234.1 294.1 L235.1 294.4 L236.1 294.7 L237.1 295.0 L238.1 295.3 L239.0 295.6 L240.0 296.0 L241.0 296.3 L242.0 296.6 L243.0 297.0 L244.0 297.4 L245.0 297.7 L246.0 298.1 L247.0 298.5 L248.0 299.0 L249.0 299.4 L250.0 299.9 L251.0 300.5 L252.0 301.0 L253.0 301.6 L254.0 302.2 L255.0 302.9 L256.0 303.6 L257.0 304.3 L258.0 305.1 L259.0 305.9 L260.0 306.7 L261.0 307.6 L262.0 308.5 L263.0 309.5 L264.0 310.5 L265.0 311.5 L266.0 312.5 L267.0 313.6 L268.0 314.7 L269.0 315.8 L270.0 316.9 L271.0 318.1 L272.0 319.2 L273.0 320.3 L274.0 321.4 L275.0 322.4 L276.0 323.4 L277.0 324.4 L278.0 325.4 L278.9 326.2 L279.9 327.1 L280.9 327.8 L281.9 328.5 L282.9 329.2 L283.9 329.7 L284.9 330.2 L285.9 330.7 L286.9 331.0 L287.9 331.3 L288.9 331.6 L289.9 331.7 L290.9 331.9 L291.9 332.0 L292.9 332.1 L293.9 332.1 L294.9 332.1 L295.9 332.1 L296.9 332.1 L297.9 332.1 L298.9 332.0 L299.9 331.9 L300.9 331.8 L301.9 331.7 L302.9 331.6 L303.9 331.5 L304.9 331.5 L305.9 331.5 L306.9 331.5 L307.9 331.6 L308.9 331.8 L309.9 332.0 L310.9 332.3 L311.9 332.7 L312.9 333.2 L313.9 333.8 L314.9 334.5 L315.9 335.3 L316.9 336.2 L317.8 337.3 L318.8 338.4 L319.8 339.5 L320.8 340.8 L321.8 342.0 L322.8 343.4 L323.8 344.7 L324.8 346.0 L325.8 347.3 L326.8 348.6 L327.8 349.9 L328.8 351.0 L329.8 352.2 L330.8 353.2 L331.8 354.2 L332.8 355.2 L333.8 356.0 L334.8 356.9 L335.8 357.6 L336.8 358.3 L337.8 359.0 L338.8 359.6 L339.8 360.2 L340.8 360.7 L341.8 361.2 L342.8 361.6 L343.8 362.0 L344.8 362.4 L345.8 362.7 L346.8 363.0 L347.8 363.3 L348.8 363.6 L349.8 363.8 L350.8 364.1 L351.8 364.3 L352.8 364.5 L353.8 364.7 L354.8 364.8 L355.8 365.0 L356.8 365.1 L357.7 365.3 L358.7 365.4 L359.7 365.5 L360.7 365.6 L361.7 365.7 L362.7 365.8 L363.7 365.9 L364.7 366.0 L365.7 366.1 L366.7 366.2 L367.7 366.2 L368.7 366.3 L369.7 366.4 L370.7 366.4 L371.7 366.5 L372.7 366.5 L373.7 366.6 L374.7 366.7 L375.7 366.7 L376.7 366.8 L377.7 366.8 L378.7 366.9 L379.7 366.9 L380.7 367.0 L381.7 367.0 L382.7 367.1 L383.7 367.1 L384.7 367.1 L385.7 367.2 L386.7 367.2 L387.7 367.3 L388.7 367.3 L389.7 367.4 L390.7 367.4 L391.7 367.5 L392.7 367.5 L393.7 367.6 L394.7 367.6 L395.7 367.7 L396.6 367.8 L397.6 367.8 L398.6 367.9 L399.6 367.9 L400.6 368.0 L401.6 368.1 L402.6 368.1 L403.6 368.2 L404.6 368.3 L405.6 368.4 L406.6 368.4 L407.6 368.5 L408.6 368.6 L409.6 368.7 L410.6 368.8 L411.6 368.9 L412.6 369.0 L413.6 369.1 L414.6 369.2 L415.6 369.3 L416.6 369.4 L417.6 369.5 L418.6 369.6 L419.6 369.8 L420.6 369.9 L421.6 370.0 L422.6 370.2 L423.6 370.3 L424.6 370.4 L425.6 370.6 L426.6 370.7 L427.6 370.9 L428.6 371.0 L429.6 371.2 L430.6 371.4 L431.6 371.5 L432.6 371.7 L433.6 371.9 L434.6 372.1 L435.6 372.2 L436.5 372.4 L437.5 372.6 L438.5 372.8 L439.5 373.0 L440.5 373.1 L441.5 373.3 L442.5 373.5 L443.5 373.7 L444.5 373.8 L445.5 374.0 L446.5 374.2 L447.5 374.4 L448.5 374.5 L449.5 374.7 L450.5 374.8 L451.5 375.0 L452.5 375.2 L453.5 375.3 L454.5 375.4 L455.5 375.6 L456.5 375.7 L457.5 375.8 L458.5 376.0 L459.5 376.1 L460.5 376.2 L461.5 376.3 L462.5 376.4 L463.5 376.5 L464.5 376.6 L465.5 376.7 L466.5 376.8 L467.5 376.9 L468.5 377.0 L469.5 377.1 L470.5 377.2 L471.5 377.2 L472.5 377.3 L473.5 377.4 L474.5 377.4 L475.4 377.5 L476.4 377.6 L477.4 377.6 L478.4 377.7 L479.4 377.7 L480.4 377.8 L481.4 377.8 L482.4 377.9 L483.4 377.9 L484.4 377.9 L485.4 378.0 L486.4 378.0 L487.4 378.1 L488.4 378.1 L489.4 378.1 L490.4 378.2 L491.4 378.2 L492.4 378.2 L493.4 378.2 L494.4 378.3 L495.4 378.3 L496.4 378.3 L497.4 378.3 L498.4 378.4 L499.4 378.4 L500.4 378.4 L501.4 378.4 L502.4 378.4 L503.4 378.5 L504.4 378.5 L505.4 378.5 L506.4 378.5 L507.4 378.5 L508.4 378.5 L509.4 378.5 L510.4 378.6 L511.4 378.6 L512.4 378.6 L513.4 378.6 L514.4 378.6 L515.3 378.6 L516.3 378.6 L517.3 378.6 L518.3 378.6 L519.3 378.6 L520.3 378.7 L521.3 378.7 L522.3 378.7 L523.3 378.7 L524.3 378.7 L525.3 378.7 L526.3 378.7 L527.3 378.7 L528.3 378.7 L529.3 378.7 L530.3 378.7 L531.3 378.7 L532.3 378.7 L533.3 378.7 L534.3 378.7" stroke="#7a3288"/>
<path d="M61.5 304.1 L62.5 304.1 L63.5 304.1 L64.5 304.1 L65.5 304.1 L66.5 304.1 L67.5 304.1 L68.5 304.1 L69.5 304.0 L70.5 304.0 L71.5 304.0 L72.5 304.0 L73.5 304.0 L74.5 304.0 L75.5 304.0 L76.5 304.0 L77.5 304.0 L78.5 303.9 L79.5 303.9 L80.5 303.9 L81.4 303.9 L82.4 303.9 L83.4 303.9 L84.4 303.8 L85.4 303.8 L86.4 303.8 L87.4 303.8 L88.4 303.8 L89.4 303.7 L90.4 303.7 L91.4 303.7 L92.4 303.7 L93.4 303.6 L94.4 303.6 L95.4 303.6 L96.4 303.5 L97.4 303.5 L98.4 303.5 L99.4 303.4 L100.4 303.4 L101.4 303.4 L102.4 303.3 L103.4 303.3 L104.4 303.2 L105.4 303.2 L106.4 303.1 L107.4 303.1 L108.4 303.0 L109.4 303.0 L110.4 302.9 L111.4 302.8 L112.4 302.8 L113.4 302.7 L114.4 302.6 L115.4 302.5 L116.4 302.4 L117.4 302.4 L118.4 302.3 L119.4 302.2 L120.4 302.0 L121.3 301.9 L122.3 301.8 L123.3 301.7 L124.3 301.6 L125.3 301.4 L126.3 301.3 L127.3 301.1 L128.3 301.0 L129.3 300.8 L130.3 300.6 L131.3 300.4 L132.3 300.2 L133.3 300.0 L134.3 299.8 L135.3 299.5 L136.3 299.3 L137.3 299.0 L138.3 298.7 L139.3 298.4 L140.3 298.1 L141.3 297.8 L142.3 297.5 L143.3 297.1 L144.3 296.8 L145.3 296.4 L146.3 296.1 L147.3 295.7 L148.3 295.3 L149.3 295.0 L150.3 294.6 L151.3 294.2 L152.3 293.8 L153.3 293.3 L154.3 292.9 L155.3 292.5 L156.3 292.0 L157.3 291.6 L158.3 291.1 L159.3 290.7 L160.2 290.2 L161.2 289.8 L162.2 289.3 L163.2 288.9 L164.2 288.5 L165.2 288.1 L166.2 287.7 L167.2 287.3 L168.2 286.9 L169.2 286.6 L170.2 286.3 L171.2 285.9 L172.2 285.6 L173.2 285.3 L174.2 285.0 L175.2 284.7 L176.2 284.5 L177.2 284.2 L178.2 284.0 L179.2 283.7 L180.2 283.5 L181.2 283.3 L182.2 283.2 L183.2 283.0 L184.2 282.9 L185.2 282.8 L186.2 282.7 L187.2 282.6 L188.2 282.5 L189.2 282.5 L190.2 282.5 L191.2 282.5 L192.2 282.5 L193.2 282.5 L194.2 282.5 L195.2 282.5 L196.2 282.6 L197.2 282.7 L198.2 282.7 L199.2 282.8 L200.1 283.0 L201.1 283.1 L202.1 283.2 L203.1 283.3 L204.1 283.5 L205.1 283.7 L206.1 283.8 L207.1 284.0 L208.1 284.2 L209.1 284.4 L210.1 284.6 L211.1 284.8 L212.1 285.0 L213.1 285.2 L214.1 285.4 L215.1 285.6 L216.1 285.8 L217.1 286.1 L218.1 286.3 L219.1 286.5 L220.1 286.8 L221.1 287.0 L222.1 287.2 L223.1 287.5 L224.1 287.7 L225.1 288.0 L226.1 288.3 L227.1 288.5 L228.1 288.8 L229.1 289.0 L230.1 289.3 L231.1 289.6 L232.1 289.9 L233.1 290.1 L234.1 290.4 L235.1 290.7 L236.1 291.0 L237.1 291.3 L238.1 291.6 L239.0 291.9 L240.0 292.3 L241.0 292.6 L242.0 292.9 L243.0 293.3 L244.0 293.6 L245.0 294.0 L246.0 294.4 L247.0 294.8 L248.0 295.3 L249.0 295.7 L250.0 296.2 L251.0 296.7 L252.0 297.3 L253.0 297.9 L254.0 298.5 L255.0 299.2 L256.0 299.9 L257.0 300.6 L258.0 301.4 L259.0 302.2 L260.0 303.0 L261.0 303.9 L262.0 304.8 L263.0 305.7 L264.0 306.7 L265.0 307.7 L266.0 308.8 L267.0 309.9 L268.0 311.0 L269.0 312.1 L270.0 313.2 L271.0 314.3 L272.0 315.4 L273.0 316.5 L274.0 317.6 L275.0 318.7 L276.0 319.7 L277.0 320.7 L278.0 321.6 L278.9 322.5 L279.9 323.3 L280.9 324.1 L281.9 324.8 L282.9 325.4 L283.9 326.0 L284.9 326.5 L285.9 326.9 L286.9 327.3 L287.9 327.6 L288.9 327.8 L289.9 328.0 L290.9 328.2 L291.9 328.3 L292.9 328.3 L293.9 328.4 L294.9 328.4 L295.9 328.4 L296.9 328.4 L297.9 328.3 L298.9 328.3 L299.9 328.2 L300.9 328.1 L301.9 328.0 L302.9 327.9 L303.9 327.8 L304.9 327.7 L305.9 327.7 L306.9 327.8 L307.9 327.9 L308.9 328.1 L309.9 328.3 L310.9 328.6 L311.9 329.0 L312.9 329.5 L313.9 330.1 L314.9 330.8 L315.9 331.6 L316.9 332.5 L317.8 333.5 L318.8 334.6 L319.8 335.8 L320.8 337.0 L321.8 338.3 L322.8 339.6 L323.8 341.0 L324.8 342.3 L325.8 343.6 L326.8 344.9 L327.8 346.1 L328.8 347.3 L329.8 348.4 L330.8 349.5 L331.8 350.5 L332.8 351.4 L333.8 352.3 L334.8 353.1 L335.8 353.9 L336.8 354.6 L337.8 355.3 L338.8 355.9 L339.8 356.4 L340.8 357.0 L341.8 357.4 L342.8 357.9 L343.8 358.3 L344.8 358.6 L345.8 359.0 L346.8 359.3 L347.8 359.6 L348.8 359.9 L349.8 360.1 L350.8 360.4 L351.8 360.6 L352.8 360.8 L353.8 361.0 L354.8 361.1 L355.8 361.3 L356.8 361.4 L357.7 361.6 L358.7 361.7 L359.7 361.8 L360.7 361.9 L361.7 362.0 L362.7 362.1 L363.7 362.2 L364.7 362.3 L365.7 362.4 L366.7 362.5 L367.7 362.6 L368.7 362.6 L369.7 362.7 L370.7 362.8 L371.7 362.8 L372.7 362.9 L373.7 363.0 L374.7 363.0 L375.7 363.1 L376.7 363.1 L377.7 363.2 L378.7 363.2 L379.7 363.3 L380.7 363.4 L381.7 363.4 L382.7 363.5 L383.7 363.5 L384.7 363.6 L385.7 363.6 L386.7 363.7 L387.7 363.7 L388.7 363.8 L389.7 363.8 L390.7 363.9 L391.7 364.0 L392.7 364.0 L393.7 364.1 L394.7 364.2 L395.7 364.2 L396.6 364.3 L397.6 364.4 L398.6 364.5 L399.6 364.5 L400.6 364.6 L401.6 364.7 L402.6 364.8 L403.6 364.9 L404.6 365.0 L405.6 365.1 L406.6 365.2 L407.6 365.3 L408.6 365.4 L409.6 365.5 L410.6 365.6 L411.6 365.7 L412.6 365.9 L413.6 366.0 L414.6 366.1 L415.6 366.3 L416.6 366.4 L417.6 366.6 L418.6 366.7 L419.6 366.9 L420.6 367.0 L421.6 367.2 L422.6 367.4 L423.6 367.6 L424.6 367.7 L425.6 367.9 L426.6 368.1 L427.6 368.3 L428.6 368.5 L429.6 368.8 L430.6 369.0 L431.6 369.2 L432.6 369.4 L433.6 369.7 L434.6 369.9 L435.6 370.1 L436.5 370.4 L437.5 370.6 L438.5 370.8 L439.5 371.1 L440.5 371.3 L441.5 371.5 L442.5 371.8 L443.5 372.0 L444.5 372.3 L445.5 372.5 L446.5 372.7 L447.5 372.9 L448.5 373.2 L449.5 373.4 L450.5 373.6 L451.5 373.8 L452.5 374.0 L453.5 374.2 L454.5 374.4 L455.5 374.6 L456.5 374.7 L457.5 374.9 L458.5 375.1 L459.5 375.2 L460.5 375.4 L461.5 375.5 L462.5 375.7 L463.5 375.8 L464.5 375.9 L465.5 376.1 L466.5 376.2 L467.5 376.3 L468.5 376.4 L469.5 376.5 L470.5 376.6 L471.5 376.7 L472.5 376.8 L473.5 376.9 L474.5 377.0 L475.4 377.1 L476.4 377.2 L477.4 377.2 L478.4 377.3 L479.4 377.4 L480.4 377.4 L481.4 377.5 L482.4 377.6 L483.4 377.6 L484.4 377.7 L485.4 377.7 L486.4 377.8 L487.4 377.8 L488.4 377.9 L489.4 377.9 L490.4 378.0 L491.4 378.0 L492.4 378.0 L493.4 378.1 L494.4 378.1 L495.4 378.1 L496.4 378.2 L497.4 378.2 L498.4 378.2 L499.4 378.3 L500.4 378.3 L501.4 378.3 L502.4 378.3 L503.4 378.4 L504.4 378.4 L505.4 378.4 L506.4 378.4 L507.4 378.4 L508.4 378.5 L509.4 378.5 L510.4 378.5 L511.4 378.5 L512.4 378.5 L513.4 378.5 L514.4 378.5 L515.3 378.6 L516.3 378.6 L517.3 378.6 L518.3 378.6 L519.3 378.6 L520.3 378.6 L521.3 378.6 L522.3 378.6 L523.3 378.6 L524.3 378.6 L525.3 378.7 L526.3 378.7 L527.3 378.7 L528.3 378.7 L529.3 378.7 L530.3 378.7 L531.3 378.7 L532.3 378.7 L533.3 378.7 L534.3 378.7" stroke="#79a939"/>
<path d="M61.5 304.1 L62.5 304.1 L63.5 304.1 L64.5 304.1 L65.5 304.0 L66.5 304.0 L67.5 304.0 L68.5 304.0 L69.5 304.0 L70.5 304.0 L71.5 304.0 L72.5 304.0 L73.5 304.0 L74.5 304.0 L75.5 303.9 L76.5 303.9 L77.5 303.9 L78.5 303.9 L79.5 303.9 L80.5 303.9 L81.4 303.8 L82.4 303.8 L83.4 303.8 L84.4 303.8 L85.4 303.7 L86.4 303.7 L87.4 303.7 L88.4 303.7 L89.4 303.6 L90.4 303.6 L91.4 303.6 L92.4 303.6 L93.4 303.5 L94.4 303.5 L95.4 303.4 L96.4 303.4 L97.4 303.4 L98.4 303.3 L99.4 303.3 L100.4 303.2 L101.4 303.2 L102.4 303.1 L103.4 303.1 L104.4 303.0 L105.4 303.0 L106.4 302.9 L107.4 302.9 L108.4 302.8 L109.4 302.7 L110.4 302.6 L111.4 302.6 L112.4 302.5 L113.4 302.4 L114.4 302.3 L115.4 302.2 L116.4 302.1 L117.4 302.0 L118.4 301.9 L119.4 301.7 L120.4 301.6 L121.3 301.5 L122.3 301.3 L123.3 301.2 L124.3 301.0 L125.3 300.9 L126.3 300.7 L127.3 300.5 L128.3 300.3 L129.3 300.1 L130.3 299.9 L131.3 299.7 L132.3 299.5 L133.3 299.2 L134.3 299.0 L135.3 298.7 L136.3 298.4 L137.3 298.1 L138.3 297.7 L139.3 297.4 L140.3 297.1 L141.3 296.7 L142.3 296.3 L143.3 295.9 L144.3 295.5 L145.3 295.1 L146.3 294.7 L147.3 294.3 L148.3 293.9 L149.3 293.4 L150.3 293.0 L151.3 292.5 L152.3 292.1 L153.3 291.6 L154.3 291.1 L155.3 290.6 L156.3 290.1 L157.3 289.6 L158.3 289.1 L159.3 288.6 L160.2 288.1 L161.2 287.6 L162.2 287.1 L163.2 286.6 L164.2 286.1 L165.2 285.6 L166.2 285.2 L167.2 284.8 L168.2 284.4 L169.2 284.0 L170.2 283.6 L171.2 283.2 L172.2 282.8 L173.2 282.5 L174.2 282.2 L175.2 281.9 L176.2 281.5 L177.2 281.2 L178.2 281.0 L179.2 280.7 L180.2 280.5 L181.2 280.2 L182.2 280.0 L183.2 279.8 L184.2 279.7 L185.2 279.5 L186.2 279.4 L187.2 279.3 L188.2 279.3 L189.2 279.2 L190.2 279.1 L191.2 279.1 L192.2 279.1 L193.2 279.1 L194.2 279.1 L195.2 279.1 L196.2 279.2 L197.2 279.2 L198.2 279.3 L199.2 279.4 L200.1 279.5 L201.1 279.6 L202.1 279.7 L203.1 279.8 L204.1 280.0 L205.1 280.1 L206.1 280.3 L207.1 280.4 L208.1 280.6 L209.1 280.8 L210.1 281.0 L211.1 281.2 L212.1 281.4 L213.1 281.6 L214.1 281.8 L215.1 282.0 L216.1 282.2 L217.1 282.4 L218.1 282.7 L219.1 282.9 L220.1 283.1 L221.1 283.4 L222.1 283.6 L223.1 283.8 L224.1 284.1 L225.1 284.3 L226.1 284.6 L227.1 284.8 L228.1 285.1 L229.1 285.4 L230.1 285.6 L231.1 285.9 L232.1 286.2 L233.1 286.5 L234.1 286.7 L235.1 287.0 L236.1 287.3 L237.1 287.6 L238.1 287.9 L239.0 288.2 L240.0 288.6 L241.0 288.9 L242.0 289.2 L243.0 289.6 L244.0 289.9 L245.0 290.3 L246.0 290.7 L247.0 291.1 L248.0 291.5 L249.0 292.0 L250.0 292.5 L251.0 293.0 L252.0 293.6 L253.0 294.2 L254.0 294.8 L255.0 295.5 L256.0 296.2 L257.0 296.9 L258.0 297.7 L259.0 298.5 L260.0 299.3 L261.0 300.2 L262.0 301.1 L263.0 302.0 L264.0 303.0 L265.0 304.0 L266.0 305.1 L267.0 306.1 L268.0 307.2 L269.0 308.3 L270.0 309.5 L271.0 310.6 L272.0 311.7 L273.0 312.8 L274.0 313.9 L275.0 314.9 L276.0 316.0 L277.0 317.0 L278.0 317.9 L278.9 318.8 L279.9 319.6 L280.9 320.4 L281.9 321.1 L282.9 321.7 L283.9 322.3 L284.9 322.8 L285.9 323.2 L286.9 323.5 L287.9 323.8 L288.9 324.1 L289.9 324.3 L290.9 324.4 L291.9 324.5 L292.9 324.6 L293.9 324.6 L294.9 324.7 L295.9 324.7 L296.9 324.6 L297.9 324.6 L298.9 324.5 L299.9 324.4 L300.9 324.3 L301.9 324.2 L302.9 324.1 L303.9 324.0 L304.9 324.0 L305.9 324.0 L306.9 324.1 L307.9 324.2 L308.9 324.3 L309.9 324.6 L310.9 324.9 L311.9 325.3 L312.9 325.8 L313.9 326.3 L314.9 327.0 L315.9 327.9 L316.9 328.8 L317.8 329.8 L318.8 330.9 L319.8 332.1 L320.8 333.3 L321.8 334.6 L322.8 335.9 L323.8 337.2 L324.8 338.6 L325.8 339.9 L326.8 341.2 L327.8 342.4 L328.8 343.6 L329.8 344.7 L330.8 345.8 L331.8 346.8 L332.8 347.7 L333.8 348.6 L334.8 349.4 L335.8 350.2 L336.8 350.9 L337.8 351.5 L338.8 352.2 L339.8 352.7 L340.8 353.2 L341.8 353.7 L342.8 354.2 L343.8 354.6 L344.8 354.9 L345.8 355.3 L346.8 355.6 L347.8 355.9 L348.8 356.1 L349.8 356.4 L350.8 356.6 L351.8 356.9 L352.8 357.1 L353.8 357.3 L354.8 357.4 L355.8 357.6 L356.8 357.7 L357.7 357.9 L358.7 358.0 L359.7 358.1 L360.7 358.2 L361.7 358.3 L362.7 358.5 L363.7 358.5 L364.7 358.6 L365.7 358.7 L366.7 358.8 L367.7 358.9 L368.7 359.0 L369.7 359.0 L370.7 359.1 L371.7 359.2 L372.7 359.2 L373.7 359.3 L374.7 359.4 L375.7 359.4 L376.7 359.5 L377.7 359.6 L378.7 359.6 L379.7 359.7 L380.7 359.7 L381.7 359.8 L382.7 359.9 L383.7 359.9 L384.7 360.0 L385.7 360.1 L386.7 360.1 L387.7 360.2 L388.7 360.2 L389.7 360.3 L390.7 360.4 L391.7 360.5 L392.7 360.5 L393.7 360.6 L394.7 360.7 L395.7 360.8 L396.6 360.9 L397.6 360.9 L398.6 361.0 L399.6 361.1 L400.6 361.2 L401.6 361.3 L402.6 361.4 L403.6 361.5 L404.6 361.7 L405.6 361.8 L406.6 361.9 L407.6 362.0 L408.6 362.2 L409.6 362.3 L410.6 362.4 L411.6 362.6 L412.6 362.7 L413.6 362.9 L414.6 363.1 L415.6 363.2 L416.6 363.4 L417.6 363.6 L418.6 363.8 L419.6 364.0 L420.6 364.2 L421.6 364.4 L422.6 364.6 L423.6 364.8 L424.6 365.1 L425.6 365.3 L426.6 365.5 L427.6 365.8 L428.6 366.1 L429.6 366.3 L430.6 366.6 L431.6 366.9 L432.6 367.1 L433.6 367.4 L434.6 367.7 L435.6 368.0 L436.5 368.3 L437.5 368.6 L438.5 368.9 L439.5 369.2 L440.5 369.5 L441.5 369.8 L442.5 370.1 L443.5 370.4 L444.5 370.7 L445.5 370.9 L446.5 371.2 L447.5 371.5 L448.5 371.8 L449.5 372.1 L450.5 372.3 L451.5 372.6 L452.5 372.8 L453.5 373.1 L454.5 373.3 L455.5 373.5 L456.5 373.7 L457.5 374.0 L458.5 374.2 L459.5 374.4 L460.5 374.6 L461.5 374.7 L462.5 374.9 L463.5 375.1 L464.5 375.3 L465.5 375.4 L466.5 375.6 L467.5 375.7 L468.5 375.8 L469.5 376.0 L470.5 376.1 L471.5 376.2 L472.5 376.4 L473.5 376.5 L474.5 376.6 L475.4 376.7 L476.4 376.8 L477.4 376.9 L478.4 377.0 L479.4 377.0 L480.4 377.1 L481.4 377.2 L482.4 377.3 L483.4 377.3 L484.4 377.4 L485.4 377.5 L486.4 377.5 L487.4 377.6 L488.4 377.7 L489.4 377.7 L490.4 377.8 L491.4 377.8 L492.4 377.9 L493.4 377.9 L494.4 377.9 L495.4 378.0 L496.4 378.0 L497.4 378.1 L498.4 378.1 L499.4 378.1 L500.4 378.2 L501.4 378.2 L502.4 378.2 L503.4 378.2 L504.4 378.3 L505.4 378.3 L506.4 378.3 L507.4 378.3 L508.4 378.4 L509.4 378.4 L510.4 378.4 L511.4 378.4 L512.4 378.4 L513.4 378.5 L514.4 378.5 L515.3 378.5 L516.3 378.5 L517.3 378.5 L518.3 378.5 L519.3 378.6 L520.3 378.6 L521.3 378.6 L522.3 378.6 L523.3 378.6 L524.3 378.6 L525.3 378.6 L526.3 378.6 L527.3 378.6 L528.3 378.6 L529.3 378.6 L530.3 378.7 L531.3 378.7 L532.3 378.7 L533.3 378.7 L534.3 378.7" stroke="#55bbe6"/>
<path d="M61.5 304.1 L62.5 304.0 L63.5 304.0 L64.5 304.0 L65.5 304.0 L66.5 304.0 L67.5 304.0 L68.5 304.0 L69.5 304.0 L70.5 304.0 L71.5 303.9 L72.5 303.9 L73.5 303.9 L74.5 303.9 L75.5 303.9 L76.5 303.9 L77.5 303.9 L78.5 303.8 L79.5 303.8 L80.5 303.8 L81.4 303.8 L82.4 303.7 L83.4 303.7 L84.4 303.7 L85.4 303.7 L86.4 303.6 L87.4 303.6 L88.4 303.6 L89.4 303.5 L90.4 303.5 L91.4 303.5 L92.4 303.4 L93.4 303.4 L94.4 303.4 L95.4 303.3 L96.4 303.3 L97.4 303.2 L98.4 303.2 L99.4 303.1 L100.4 303.1 L101.4 303.0 L102.4 303.0 L103.4 302.9 L104.4 302.8 L105.4 302.8 L106.4 302.7 L107.4 302.6 L108.4 302.5 L109.4 302.5 L110.4 302.4 L111.4 302.3 L112.4 302.2 L113.4 302.1 L114.4 302.0 L115.4 301.9 L116.4 301.7 L117.4 301.6 L118.4 301.5 L119.4 301.3 L120.4 301.2 L121.3 301.0 L122.3 300.9 L123.3 300.7 L124.3 300.5 L125.3 300.3 L126.3 300.1 L127.3 299.9 L128.3 299.7 L129.3 299.5 L130.3 299.2 L131.3 299.0 L132.3 298.7 L133.3 298.4 L134.3 298.1 L135.3 297.8 L136.3 297.5 L137.3 297.1 L138.3 296.8 L139.3 296.4 L140.3 296.0 L141.3 295.6 L142.3 295.1 L143.3 294.7 L144.3 294.3 L145.3 293.8 L146.3 293.3 L147.3 292.9 L148.3 292.4 L149.3 291.9 L150.3 291.4 L151.3 290.9 L152.3 290.4 L153.3 289.8 L154.3 289.3 L155.3 288.7 L156.3 288.2 L157.3 287.6 L158.3 287.0 L159.3 286.5 L160.2 285.9 L161.2 285.3 L162.2 284.8 L163.2 284.2 L164.2 283.7 L165.2 283.2 L166.2 282.7 L167.2 282.2 L168.2 281.8 L169.2 281.3 L170.2 280.9 L171.2 280.5 L172.2 280.1 L173.2 279.7 L174.2 279.3 L175.2 279.0 L176.2 278.6 L177.2 278.3 L178.2 278.0 L179.2 277.7 L180.2 277.4 L181.2 277.1 L182.2 276.9 L183.2 276.7 L184.2 276.5 L185.2 276.3 L186.2 276.2 L187.2 276.1 L188.2 276.0 L189.2 275.9 L190.2 275.8 L191.2 275.8 L192.2 275.7 L193.2 275.7 L194.2 275.7 L195.2 275.7 L196.2 275.7 L197.2 275.8 L198.2 275.8 L199.2 275.9 L200.1 276.0 L201.1 276.1 L202.1 276.2 L203.1 276.3 L204.1 276.5 L205.1 276.6 L206.1 276.7 L207.1 276.9 L208.1 277.1 L209.1 277.2 L210.1 277.4 L211.1 277.6 L212.1 277.8 L213.1 278.0 L214.1 278.2 L215.1 278.4 L216.1 278.6 L217.1 278.8 L218.1 279.0 L219.1 279.3 L220.1 279.5 L221.1 279.7 L222.1 279.9 L223.1 280.2 L224.1 280.4 L225.1 280.7 L226.1 280.9 L227.1 281.2 L228.1 281.4 L229.1 281.7 L230.1 282.0 L231.1 282.2 L232.1 282.5 L233.1 282.8 L234.1 283.0 L235.1 283.3 L236.1 283.6 L237.1 283.9 L238.1 284.2 L239.0 284.5 L240.0 284.9 L241.0 285.2 L242.0 285.5 L243.0 285.9 L244.0 286.2 L245.0 286.6 L246.0 287.0 L247.0 287.4 L248.0 287.8 L249.0 288.3 L250.0 288.8 L251.0 289.3 L252.0 289.9 L253.0 290.5 L254.0 291.1 L255.0 291.7 L256.0 292.4 L257.0 293.2 L258.0 293.9 L259.0 294.7 L260.0 295.6 L261.0 296.4 L262.0 297.3 L263.0 298.3 L264.0 299.3 L265.0 300.3 L266.0 301.3 L267.0 302.4 L268.0 303.5 L269.0 304.6 L270.0 305.7 L271.0 306.9 L272.0 308.0 L273.0 309.1 L274.0 310.2 L275.0 311.2 L276.0 312.2 L277.0 313.2 L278.0 314.2 L278.9 315.0 L279.9 315.9 L280.9 316.6 L281.9 317.3 L282.9 318.0 L283.9 318.5 L284.9 319.0 L285.9 319.4 L286.9 319.8 L287.9 320.1 L288.9 320.3 L289.9 320.5 L290.9 320.7 L291.9 320.8 L292.9 320.9 L293.9 320.9 L294.9 320.9 L295.9 320.9 L296.9 320.9 L297.9 320.9 L298.9 320.8 L299.9 320.7 L300.9 320.6 L301.9 320.5 L302.9 320.4 L303.9 320.3 L304.9 320.3 L305.9 320.3 L306.9 320.3 L307.9 320.4 L308.9 320.6 L309.9 320.8 L310.9 321.1 L311.9 321.5 L312.9 322.0 L313.9 322.6 L314.9 323.3 L315.9 324.1 L316.9 325.0 L317.8 326.1 L318.8 327.2 L319.8 328.3 L320.8 329.6 L321.8 330.9 L322.8 332.2 L323.8 333.5 L324.8 334.8 L325.8 336.1 L326.8 337.4 L327.8 338.7 L328.8 339.8 L329.8 341.0 L330.8 342.0 L331.8 343.0 L332.8 344.0 L333.8 344.9 L334.8 345.7 L335.8 346.4 L336.8 347.2 L337.8 347.8 L338.8 348.4 L339.8 349.0 L340.8 349.5 L341.8 350.0 L342.8 350.4 L343.8 350.8 L344.8 351.2 L345.8 351.5 L346.8 351.9 L347.8 352.2 L348.8 352.4 L349.8 352.7 L350.8 352.9 L351.8 353.2 L352.8 353.4 L353.8 353.5 L354.8 353.7 L355.8 353.9 L356.8 354.0 L357.7 354.2 L358.7 354.3 L359.7 354.4 L360.7 354.5 L361.7 354.7 L362.7 354.8 L363.7 354.9 L364.7 355.0 L365.7 355.1 L366.7 355.1 L367.7 355.2 L368.7 355.3 L369.7 355.4 L370.7 355.4 L371.7 355.5 L372.7 355.6 L373.7 355.7 L374.7 355.7 L375.7 355.8 L376.7 355.9 L377.7 355.9 L378.7 356.0 L379.7 356.1 L380.7 356.1 L381.7 356.2 L382.7 356.3 L383.7 356.3 L384.7 356.4 L385.7 356.5 L386.7 356.6 L387.7 356.6 L388.7 356.7 L389.7 356.8 L390.7 356.9 L391.7 356.9 L392.7 357.0 L393.7 357.1 L394.7 357.2 L395.7 357.3 L396.6 357.4 L397.6 357.5 L398.6 357.6 L399.6 357.7 L400.6 357.8 L401.6 358.0 L402.6 358.1 L403.6 358.2 L404.6 358.3 L405.6 358.5 L406.6 358.6 L407.6 358.8 L408.6 358.9 L409.6 359.1 L410.6 359.3 L411.6 359.4 L412.6 359.6 L413.6 359.8 L414.6 360.0 L415.6 360.2 L416.6 360.4 L417.6 360.6 L418.6 360.9 L419.6 361.1 L420.6 361.3 L421.6 361.6 L422.6 361.8 L423.6 362.1 L424.6 362.4 L425.6 362.7 L426.6 363.0 L427.6 363.3 L428.6 363.6 L429.6 363.9 L430.6 364.2 L431.6 364.5 L432.6 364.9 L433.6 365.2 L434.6 365.5 L435.6 365.9 L436.5 366.2 L437.5 366.6 L438.5 367.0 L439.5 367.3 L440.5 367.7 L441.5 368.0 L442.5 368.4 L443.5 368.7 L444.5 369.1 L445.5 369.4 L446.5 369.7 L447.5 370.1 L448.5 370.4 L449.5 370.7 L450.5 371.0 L451.5 371.3 L452.5 371.6 L453.5 371.9 L454.5 372.2 L455.5 372.5 L456.5 372.8 L457.5 373.0 L458.5 373.3 L459.5 373.5 L460.5 373.7 L461.5 373.9 L462.5 374.2 L463.5 374.4 L464.5 374.6 L465.5 374.8 L466.5 374.9 L467.5 375.1 L468.5 375.3 L469.5 375.4 L470.5 375.6 L471.5 375.7 L472.5 375.9 L473.5 376.0 L474.5 376.1 L475.4 376.3 L476.4 376.4 L477.4 376.5 L478.4 376.6 L479.4 376.7 L480.4 376.8 L481.4 376.9 L482.4 377.0 L483.4 377.1 L484.4 377.1 L485.4 377.2 L486.4 377.3 L487.4 377.4 L488.4 377.4 L489.4 377.5 L490.4 377.6 L491.4 377.6 L492.4 377.7 L493.4 377.7 L494.4 377.8 L495.4 377.8 L496.4 377.9 L497.4 377.9 L498.4 378.0 L499.4 378.0 L500.4 378.0 L501.4 378.1 L502.4 378.1 L503.4 378.1 L504.4 378.2 L505.4 378.2 L506.4 378.2 L507.4 378.3 L508.4 378.3 L509.4 378.3 L510.4 378.3 L511.4 378.4 L512.4 378.4 L513.4 378.4 L514.4 378.4 L515.3 378.4 L516.3 378.5 L517.3 378.5 L518.3 378.5 L519.3 378.5 L520.3 378.5 L521.3 378.5 L522.3 378.5 L523.3 378.6 L524.3 378.6 L525.3 378.6 L526.3 378.6 L527.3 378.6 L528.3 378.6 L529.3 378.6 L530.3 378.6 L531.3 378.6 L532.3 378.6 L533.3 378.7 L534.3 378.7" stroke="#981931"/>
<path d="M61.5 304.0 L62.5 304.0 L63.5 304.0 L64.5 304.0 L65.5 304.0 L66.5 304.0 L67.5 304.0 L68.5 304.0 L69.5 303.9 L70.5 303.9 L71.5 303.9 L72.5 303.9 L73.5 303.9 L74.5 303.9 L75.5 303.8 L76.5 303.8 L77.5 303.8 L78.5 303.8 L79.5 303.8 L80.5 303.7 L81.4 303.7 L82.4 303.7 L83.4 303.6 L84.4 303.6 L85.4 303.6 L86.4 303.6 L87.4 303.5 L88.4 303.5 L89.4 303.5 L90.4 303.4 L91.4 303.4 L92.4 303.3 L93.4 303.3 L94.4 303.2 L95.4 303.2 L96.4 303.1 L97.4 303.1 L98.4 303.0 L99.4 303.0 L100.4 302.9 L101.4 302.8 L102.4 302.8 L103.4 302.7 L104.4 302.6 L105.4 302.6 L106.4 302.5 L107.4 302.4 L108.4 302.3 L109.4 302.2 L110.4 302.1 L111.4 302.0 L112.4 301.9 L113.4 301.8 L114.4 301.6 L115.4 301.5 L116.4 301.4 L117.4 301.2 L118.4 301.1 L119.4 300.9 L120.4 300.7 L121.3 300.6 L122.3 300.4 L123.3 300.2 L124.3 300.0 L125.3 299.8 L126.3 299.6 L127.3 299.3 L128.3 299.1 L129.3 298.8 L130.3 298.5 L131.3 298.3 L132.3 298.0 L133.3 297.6 L134.3 297.3 L135.3 296.9 L136.3 296.6 L137.3 296.2 L138.3 295.8 L139.3 295.3 L140.3 294.9 L141.3 294.4 L142.3 294.0 L143.3 293.5 L144.3 293.0 L145.3 292.5 L146.3 292.0 L147.3 291.4 L148.3 290.9 L149.3 290.4 L150.3 289.8 L151.3 289.2 L152.3 288.6 L153.3 288.1 L154.3 287.4 L155.3 286.8 L156.3 286.2 L157.3 285.6 L158.3 285.0 L159.3 284.3 L160.2 283.7 L161.2 283.1 L162.2 282.5 L163.2 281.9 L164.2 281.3 L165.2 280.8 L166.2 280.2 L167.2 279.7 L168.2 279.2 L169.2 278.7 L170.2 278.2 L171.2 277.8 L172.2 277.3 L173.2 276.9 L174.2 276.5 L175.2 276.1 L176.2 275.7 L177.2 275.3 L178.2 275.0 L179.2 274.7 L180.2 274.3 L181.2 274.1 L182.2 273.8 L183.2 273.6 L184.2 273.3 L185.2 273.2 L186.2 273.0 L187.2 272.8 L188.2 272.7 L189.2 272.6 L190.2 272.5 L191.2 272.5 L192.2 272.4 L193.2 272.4 L194.2 272.3 L195.2 272.3 L196.2 272.3 L197.2 272.4 L198.2 272.4 L199.2 272.5 L200.1 272.5 L201.1 272.6 L202.1 272.7 L203.1 272.8 L204.1 272.9 L205.1 273.1 L206.1 273.2 L207.1 273.3 L208.1 273.5 L209.1 273.7 L210.1 273.8 L211.1 274.0 L212.1 274.2 L213.1 274.4 L214.1 274.6 L215.1 274.8 L216.1 275.0 L217.1 275.2 L218.1 275.4 L219.1 275.6 L220.1 275.8 L221.1 276.1 L222.1 276.3 L223.1 276.5 L224.1 276.8 L225.1 277.0 L226.1 277.3 L227.1 277.5 L228.1 277.8 L229.1 278.0 L230.1 278.3 L231.1 278.5 L232.1 278.8 L233.1 279.1 L234.1 279.4 L235.1 279.6 L236.1 279.9 L237.1 280.2 L238.1 280.5 L239.0 280.8 L240.0 281.2 L241.0 281.5 L242.0 281.8 L243.0 282.2 L244.0 282.5 L245.0 282.9 L246.0 283.3 L247.0 283.7 L248.0 284.1 L249.0 284.6 L250.0 285.1 L251.0 285.6 L252.0 286.1 L253.0 286.7 L254.0 287.4 L255.0 288.0 L256.0 288.7 L257.0 289.5 L258.0 290.2 L259.0 291.0 L260.0 291.8 L261.0 292.7 L262.0 293.6 L263.0 294.6 L264.0 295.5 L265.0 296.6 L266.0 297.6 L267.0 298.7 L268.0 299.8 L269.0 300.9 L270.0 302.0 L271.0 303.1 L272.0 304.2 L273.0 305.4 L274.0 306.4 L275.0 307.5 L276.0 308.5 L277.0 309.5 L278.0 310.4 L278.9 311.3 L279.9 312.1 L280.9 312.9 L281.9 313.6 L282.9 314.2 L283.9 314.8 L284.9 315.3 L285.9 315.7 L286.9 316.1 L287.9 316.4 L288.9 316.6 L289.9 316.8 L290.9 317.0 L291.9 317.1 L292.9 317.1 L293.9 317.2 L294.9 317.2 L295.9 317.2 L296.9 317.2 L297.9 317.1 L298.9 317.1 L299.9 317.0 L300.9 316.9 L301.9 316.8 L302.9 316.7 L303.9 316.6 L304.9 316.5 L305.9 316.5 L306.9 316.6 L307.9 316.7 L308.9 316.9 L309.9 317.1 L310.9 317.4 L311.9 317.8 L312.9 318.3 L313.9 318.9 L314.9 319.6 L315.9 320.4 L316.9 321.3 L317.8 322.3 L318.8 323.4 L319.8 324.6 L320.8 325.8 L321.8 327.1 L322.8 328.4 L323.8 329.8 L324.8 331.1 L325.8 332.4 L326.8 333.7 L327.8 334.9 L328.8 336.1 L329.8 337.2 L330.8 338.3 L331.8 339.3 L332.8 340.2 L333.8 341.1 L334.8 341.9 L335.8 342.7 L336.8 343.4 L337.8 344.1 L338.8 344.7 L339.8 345.3 L340.8 345.8 L341.8 346.3 L342.8 346.7 L343.8 347.1 L344.8 347.5 L345.8 347.8 L346.8 348.1 L347.8 348.4 L348.8 348.7 L349.8 349.0 L350.8 349.2 L351.8 349.4 L352.8 349.7 L353.8 349.8 L354.8 350.0 L355.8 350.2 L356.8 350.3 L357.7 350.5 L358.7 350.6 L359.7 350.7 L360.7 350.9 L361.7 351.0 L362.7 351.1 L363.7 351.2 L364.7 351.3 L365.7 351.4 L366.7 351.5 L367.7 351.5 L368.7 351.6 L369.7 351.7 L370.7 351.8 L371.7 351.9 L372.7 351.9 L373.7 352.0 L374.7 352.1 L375.7 352.2 L376.7 352.2 L377.7 352.3 L378.7 352.4 L379.7 352.5 L380.7 352.5 L381.7 352.6 L382.7 352.7 L383.7 352.8 L384.7 352.8 L385.7 352.9 L386.7 353.0 L387.7 353.1 L388.7 353.2 L389.7 353.2 L390.7 353.3 L391.7 353.4 L392.7 353.5 L393.7 353.6 L394.7 353.7 L395.7 353.8 L396.6 354.0 L397.6 354.1 L398.6 354.2 L399.6 354.3 L400.6 354.5 L401.6 354.6 L402.6 354.7 L403.6 354.9 L404.6 355.0 L405.6 355.2 L406.6 355.4 L407.6 355.5 L408.6 355.7 L409.6 355.9 L410.6 356.1 L411.6 356.3 L412.6 356.5 L413.6 356.7 L414.6 356.9 L415.6 357.2 L416.6 357.4 L417.6 357.7 L418.6 357.9 L419.6 358.2 L420.6 358.5 L421.6 358.8 L422.6 359.1 L423.6 359.4 L424.6 359.7 L425.6 360.0 L426.6 360.4 L427.6 360.7 L428.6 361.1 L429.6 361.4 L430.6 361.8 L431.6 362.2 L432.6 362.6 L433.6 363.0 L434.6 363.4 L435.6 363.8 L436.5 364.2 L437.5 364.6 L438.5 365.0 L439.5 365.4 L440.5 365.8 L441.5 366.2 L442.5 366.7 L443.5 367.1 L444.5 367.5 L445.5 367.9 L446.5 368.3 L447.5 368.6 L448.5 369.0 L449.5 369.4 L450.5 369.8 L451.5 370.1 L452.5 370.5 L453.5 370.8 L454.5 371.1 L455.5 371.5 L456.5 371.8 L457.5 372.1 L458.5 372.3 L459.5 372.6 L460.5 372.9 L461.5 373.1 L462.5 373.4 L463.5 373.6 L464.5 373.9 L465.5 374.1 L466.5 374.3 L467.5 374.5 L468.5 374.7 L469.5 374.9 L470.5 375.1 L471.5 375.2 L472.5 375.4 L473.5 375.6 L474.5 375.7 L475.4 375.8 L476.4 376.0 L477.4 376.1 L478.4 376.2 L479.4 376.4 L480.4 376.5 L481.4 376.6 L482.4 376.7 L483.4 376.8 L484.4 376.9 L485.4 377.0 L486.4 377.0 L487.4 377.1 L488.4 377.2 L489.4 377.3 L490.4 377.4 L491.4 377.4 L492.4 377.5 L493.4 377.6 L494.4 377.6 L495.4 377.7 L496.4 377.7 L497.4 377.8 L498.4 377.8 L499.4 377.9 L500.4 377.9 L501.4 378.0 L502.4 378.0 L503.4 378.0 L504.4 378.1 L505.4 378.1 L506.4 378.1 L507.4 378.2 L508.4 378.2 L509.4 378.2 L510.4 378.3 L511.4 378.3 L512.4 378.3 L513.4 378.3 L514.4 378.4 L515.3 378.4 L516.3 378.4 L517.3 378.4 L518.3 378.4 L519.3 378.5 L520.3 378.5 L521.3 378.5 L522.3 378.5 L523.3 378.5 L524.3 378.5 L525.3 378.5 L526.3 378.6 L527.3 378.6 L528.3 378.6 L529.3 378.6 L530.3 378.6 L531.3 378.6 L532.3 378.6 L533.3 378.6 L534.3 378.6" stroke="#096fb3"/>
<path d="M61.5 304.0 L62.5 304.0 L63.5 304.0 L64.5 304.0 L65.5 304.0 L66.5 303.9 L67.5 303.9 L68.5 303.9 L69.5 303.9 L70.5 303.9 L71.5 303.9 L72.5 303.8 L73.5 303.8 L74.5 303.8 L75.5 303.8 L76.5 303.8 L77.5 303.7 L78.5 303.7 L79.5 303.7 L80.5 303.7 L81.4 303.6 L82.4 303.6 L83.4 303.6 L84.4 303.5 L85.4 303.5 L86.4 303.5 L87.4 303.4 L88.4 303.4 L89.4 303.4 L90.4 303.3 L91.4 303.3 L92.4 303.2 L93.4 303.2 L94.4 303.1 L95.4 303.1 L96.4 303.0 L97.4 302.9 L98.4 302.9 L99.4 302.8 L100.4 302.7 L101.4 302.7 L102.4 302.6 L103.4 302.5 L104.4 302.4 L105.4 302.3 L106.4 302.3 L107.4 302.2 L108.4 302.1 L109.4 301.9 L110.4 301.8 L111.4 301.7 L112.4 301.6 L113.4 301.5 L114.4 301.3 L115.4 301.2 L116.4 301.0 L117.4 300.9 L118.4 300.7 L119.4 300.5 L120.4 300.3 L121.3 300.1 L122.3 299.9 L123.3 299.7 L124.3 299.5 L125.3 299.2 L126.3 299.0 L127.3 298.7 L128.3 298.4 L129.3 298.2 L130.3 297.8 L131.3 297.5 L132.3 297.2 L133.3 296.8 L134.3 296.5 L135.3 296.1 L136.3 295.7 L137.3 295.2 L138.3 294.8 L139.3 294.3 L140.3 293.8 L141.3 293.3 L142.3 292.8 L143.3 292.3 L144.3 291.7 L145.3 291.2 L146.3 290.6 L147.3 290.0 L148.3 289.4 L149.3 288.8 L150.3 288.2 L151.3 287.6 L152.3 286.9 L153.3 286.3 L154.3 285.6 L155.3 285.0 L156.3 284.3 L157.3 283.6 L158.3 282.9 L159.3 282.2 L160.2 281.6 L161.2 280.9 L162.2 280.2 L163.2 279.6 L164.2 279.0 L165.2 278.3 L166.2 277.7 L167.2 277.2 L168.2 276.6 L169.2 276.1 L170.2 275.6 L171.2 275.1 L172.2 274.6 L173.2 274.1 L174.2 273.6 L175.2 273.2 L176.2 272.8 L177.2 272.4 L178.2 272.0 L179.2 271.6 L180.2 271.3 L181.2 271.0 L182.2 270.7 L183.2 270.4 L184.2 270.2 L185.2 270.0 L186.2 269.8 L187.2 269.6 L188.2 269.5 L189.2 269.3 L190.2 269.2 L191.2 269.1 L192.2 269.1 L193.2 269.0 L194.2 268.9 L195.2 268.9 L196.2 268.9 L197.2 268.9 L198.2 269.0 L199.2 269.0 L200.1 269.1 L201.1 269.1 L202.1 269.2 L203.1 269.3 L204.1 269.4 L205.1 269.5 L206.1 269.7 L207.1 269.8 L208.1 269.9 L209.1 270.1 L210.1 270.3 L211.1 270.4 L212.1 270.6 L213.1 270.8 L214.1 271.0 L215.1 271.2 L216.1 271.4 L217.1 271.6 L218.1 271.8 L219.1 272.0 L220.1 272.2 L221.1 272.4 L222.1 272.6 L223.1 272.9 L224.1 273.1 L225.1 273.4 L226.1 273.6 L227.1 273.8 L228.1 274.1 L229.1 274.3 L230.1 274.6 L231.1 274.9 L232.1 275.1 L233.1 275.4 L234.1 275.7 L235.1 276.0 L236.1 276.2 L237.1 276.5 L238.1 276.8 L239.0 277.1 L240.0 277.5 L241.0 277.8 L242.0 278.1 L243.0 278.5 L244.0 278.8 L245.0 279.2 L246.0 279.6 L247.0 280.0 L248.0 280.4 L249.0 280.9 L250.0 281.3 L251.0 281.9 L252.0 282.4 L253.0 283.0 L254.0 283.6 L255.0 284.3 L256.0 285.0 L257.0 285.7 L258.0 286.5 L259.0 287.3 L260.0 288.1 L261.0 289.0 L262.0 289.9 L263.0 290.8 L264.0 291.8 L265.0 292.8 L266.0 293.9 L267.0 294.9 L268.0 296.0 L269.0 297.1 L270.0 298.3 L271.0 299.4 L272.0 300.5 L273.0 301.6 L274.0 302.7 L275.0 303.8 L276.0 304.8 L277.0 305.8 L278.0 306.7 L278.9 307.6 L279.9 308.4 L280.9 309.2 L281.9 309.9 L282.9 310.5 L283.9 311.1 L284.9 311.6 L285.9 312.0 L286.9 312.3 L287.9 312.6 L288.9 312.9 L289.9 313.1 L290.9 313.2 L291.9 313.3 L292.9 313.4 L293.9 313.4 L294.9 313.5 L295.9 313.5 L296.9 313.4 L297.9 313.4 L298.9 313.3 L299.9 313.2 L300.9 313.1 L301.9 313.0 L302.9 312.9 L303.9 312.8 L304.9 312.8 L305.9 312.8 L306.9 312.9 L307.9 313.0 L308.9 313.1 L309.9 313.4 L310.9 313.7 L311.9 314.1 L312.9 314.5 L313.9 315.1 L314.9 315.8 L315.9 316.7 L316.9 317.6 L317.8 318.6 L318.8 319.7 L319.8 320.9 L320.8 322.1 L321.8 323.4 L322.8 324.7 L323.8 326.0 L324.8 327.4 L325.8 328.7 L326.8 330.0 L327.8 331.2 L328.8 332.4 L329.8 333.5 L330.8 334.6 L331.8 335.6 L332.8 336.5 L333.8 337.4 L334.8 338.2 L335.8 339.0 L336.8 339.7 L337.8 340.4 L338.8 341.0 L339.8 341.6 L340.8 342.1 L341.8 342.6 L342.8 343.0 L343.8 343.4 L344.8 343.8 L345.8 344.1 L346.8 344.4 L347.8 344.7 L348.8 345.0 L349.8 345.3 L350.8 345.5 L351.8 345.7 L352.8 345.9 L353.8 346.1 L354.8 346.3 L355.8 346.5 L356.8 346.6 L357.7 346.8 L358.7 346.9 L359.7 347.0 L360.7 347.2 L361.7 347.3 L362.7 347.4 L363.7 347.5 L364.7 347.6 L365.7 347.7 L366.7 347.8 L367.7 347.9 L368.7 348.0 L369.7 348.0 L370.7 348.1 L371.7 348.2 L372.7 348.3 L373.7 348.4 L374.7 348.5 L375.7 348.5 L376.7 348.6 L377.7 348.7 L378.7 348.8 L379.7 348.8 L380.7 348.9 L381.7 349.0 L382.7 349.1 L383.7 349.2 L384.7 349.3 L385.7 349.3 L386.7 349.4 L387.7 349.5 L388.7 349.6 L389.7 349.7 L390.7 349.8 L391.7 349.9 L392.7 350.0 L393.7 350.1 L394.7 350.3 L395.7 350.4 L396.6 350.5 L397.6 350.6 L398.6 350.8 L399.6 350.9 L400.6 351.1 L401.6 351.2 L402.6 351.4 L403.6 351.5 L404.6 351.7 L405.6 351.9 L406.6 352.1 L407.6 352.3 L408.6 352.5 L409.6 352.7 L410.6 352.9 L411.6 353.1 L412.6 353.4 L413.6 353.6 L414.6 353.9 L415.6 354.2 L416.6 354.4 L417.6 354.7 L418.6 355.0 L419.6 355.3 L420.6 355.6 L421.6 356.0 L422.6 356.3 L423.6 356.7 L424.6 357.0 L425.6 357.4 L426.6 357.8 L427.6 358.2 L428.6 358.6 L429.6 359.0 L430.6 359.4 L431.6 359.9 L432.6 360.3 L433.6 360.8 L434.6 361.2 L435.6 361.7 L436.5 362.1 L437.5 362.6 L438.5 363.1 L439.5 363.5 L440.5 364.0 L441.5 364.5 L442.5 364.9 L443.5 365.4 L444.5 365.9 L445.5 366.3 L446.5 366.8 L447.5 367.2 L448.5 367.6 L449.5 368.1 L450.5 368.5 L451.5 368.9 L452.5 369.3 L453.5 369.7 L454.5 370.0 L455.5 370.4 L456.5 370.8 L457.5 371.1 L458.5 371.4 L459.5 371.7 L460.5 372.1 L461.5 372.3 L462.5 372.6 L463.5 372.9 L464.5 373.2 L465.5 373.4 L466.5 373.7 L467.5 373.9 L468.5 374.1 L469.5 374.3 L470.5 374.5 L471.5 374.7 L472.5 374.9 L473.5 375.1 L474.5 375.3 L475.4 375.4 L476.4 375.6 L477.4 375.7 L478.4 375.9 L479.4 376.0 L480.4 376.1 L481.4 376.3 L482.4 376.4 L483.4 376.5 L484.4 376.6 L485.4 376.7 L486.4 376.8 L487.4 376.9 L488.4 377.0 L489.4 377.1 L490.4 377.2 L491.4 377.2 L492.4 377.3 L493.4 377.4 L494.4 377.4 L495.4 377.5 L496.4 377.6 L497.4 377.6 L498.4 377.7 L499.4 377.7 L500.4 377.8 L501.4 377.8 L502.4 377.9 L503.4 377.9 L504.4 378.0 L505.4 378.0 L506.4 378.0 L507.4 378.1 L508.4 378.1 L509.4 378.1 L510.4 378.2 L511.4 378.2 L512.4 378.2 L513.4 378.3 L514.4 378.3 L515.3 378.3 L516.3 378.3 L517.3 378.4 L518.3 378.4 L519.3 378.4 L520.3 378.4 L521.3 378.4 L522.3 378.5 L523.3 378.5 L524.3 378.5 L525.3 378.5 L526.3 378.5 L527.3 378.5 L528.3 378.5 L529.3 378.6 L530.3 378.6 L531.3 378.6 L532.3 378.6 L533.3 378.6 L534.3 378.6" stroke="#cf5622"/>
<path d="M61.5 304.0 L62.5 304.0 L63.5 304.0 L64.5 303.9 L65.5 303.9 L66.5 303.9 L67.5 303.9 L68.5 303.9 L69.5 303.9 L70.5 303.8 L71.5 303.8 L72.5 303.8 L73.5 303.8 L74.5 303.8 L75.5 303.7 L76.5 303.7 L77.5 303.7 L78.5 303.7 L79.5 303.6 L80.5 303.6 L81.4 303.6 L82.4 303.5 L83.4 303.5 L84.4 303.5 L85.4 303.4 L86.4 303.4 L87.4 303.3 L88.4 303.3 L89.4 303.3 L90.4 303.2 L91.4 303.2 L92.4 303.1 L93.4 303.0 L94.4 303.0 L95.4 302.9 L96.4 302.9 L97.4 302.8 L98.4 302.7 L99.4 302.6 L100.4 302.6 L101.4 302.5 L102.4 302.4 L103.4 302.3 L104.4 302.2 L105.4 302.1 L106.4 302.0 L107.4 301.9 L108.4 301.8 L109.4 301.7 L110.4 301.6 L111.4 301.4 L112.4 301.3 L113.4 301.1 L114.4 301.0 L115.4 300.8 L116.4 300.6 L117.4 300.5 L118.4 300.3 L119.4 300.1 L120.4 299.9 L121.3 299.6 L122.3 299.4 L123.3 299.2 L124.3 298.9 L125.3 298.7 L126.3 298.4 L127.3 298.1 L128.3 297.8 L129.3 297.5 L130.3 297.1 L131.3 296.8 L132.3 296.4 L133.3 296.0 L134.3 295.6 L135.3 295.2 L136.3 294.7 L137.3 294.3 L138.3 293.8 L139.3 293.3 L140.3 292.7 L141.3 292.2 L142.3 291.6 L143.3 291.0 L144.3 290.4 L145.3 289.8 L146.3 289.2 L147.3 288.6 L148.3 287.9 L149.3 287.3 L150.3 286.6 L151.3 285.9 L152.3 285.2 L153.3 284.5 L154.3 283.8 L155.3 283.1 L156.3 282.3 L157.3 281.6 L158.3 280.9 L159.3 280.1 L160.2 279.4 L161.2 278.7 L162.2 278.0 L163.2 277.3 L164.2 276.6 L165.2 275.9 L166.2 275.3 L167.2 274.6 L168.2 274.0 L169.2 273.5 L170.2 272.9 L171.2 272.3 L172.2 271.8 L173.2 271.3 L174.2 270.8 L175.2 270.3 L176.2 269.9 L177.2 269.4 L178.2 269.0 L179.2 268.6 L180.2 268.2 L181.2 267.9 L182.2 267.6 L183.2 267.3 L184.2 267.0 L185.2 266.8 L186.2 266.6 L187.2 266.4 L188.2 266.2 L189.2 266.0 L190.2 265.9 L191.2 265.8 L192.2 265.7 L193.2 265.6 L194.2 265.6 L195.2 265.5 L196.2 265.5 L197.2 265.5 L198.2 265.5 L199.2 265.5 L200.1 265.6 L201.1 265.6 L202.1 265.7 L203.1 265.8 L204.1 265.9 L205.1 266.0 L206.1 266.1 L207.1 266.2 L208.1 266.4 L209.1 266.5 L210.1 266.7 L211.1 266.8 L212.1 267.0 L213.1 267.2 L214.1 267.4 L215.1 267.6 L216.1 267.7 L217.1 267.9 L218.1 268.1 L219.1 268.3 L220.1 268.6 L221.1 268.8 L222.1 269.0 L223.1 269.2 L224.1 269.5 L225.1 269.7 L226.1 269.9 L227.1 270.2 L228.1 270.4 L229.1 270.7 L230.1 270.9 L231.1 271.2 L232.1 271.4 L233.1 271.7 L234.1 272.0 L235.1 272.3 L236.1 272.5 L237.1 272.8 L238.1 273.1 L239.0 273.4 L240.0 273.8 L241.0 274.1 L242.0 274.4 L243.0 274.7 L244.0 275.1 L245.0 275.5 L246.0 275.9 L247.0 276.3 L248.0 276.7 L249.0 277.1 L250.0 277.6 L251.0 278.1 L252.0 278.7 L253.0 279.3 L254.0 279.9 L255.0 280.6 L256.0 281.3 L257.0 282.0 L258.0 282.8 L259.0 283.6 L260.0 284.4 L261.0 285.3 L262.0 286.2 L263.0 287.1 L264.0 288.1 L265.0 289.1 L266.0 290.1 L267.0 291.2 L268.0 292.3 L269.0 293.4 L270.0 294.5 L271.0 295.7 L272.0 296.8 L273.0 297.9 L274.0 299.0 L275.0 300.0 L276.0 301.0 L277.0 302.0 L278.0 303.0 L278.9 303.8 L279.9 304.7 L280.9 305.4 L281.9 306.1 L282.9 306.8 L283.9 307.3 L284.9 307.8 L285.9 308.2 L286.9 308.6 L287.9 308.9 L288.9 309.1 L289.9 309.3 L290.9 309.5 L291.9 309.6 L292.9 309.7 L293.9 309.7 L294.9 309.7 L295.9 309.7 L296.9 309.7 L297.9 309.7 L298.9 309.6 L299.9 309.5 L300.9 309.4 L301.9 309.3 L302.9 309.2 L303.9 309.1 L304.9 309.1 L305.9 309.1 L306.9 309.1 L307.9 309.2 L308.9 309.4 L309.9 309.6 L310.9 309.9 L311.9 310.3 L312.9 310.8 L313.9 311.4 L314.9 312.1 L315.9 312.9 L316.9 313.8 L317.8 314.9 L318.8 316.0 L319.8 317.1 L320.8 318.4 L321.8 319.7 L322.8 321.0 L323.8 322.3 L324.8 323.6 L325.8 324.9 L326.8 326.2 L327.8 327.5 L328.8 328.7 L329.8 329.8 L330.8 330.8 L331.8 331.9 L332.8 332.8 L333.8 333.7 L334.8 334.5 L335.8 335.3 L336.8 336.0 L337.8 336.7 L338.8 337.3 L339.8 337.8 L340.8 338.4 L341.8 338.8 L342.8 339.3 L343.8 339.7 L344.8 340.1 L345.8 340.4 L346.8 340.7 L347.8 341.0 L348.8 341.3 L349.8 341.6 L350.8 341.8 L351.8 342.0 L352.8 342.2 L353.8 342.4 L354.8 342.6 L355.8 342.8 L356.8 342.9 L357.7 343.1 L358.7 343.2 L359.7 343.4 L360.7 343.5 L361.7 343.6 L362.7 343.7 L363.7 343.8 L364.7 343.9 L365.7 344.0 L366.7 344.1 L367.7 344.2 L368.7 344.3 L369.7 344.4 L370.7 344.5 L371.7 344.6 L372.7 344.6 L373.7 344.7 L374.7 344.8 L375.7 344.9 L376.7 345.0 L377.7 345.1 L378.7 345.2 L379.7 345.2 L380.7 345.3 L381.7 345.4 L382.7 345.5 L383.7 345.6 L384.7 345.7 L385.7 345.8 L386.7 345.9 L387.7 346.0 L388.7 346.1 L389.7 346.2 L390.7 346.3 L391.7 346.4 L392.7 346.5 L393.7 346.7 L394.7 346.8 L395.7 346.9 L396.6 347.1 L397.6 347.2 L398.6 347.4 L399.6 347.5 L400.6 347.7 L401.6 347.9 L402.6 348.0 L403.6 348.2 L404.6 348.4 L405.6 348.6 L406.6 348.8 L407.6 349.0 L408.6 349.3 L409.6 349.5 L410.6 349.8 L411.6 350.0 L412.6 350.3 L413.6 350.6 L414.6 350.8 L415.6 351.1 L416.6 351.4 L417.6 351.8 L418.6 352.1 L419.6 352.5 L420.6 352.8 L421.6 353.2 L422.6 353.6 L423.6 354.0 L424.6 354.4 L425.6 354.8 L426.6 355.2 L427.6 355.7 L428.6 356.1 L429.6 356.6 L430.6 357.1 L431.6 357.5 L432.6 358.0 L433.6 358.5 L434.6 359.1 L435.6 359.6 L436.5 360.1 L437.5 360.6 L438.5 361.1 L439.5 361.7 L440.5 362.2 L441.5 362.7 L442.5 363.2 L443.5 363.8 L444.5 364.3 L445.5 364.8 L446.5 365.3 L447.5 365.8 L448.5 366.3 L449.5 366.7 L450.5 367.2 L451.5 367.7 L452.5 368.1 L453.5 368.5 L454.5 369.0 L455.5 369.4 L456.5 369.8 L457.5 370.1 L458.5 370.5 L459.5 370.9 L460.5 371.2 L461.5 371.5 L462.5 371.9 L463.5 372.2 L464.5 372.5 L465.5 372.7 L466.5 373.0 L467.5 373.3 L468.5 373.5 L469.5 373.8 L470.5 374.0 L471.5 374.2 L472.5 374.4 L473.5 374.6 L474.5 374.8 L475.4 375.0 L476.4 375.2 L477.4 375.3 L478.4 375.5 L479.4 375.7 L480.4 375.8 L481.4 375.9 L482.4 376.1 L483.4 376.2 L484.4 376.3 L485.4 376.4 L486.4 376.6 L487.4 376.7 L488.4 376.8 L489.4 376.9 L490.4 376.9 L491.4 377.0 L492.4 377.1 L493.4 377.2 L494.4 377.3 L495.4 377.3 L496.4 377.4 L497.4 377.5 L498.4 377.5 L499.4 377.6 L500.4 377.7 L501.4 377.7 L502.4 377.8 L503.4 377.8 L504.4 377.9 L505.4 377.9 L506.4 377.9 L507.4 378.0 L508.4 378.0 L509.4 378.1 L510.4 378.1 L511.4 378.1 L512.4 378.2 L513.4 378.2 L514.4 378.2 L515.3 378.3 L516.3 378.3 L517.3 378.3 L518.3 378.3 L519.3 378.4 L520.3 378.4 L521.3 378.4 L522.3 378.4 L523.3 378.4 L524.3 378.5 L525.3 378.5 L526.3 378.5 L527.3 378.5 L528.3 378.5 L529.3 378.5 L530.3 378.5 L531.3 378.6 L532.3 378.6 L533.3 378.6 L534.3 378.6" stroke="#e7b12f"/>
<path d="M61.5 266.8 L62.5 266.8 L63.5 266.8 L64.5 266.8 L65.5 266.8 L66.5 266.8 L67.5 266.8 L68.5 266.8 L69.5 266.8 L70.5 266.8 L71.5 266.8 L72.5 266.8 L73.5 266.8 L74.5 266.8 L75.5 266.8 L76.5 266.8 L77.5 266.8 L78.5 266.8 L79.5 266.8 L80.5 266.8 L81.4 266.8 L82.4 266.8 L83.4 266.7 L84.4 266.7 L85.4 266.7 L86.4 266.7 L87.4 266.7 L88.4 266.7 L89.4 266.7 L90.4 266.7 L91.4 266.7 L92.4 266.7 L93.4 266.7 L94.4 266.7 L95.4 266.7 L96.4 266.7 L97.4 266.7 L98.4 266.7 L99.4 266.7 L100.4 266.7 L101.4 266.6 L102.4 266.6 L103.4 266.6 L104.4 266.6 L105.4 266.6 L106.4 266.6 L107.4 266.6 L108.4 266.6 L109.4 266.6 L110.4 266.6 L111.4 266.6 L112.4 266.5 L113.4 266.5 L114.4 266.5 L115.4 266.5 L116.4 266.5 L117.4 266.4 L118.4 266.4 L119.4 266.4 L120.4 266.4 L121.3 266.3 L122.3 266.3 L123.3 266.3 L124.3 266.2 L125.3 266.2 L126.3 266.1 L127.3 266.1 L128.3 266.1 L129.3 266.0 L130.3 265.9 L131.3 265.9 L132.3 265.8 L133.3 265.7 L134.3 265.7 L135.3 265.6 L136.3 265.5 L137.3 265.4 L138.3 265.2 L139.3 265.1 L140.3 265.0 L141.3 264.9 L142.3 264.7 L143.3 264.6 L144.3 264.4 L145.3 264.3 L146.3 264.2 L147.3 264.0 L148.3 263.8 L149.3 263.7 L150.3 263.5 L151.3 263.3 L152.3 263.2 L153.3 263.0 L154.3 262.8 L155.3 262.6 L156.3 262.4 L157.3 262.2 L158.3 261.9 L159.3 261.7 L160.2 261.5 L161.2 261.3 L162.2 261.1 L163.2 260.8 L164.2 260.6 L165.2 260.4 L166.2 260.3 L167.2 260.1 L168.2 259.9 L169.2 259.7 L170.2 259.6 L171.2 259.4 L172.2 259.3 L173.2 259.2 L174.2 259.0 L175.2 258.9 L176.2 258.8 L177.2 258.7 L178.2 258.6 L179.2 258.5 L180.2 258.4 L181.2 258.3 L182.2 258.3 L183.2 258.2 L184.2 258.2 L185.2 258.2 L186.2 258.2 L187.2 258.2 L188.2 258.2 L189.2 258.3 L190.2 258.3 L191.2 258.4 L192.2 258.5 L193.2 258.6 L194.2 258.7 L195.2 258.8 L196.2 258.9 L197.2 259.0 L198.2 259.2 L199.2 259.3 L200.1 259.5 L201.1 259.6 L202.1 259.8 L203.1 260.0 L204.1 260.2 L205.1 260.4 L206.1 260.6 L207.1 260.8 L208.1 261.0 L209.1 261.3 L210.1 261.5 L211.1 261.7 L212.1 261.9 L213.1 262.2 L214.1 262.4 L215.1 262.7 L216.1 262.9 L217.1 263.2 L218.1 263.4 L219.1 263.7 L220.1 263.9 L221.1 264.2 L222.1 264.4 L223.1 264.7 L224.1 265.0 L225.1 265.2 L226.1 265.5 L227.1 265.8 L228.1 266.1 L229.1 266.3 L230.1 266.6 L231.1 266.9 L232.1 267.2 L233.1 267.5 L234.1 267.8 L235.1 268.1 L236.1 268.4 L237.1 268.7 L238.1 269.0 L239.0 269.3 L240.0 269.7 L241.0 270.0 L242.0 270.4 L243.0 270.7 L244.0 271.1 L245.0 271.5 L246.0 271.9 L247.0 272.3 L248.0 272.7 L249.0 273.2 L250.0 273.7 L251.0 274.2 L252.0 274.8 L253.0 275.4 L254.0 276.0 L255.0 276.7 L256.0 277.4 L257.0 278.1 L258.0 278.9 L259.0 279.7 L260.0 280.5 L261.0 281.4 L262.0 282.3 L263.0 283.3 L264.0 284.2 L265.0 285.3 L266.0 286.3 L267.0 287.4 L268.0 288.5 L269.0 289.6 L270.0 290.7 L271.0 291.8 L272.0 293.0 L273.0 294.1 L274.0 295.2 L275.0 296.2 L276.0 297.2 L277.0 298.2 L278.0 299.2 L278.9 300.0 L279.9 300.9 L280.9 301.6 L281.9 302.3 L282.9 303.0 L283.9 303.5 L284.9 304.0 L285.9 304.5 L286.9 304.8 L287.9 305.1 L288.9 305.4 L289.9 305.6 L290.9 305.7 L291.9 305.8 L292.9 305.9 L293.9 305.9 L294.9 305.9 L295.9 305.9 L296.9 305.9 L297.9 305.9 L298.9 305.8 L299.9 305.7 L300.9 305.6 L301.9 305.5 L302.9 305.4 L303.9 305.3 L304.9 305.3 L305.9 305.3 L306.9 305.3 L307.9 305.4 L308.9 305.6 L309.9 305.8 L310.9 306.1 L311.9 306.5 L312.9 307.0 L313.9 307.6 L314.9 308.3 L315.9 309.1 L316.9 310.0 L317.8 311.1 L318.8 312.2 L319.8 313.3 L320.8 314.6 L321.8 315.8 L322.8 317.2 L323.8 318.5 L324.8 319.8 L325.8 321.1 L326.8 322.4 L327.8 323.6 L328.8 324.8 L329.8 325.9 L330.8 327.0 L331.8 328.0 L332.8 328.9 L333.8 329.8 L334.8 330.6 L335.8 331.4 L336.8 332.1 L337.8 332.8 L338.8 333.4 L339.8 333.9 L340.8 334.4 L341.8 334.9 L342.8 335.3 L343.8 335.7 L344.8 336.1 L345.8 336.4 L346.8 336.7 L347.8 337.0 L348.8 337.3 L349.8 337.6 L350.8 337.8 L351.8 338.0 L352.8 338.2 L353.8 338.4 L354.8 338.5 L355.8 338.7 L356.8 338.8 L357.7 339.0 L358.7 339.1 L359.7 339.2 L360.7 339.3 L361.7 339.4 L362.7 339.5 L363.7 339.6 L364.7 339.6 L365.7 339.7 L366.7 339.8 L367.7 339.8 L368.7 339.9 L369.7 339.9 L370.7 340.0 L371.7 340.0 L372.7 340.1 L373.7 340.1 L374.7 340.2 L375.7 340.2 L376.7 340.3 L377.7 340.3 L378.7 340.3 L379.7 340.4 L380.7 340.4 L381.7 340.4 L382.7 340.4 L383.7 340.5 L384.7 340.5 L385.7 340.5 L386.7 340.5 L387.7 340.5 L388.7 340.6 L389.7 340.6 L390.7 340.6 L391.7 340.6 L392.7 340.6 L393.7 340.7 L394.7 340.7 L395.7 340.7 L396.6 340.7 L397.6 340.7 L398.6 340.8 L399.6 340.8 L400.6 340.8 L401.6 340.8 L402.6 340.8 L403.6 340.8 L404.6 340.9 L405.6 340.9 L406.6 340.9 L407.6 340.9 L408.6 340.9 L409.6 340.9 L410.6 340.9 L411.6 340.9 L412.6 341.0 L413.6 341.0 L414.6 341.0 L415.6 341.0 L416.6 341.0 L417.6 341.0 L418.6 341.0 L419.6 341.0 L420.6 341.1 L421.6 341.1 L422.6 341.1 L423.6 341.1 L424.6 341.1 L425.6 341.1 L426.6 341.1 L427.6 341.1 L428.6 341.1 L429.6 341.1 L430.6 341.1 L431.6 341.1 L432.6 341.2 L433.6 341.2 L434.6 341.2 L435.6 341.2 L436.5 341.2 L437.5 341.2 L438.5 341.2 L439.5 341.2 L440.5 341.2 L441.5 341.2 L442.5 341.2 L443.5 341.2 L444.5 341.2 L445.5 341.2 L446.5 341.2 L447.5 341.2 L448.5 341.2 L449.5 341.2 L450.5 341.2 L451.5 341.2 L452.5 341.2 L453.5 341.2 L454.5 341.2 L455.5 341.3 L456.5 341.3 L457.5 341.3 L458.5 341.3 L459.5 341.3 L460.5 341.3 L461.5 341.3 L462.5 341.3 L463.5 341.3 L464.5 341.3 L465.5 341.3 L466.5 341.3 L467.5 341.3 L468.5 341.3 L469.5 341.3 L470.5 341.3 L471.5 341.3 L472.5 341.3 L473.5 341.3 L474.5 341.3 L475.4 341.3 L476.4 341.3 L477.4 341.3 L478.4 341.3 L479.4 341.3 L480.4 341.3 L481.4 341.3 L482.4 341.3 L483.4 341.3 L484.4 341.3 L485.4 341.3 L486.4 341.3 L487.4 341.3 L488.4 341.3 L489.4 341.3 L490.4 341.3 L491.4 341.4 L492.4 341.4 L493.4 341.4 L494.4 341.4 L495.4 341.4 L496.4 341.4 L497.4 341.4 L498.4 341.4 L499.4 341.4 L500.4 341.4 L501.4 341.4 L502.4 341.4 L503.4 341.4 L504.4 341.4 L505.4 341.4 L506.4 341.4 L507.4 341.4 L508.4 341.4 L509.4 341.4 L510.4 341.4 L511.4 341.4 L512.4 341.4 L513.4 341.4 L514.4 341.4 L515.3 341.4 L516.3 341.4 L517.3 341.4 L518.3 341.4 L519.3 341.4 L520.3 341.4 L521.3 341.4 L522.3 341.4 L523.3 341.4 L524.3 341.4 L525.3 341.4 L526.3 341.4 L527.3 341.4 L528.3 341.4 L529.3 341.4 L530.3 341.4 L531.3 341.4 L532.3 341.4 L533.3 341.4 L534.3 341.4" stroke="#7a3288"/>
</g></g>
<text x="296.4" y="15.3" font-size="15.9" fill="#0a0a0a" text-anchor="middle" font-weight="bold" textLength="110.5" lengthAdjust="spacingAndGlyphs">Bode Diagram</text>
<text x="297.5" y="38.1" font-size="13.6" fill="#707070" text-anchor="middle" font-weight="normal" textLength="271.0" lengthAdjust="spacingAndGlyphs" xml:space="preserve">From: elevator deflection  To: pitch angle</text>
<text transform="translate(54.7 52.8) scale(1.110 1)" font-size="13.2" fill="#707070" text-anchor="end" font-weight="normal">0</text>
<text transform="translate(54.7 95.7) scale(1.110 1)" font-size="13.2" fill="#707070" text-anchor="end" font-weight="normal">-50</text>
<text transform="translate(54.7 137.8) scale(1.110 1)" font-size="13.2" fill="#707070" text-anchor="end" font-weight="normal">-100</text>
<text transform="translate(54.7 180.0) scale(1.110 1)" font-size="13.2" fill="#707070" text-anchor="end" font-weight="normal">-150</text>
<text transform="translate(54.7 222.0) scale(1.110 1)" font-size="13.2" fill="#707070" text-anchor="end" font-weight="normal">-200</text>
<text transform="translate(54.7 235.5) scale(1.110 1)" font-size="13.2" fill="#707070" text-anchor="end" font-weight="normal">360</text>
<text transform="translate(54.7 273.0) scale(1.110 1)" font-size="13.2" fill="#707070" text-anchor="end" font-weight="normal">270</text>
<text transform="translate(54.7 309.7) scale(1.110 1)" font-size="13.2" fill="#707070" text-anchor="end" font-weight="normal">180</text>
<text transform="translate(54.7 348.2) scale(1.110 1)" font-size="13.2" fill="#707070" text-anchor="end" font-weight="normal">90</text>
<text transform="translate(54.7 385.5) scale(1.110 1)" font-size="13.2" fill="#707070" text-anchor="end" font-weight="normal">0</text>
<text transform="translate(47.3 402.9) scale(1.030 1)" font-size="13.2" fill="#707070" text-anchor="start" font-weight="normal">10</text>
<text x="62.7" y="396.4" font-size="10.2" fill="#707070" text-anchor="start" font-weight="normal" textLength="11.4" lengthAdjust="spacingAndGlyphs">-5</text>
<text transform="translate(286.5 402.9) scale(1.030 1)" font-size="13.2" fill="#707070" text-anchor="start" font-weight="normal">10</text>
<text x="302.0" y="396.4" font-size="10.2" fill="#707070" text-anchor="start" font-weight="normal" textLength="6.2" lengthAdjust="spacingAndGlyphs">0</text>
<text transform="translate(523.5 402.9) scale(1.030 1)" font-size="13.2" fill="#707070" text-anchor="start" font-weight="normal">10</text>
<text x="539.2" y="396.4" font-size="10.2" fill="#707070" text-anchor="start" font-weight="normal" textLength="6.2" lengthAdjust="spacingAndGlyphs">5</text>
<text transform="translate(15.9 182.9) rotate(-90) scale(1 1.05)" font-size="15.4" fill="#1a1a1a" stroke="#1a1a1a" stroke-width="0.2">Magnitude (dB)</text>
<text transform="translate(20.2 345.6) rotate(-90) scale(1 1.05)" font-size="15.4" fill="#1a1a1a" stroke="#1a1a1a" stroke-width="0.2">Phase (deg)</text>
<text x="297.1" y="421.3" font-size="15.2" fill="#1a1a1a" text-anchor="middle" font-weight="normal" textLength="133.5" lengthAdjust="spacingAndGlyphs" xml:space="preserve" stroke="#1a1a1a" stroke-width="0.2">Frequency  (rad/s)</text>
<rect x="390.5" y="235.8" width="131.3" height="191.5" fill="#fff" stroke="#3c3c3c" stroke-width="1.2"/>
<line x1="395" y1="246.4" x2="437.8" y2="246.4" stroke="#096fb3" stroke-width="1.05" filter="url(#bl)"/>
<text transform="translate(442.6 251.0) scale(1.080 1)" font-size="12.5" fill="#151515" text-anchor="start" font-weight="normal" stroke="#151515" stroke-width="0.2">without -pre-</text>
<line x1="395" y1="264.4" x2="437.8" y2="264.4" stroke="#cf5622" stroke-width="1.05" filter="url(#bl)"/>
<text transform="translate(442.6 269.0) scale(1.080 1)" font-size="12.5" fill="#151515" text-anchor="start" font-weight="normal" stroke="#151515" stroke-width="0.2">Mu=0.1</text>
<line x1="395" y1="281.0" x2="437.8" y2="281.0" stroke="#e7b12f" stroke-width="1.05" filter="url(#bl)"/>
<text transform="translate(442.6 285.6) scale(1.080 1)" font-size="12.5" fill="#151515" text-anchor="start" font-weight="normal" stroke="#151515" stroke-width="0.2">Mu=0.2</text>
<line x1="395" y1="297.9" x2="437.8" y2="297.9" stroke="#7a3288" stroke-width="1.05" filter="url(#bl)"/>
<text transform="translate(442.6 302.5) scale(1.080 1)" font-size="12.5" fill="#151515" text-anchor="start" font-weight="normal" stroke="#151515" stroke-width="0.2">Mu=0.3</text>
<line x1="395" y1="314.6" x2="437.8" y2="314.6" stroke="#79a939" stroke-width="1.05" filter="url(#bl)"/>
<text transform="translate(442.6 319.2) scale(1.080 1)" font-size="12.5" fill="#151515" text-anchor="start" font-weight="normal" stroke="#151515" stroke-width="0.2">Mu=0.4</text>
<line x1="395" y1="332.4" x2="437.8" y2="332.4" stroke="#55bbe6" stroke-width="1.05" filter="url(#bl)"/>
<text transform="translate(442.6 337.0) scale(1.080 1)" font-size="12.5" fill="#151515" text-anchor="start" font-weight="normal" stroke="#151515" stroke-width="0.2">Mu=0.5</text>
<line x1="395" y1="349.5" x2="437.8" y2="349.5" stroke="#981931" stroke-width="1.05" filter="url(#bl)"/>
<text transform="translate(442.6 354.1) scale(1.080 1)" font-size="12.5" fill="#151515" text-anchor="start" font-weight="normal" stroke="#151515" stroke-width="0.2">Mu=0.6</text>
<line x1="395" y1="366.6" x2="437.8" y2="366.6" stroke="#096fb3" stroke-width="1.05" filter="url(#bl)"/>
<text transform="translate(442.6 371.2) scale(1.080 1)" font-size="12.5" fill="#151515" text-anchor="start" font-weight="normal" stroke="#151515" stroke-width="0.2">Mu=0.7</text>
<line x1="395" y1="383.8" x2="437.8" y2="383.8" stroke="#cf5622" stroke-width="1.05" filter="url(#bl)"/>
<text transform="translate(442.6 388.4) scale(1.080 1)" font-size="12.5" fill="#151515" text-anchor="start" font-weight="normal" stroke="#151515" stroke-width="0.2">Mu=0.8</text>
<line x1="395" y1="401.3" x2="437.8" y2="401.3" stroke="#e7b12f" stroke-width="1.05" filter="url(#bl)"/>
<text transform="translate(442.6 405.9) scale(1.080 1)" font-size="12.5" fill="#151515" text-anchor="start" font-weight="normal" stroke="#151515" stroke-width="0.2">Mu=0.9</text>
<line x1="395" y1="418.4" x2="437.8" y2="418.4" stroke="#7a3288" stroke-width="1.05" filter="url(#bl)"/>
<text transform="translate(442.6 423.0) scale(1.080 1)" font-size="12.5" fill="#151515" text-anchor="start" font-weight="normal" stroke="#151515" stroke-width="0.2">Mu=1</text>
</svg></body></html>
